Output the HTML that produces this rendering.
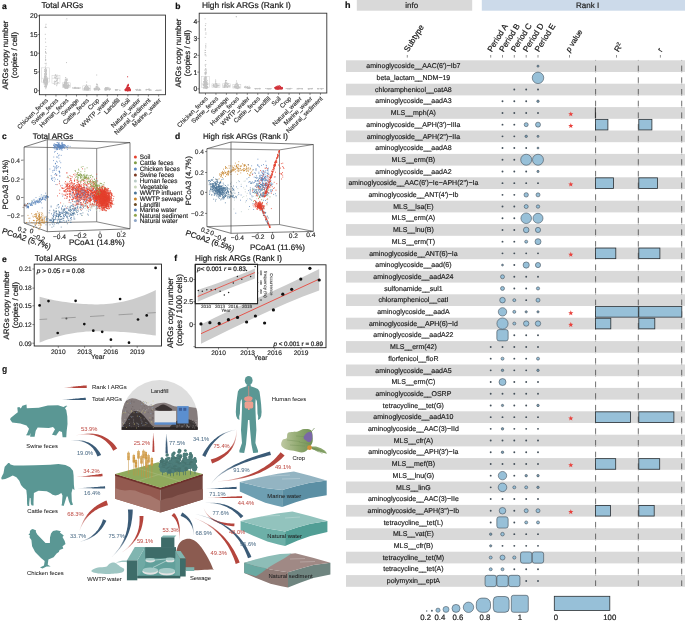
<!DOCTYPE html>
<html><head><meta charset="utf-8"><title>Figure</title>
<style>html,body{margin:0;padding:0;background:#fff;} svg{display:block;} text{font-family:"Liberation Sans", Arial, sans-serif;text-rendering:geometricPrecision;} .pg text{text-rendering:auto;}</style>
</head><body>
<svg width="685" height="621" viewBox="0 0 685 621">
<rect width="685" height="621" fill="#fff"/>
<rect x="356.80" y="0.00" width="115.40" height="10.70" fill="#d9d9d9"/>
<rect x="481.80" y="0.00" width="203.20" height="10.70" fill="#ccdaea"/>
<text x="345.00" y="8.20" font-size="9" font-weight="bold" fill="#111" stroke="#111" stroke-width="0.233">h</text>
<text x="411.80" y="8.20" font-size="8" text-anchor="middle" fill="#222" stroke="#222" stroke-width="0.195">info</text>
<text x="587.60" y="8.20" font-size="8" text-anchor="middle" fill="#222" stroke="#222" stroke-width="0.195">Rank I</text>
<rect x="346.00" y="60.30" width="339.00" height="11.70" fill="#d9d9d9"/>
<rect x="346.00" y="83.70" width="339.00" height="11.70" fill="#d9d9d9"/>
<rect x="346.00" y="107.10" width="339.00" height="11.70" fill="#d9d9d9"/>
<rect x="346.00" y="130.50" width="339.00" height="11.70" fill="#d9d9d9"/>
<rect x="346.00" y="153.90" width="339.00" height="11.70" fill="#d9d9d9"/>
<rect x="346.00" y="177.30" width="339.00" height="11.70" fill="#d9d9d9"/>
<rect x="346.00" y="200.70" width="339.00" height="11.70" fill="#d9d9d9"/>
<rect x="346.00" y="224.10" width="339.00" height="11.70" fill="#d9d9d9"/>
<rect x="346.00" y="247.50" width="339.00" height="11.70" fill="#d9d9d9"/>
<rect x="346.00" y="270.90" width="339.00" height="11.70" fill="#d9d9d9"/>
<rect x="346.00" y="294.30" width="339.00" height="11.70" fill="#d9d9d9"/>
<rect x="346.00" y="317.70" width="339.00" height="11.70" fill="#d9d9d9"/>
<rect x="346.00" y="341.10" width="339.00" height="11.70" fill="#d9d9d9"/>
<rect x="346.00" y="364.50" width="339.00" height="11.70" fill="#d9d9d9"/>
<rect x="346.00" y="387.90" width="339.00" height="11.70" fill="#d9d9d9"/>
<rect x="346.00" y="411.30" width="339.00" height="11.70" fill="#d9d9d9"/>
<rect x="346.00" y="434.70" width="339.00" height="11.70" fill="#d9d9d9"/>
<rect x="346.00" y="458.10" width="339.00" height="11.70" fill="#d9d9d9"/>
<rect x="346.00" y="481.50" width="339.00" height="11.70" fill="#d9d9d9"/>
<rect x="346.00" y="504.90" width="339.00" height="11.70" fill="#d9d9d9"/>
<rect x="346.00" y="528.30" width="339.00" height="11.70" fill="#d9d9d9"/>
<rect x="346.00" y="551.70" width="339.00" height="11.70" fill="#d9d9d9"/>
<rect x="346.00" y="575.10" width="339.00" height="11.70" fill="#d9d9d9"/>
<line x1="595.60" y1="65.60" x2="595.60" y2="71.20" stroke="#333" stroke-width="0.7"/>
<line x1="595.60" y1="59.90" x2="595.60" y2="60.90" stroke="#777" stroke-width="0.5"/>
<line x1="595.60" y1="77.30" x2="595.60" y2="82.90" stroke="#333" stroke-width="0.7"/>
<line x1="595.60" y1="71.60" x2="595.60" y2="72.60" stroke="#777" stroke-width="0.5"/>
<line x1="595.60" y1="89.00" x2="595.60" y2="94.60" stroke="#333" stroke-width="0.7"/>
<line x1="595.60" y1="83.30" x2="595.60" y2="84.30" stroke="#777" stroke-width="0.5"/>
<line x1="595.60" y1="100.70" x2="595.60" y2="106.30" stroke="#333" stroke-width="0.7"/>
<line x1="595.60" y1="95.00" x2="595.60" y2="96.00" stroke="#777" stroke-width="0.5"/>
<line x1="595.60" y1="112.40" x2="595.60" y2="118.00" stroke="#333" stroke-width="0.7"/>
<line x1="595.60" y1="106.70" x2="595.60" y2="107.70" stroke="#777" stroke-width="0.5"/>
<line x1="595.60" y1="124.10" x2="595.60" y2="129.70" stroke="#333" stroke-width="0.7"/>
<line x1="595.60" y1="118.40" x2="595.60" y2="119.40" stroke="#777" stroke-width="0.5"/>
<line x1="595.60" y1="135.80" x2="595.60" y2="141.40" stroke="#333" stroke-width="0.7"/>
<line x1="595.60" y1="130.10" x2="595.60" y2="131.10" stroke="#777" stroke-width="0.5"/>
<line x1="595.60" y1="147.50" x2="595.60" y2="153.10" stroke="#333" stroke-width="0.7"/>
<line x1="595.60" y1="141.80" x2="595.60" y2="142.80" stroke="#777" stroke-width="0.5"/>
<line x1="595.60" y1="159.20" x2="595.60" y2="164.80" stroke="#333" stroke-width="0.7"/>
<line x1="595.60" y1="153.50" x2="595.60" y2="154.50" stroke="#777" stroke-width="0.5"/>
<line x1="595.60" y1="170.90" x2="595.60" y2="176.50" stroke="#333" stroke-width="0.7"/>
<line x1="595.60" y1="165.20" x2="595.60" y2="166.20" stroke="#777" stroke-width="0.5"/>
<line x1="595.60" y1="182.60" x2="595.60" y2="188.20" stroke="#333" stroke-width="0.7"/>
<line x1="595.60" y1="176.90" x2="595.60" y2="177.90" stroke="#777" stroke-width="0.5"/>
<line x1="595.60" y1="194.30" x2="595.60" y2="199.90" stroke="#333" stroke-width="0.7"/>
<line x1="595.60" y1="188.60" x2="595.60" y2="189.60" stroke="#777" stroke-width="0.5"/>
<line x1="595.60" y1="206.00" x2="595.60" y2="211.60" stroke="#333" stroke-width="0.7"/>
<line x1="595.60" y1="200.30" x2="595.60" y2="201.30" stroke="#777" stroke-width="0.5"/>
<line x1="595.60" y1="217.70" x2="595.60" y2="223.30" stroke="#333" stroke-width="0.7"/>
<line x1="595.60" y1="212.00" x2="595.60" y2="213.00" stroke="#777" stroke-width="0.5"/>
<line x1="595.60" y1="229.40" x2="595.60" y2="235.00" stroke="#333" stroke-width="0.7"/>
<line x1="595.60" y1="223.70" x2="595.60" y2="224.70" stroke="#777" stroke-width="0.5"/>
<line x1="595.60" y1="241.10" x2="595.60" y2="246.70" stroke="#333" stroke-width="0.7"/>
<line x1="595.60" y1="235.40" x2="595.60" y2="236.40" stroke="#777" stroke-width="0.5"/>
<line x1="595.60" y1="252.80" x2="595.60" y2="258.40" stroke="#333" stroke-width="0.7"/>
<line x1="595.60" y1="247.10" x2="595.60" y2="248.10" stroke="#777" stroke-width="0.5"/>
<line x1="595.60" y1="264.50" x2="595.60" y2="270.10" stroke="#333" stroke-width="0.7"/>
<line x1="595.60" y1="258.80" x2="595.60" y2="259.80" stroke="#777" stroke-width="0.5"/>
<line x1="595.60" y1="276.20" x2="595.60" y2="281.80" stroke="#333" stroke-width="0.7"/>
<line x1="595.60" y1="270.50" x2="595.60" y2="271.50" stroke="#777" stroke-width="0.5"/>
<line x1="595.60" y1="287.90" x2="595.60" y2="293.50" stroke="#333" stroke-width="0.7"/>
<line x1="595.60" y1="282.20" x2="595.60" y2="283.20" stroke="#777" stroke-width="0.5"/>
<line x1="595.60" y1="299.60" x2="595.60" y2="305.20" stroke="#333" stroke-width="0.7"/>
<line x1="595.60" y1="293.90" x2="595.60" y2="294.90" stroke="#777" stroke-width="0.5"/>
<line x1="595.60" y1="311.30" x2="595.60" y2="316.90" stroke="#333" stroke-width="0.7"/>
<line x1="595.60" y1="305.60" x2="595.60" y2="306.60" stroke="#777" stroke-width="0.5"/>
<line x1="595.60" y1="323.00" x2="595.60" y2="328.60" stroke="#333" stroke-width="0.7"/>
<line x1="595.60" y1="317.30" x2="595.60" y2="318.30" stroke="#777" stroke-width="0.5"/>
<line x1="595.60" y1="334.70" x2="595.60" y2="340.30" stroke="#333" stroke-width="0.7"/>
<line x1="595.60" y1="329.00" x2="595.60" y2="330.00" stroke="#777" stroke-width="0.5"/>
<line x1="595.60" y1="346.40" x2="595.60" y2="352.00" stroke="#333" stroke-width="0.7"/>
<line x1="595.60" y1="340.70" x2="595.60" y2="341.70" stroke="#777" stroke-width="0.5"/>
<line x1="595.60" y1="358.10" x2="595.60" y2="363.70" stroke="#333" stroke-width="0.7"/>
<line x1="595.60" y1="352.40" x2="595.60" y2="353.40" stroke="#777" stroke-width="0.5"/>
<line x1="595.60" y1="369.80" x2="595.60" y2="375.40" stroke="#333" stroke-width="0.7"/>
<line x1="595.60" y1="364.10" x2="595.60" y2="365.10" stroke="#777" stroke-width="0.5"/>
<line x1="595.60" y1="381.50" x2="595.60" y2="387.10" stroke="#333" stroke-width="0.7"/>
<line x1="595.60" y1="375.80" x2="595.60" y2="376.80" stroke="#777" stroke-width="0.5"/>
<line x1="595.60" y1="393.20" x2="595.60" y2="398.80" stroke="#333" stroke-width="0.7"/>
<line x1="595.60" y1="387.50" x2="595.60" y2="388.50" stroke="#777" stroke-width="0.5"/>
<line x1="595.60" y1="404.90" x2="595.60" y2="410.50" stroke="#333" stroke-width="0.7"/>
<line x1="595.60" y1="399.20" x2="595.60" y2="400.20" stroke="#777" stroke-width="0.5"/>
<line x1="595.60" y1="416.60" x2="595.60" y2="422.20" stroke="#333" stroke-width="0.7"/>
<line x1="595.60" y1="410.90" x2="595.60" y2="411.90" stroke="#777" stroke-width="0.5"/>
<line x1="595.60" y1="428.30" x2="595.60" y2="433.90" stroke="#333" stroke-width="0.7"/>
<line x1="595.60" y1="422.60" x2="595.60" y2="423.60" stroke="#777" stroke-width="0.5"/>
<line x1="595.60" y1="440.00" x2="595.60" y2="445.60" stroke="#333" stroke-width="0.7"/>
<line x1="595.60" y1="434.30" x2="595.60" y2="435.30" stroke="#777" stroke-width="0.5"/>
<line x1="595.60" y1="451.70" x2="595.60" y2="457.30" stroke="#333" stroke-width="0.7"/>
<line x1="595.60" y1="446.00" x2="595.60" y2="447.00" stroke="#777" stroke-width="0.5"/>
<line x1="595.60" y1="463.40" x2="595.60" y2="469.00" stroke="#333" stroke-width="0.7"/>
<line x1="595.60" y1="457.70" x2="595.60" y2="458.70" stroke="#777" stroke-width="0.5"/>
<line x1="595.60" y1="475.10" x2="595.60" y2="480.70" stroke="#333" stroke-width="0.7"/>
<line x1="595.60" y1="469.40" x2="595.60" y2="470.40" stroke="#777" stroke-width="0.5"/>
<line x1="595.60" y1="486.80" x2="595.60" y2="492.40" stroke="#333" stroke-width="0.7"/>
<line x1="595.60" y1="481.10" x2="595.60" y2="482.10" stroke="#777" stroke-width="0.5"/>
<line x1="595.60" y1="498.50" x2="595.60" y2="504.10" stroke="#333" stroke-width="0.7"/>
<line x1="595.60" y1="492.80" x2="595.60" y2="493.80" stroke="#777" stroke-width="0.5"/>
<line x1="595.60" y1="510.20" x2="595.60" y2="515.80" stroke="#333" stroke-width="0.7"/>
<line x1="595.60" y1="504.50" x2="595.60" y2="505.50" stroke="#777" stroke-width="0.5"/>
<line x1="595.60" y1="521.90" x2="595.60" y2="527.50" stroke="#333" stroke-width="0.7"/>
<line x1="595.60" y1="516.20" x2="595.60" y2="517.20" stroke="#777" stroke-width="0.5"/>
<line x1="595.60" y1="533.60" x2="595.60" y2="539.20" stroke="#333" stroke-width="0.7"/>
<line x1="595.60" y1="527.90" x2="595.60" y2="528.90" stroke="#777" stroke-width="0.5"/>
<line x1="595.60" y1="545.30" x2="595.60" y2="550.90" stroke="#333" stroke-width="0.7"/>
<line x1="595.60" y1="539.60" x2="595.60" y2="540.60" stroke="#777" stroke-width="0.5"/>
<line x1="595.60" y1="557.00" x2="595.60" y2="562.60" stroke="#333" stroke-width="0.7"/>
<line x1="595.60" y1="551.30" x2="595.60" y2="552.30" stroke="#777" stroke-width="0.5"/>
<line x1="595.60" y1="568.70" x2="595.60" y2="574.30" stroke="#333" stroke-width="0.7"/>
<line x1="595.60" y1="563.00" x2="595.60" y2="564.00" stroke="#777" stroke-width="0.5"/>
<line x1="595.60" y1="580.40" x2="595.60" y2="586.00" stroke="#333" stroke-width="0.7"/>
<line x1="595.60" y1="574.70" x2="595.60" y2="575.70" stroke="#777" stroke-width="0.5"/>
<line x1="638.30" y1="65.60" x2="638.30" y2="71.20" stroke="#333" stroke-width="0.7"/>
<line x1="638.30" y1="59.90" x2="638.30" y2="60.90" stroke="#777" stroke-width="0.5"/>
<line x1="638.30" y1="77.30" x2="638.30" y2="82.90" stroke="#333" stroke-width="0.7"/>
<line x1="638.30" y1="71.60" x2="638.30" y2="72.60" stroke="#777" stroke-width="0.5"/>
<line x1="638.30" y1="89.00" x2="638.30" y2="94.60" stroke="#333" stroke-width="0.7"/>
<line x1="638.30" y1="83.30" x2="638.30" y2="84.30" stroke="#777" stroke-width="0.5"/>
<line x1="638.30" y1="100.70" x2="638.30" y2="106.30" stroke="#333" stroke-width="0.7"/>
<line x1="638.30" y1="95.00" x2="638.30" y2="96.00" stroke="#777" stroke-width="0.5"/>
<line x1="638.30" y1="112.40" x2="638.30" y2="118.00" stroke="#333" stroke-width="0.7"/>
<line x1="638.30" y1="106.70" x2="638.30" y2="107.70" stroke="#777" stroke-width="0.5"/>
<line x1="638.30" y1="124.10" x2="638.30" y2="129.70" stroke="#333" stroke-width="0.7"/>
<line x1="638.30" y1="118.40" x2="638.30" y2="119.40" stroke="#777" stroke-width="0.5"/>
<line x1="638.30" y1="135.80" x2="638.30" y2="141.40" stroke="#333" stroke-width="0.7"/>
<line x1="638.30" y1="130.10" x2="638.30" y2="131.10" stroke="#777" stroke-width="0.5"/>
<line x1="638.30" y1="147.50" x2="638.30" y2="153.10" stroke="#333" stroke-width="0.7"/>
<line x1="638.30" y1="141.80" x2="638.30" y2="142.80" stroke="#777" stroke-width="0.5"/>
<line x1="638.30" y1="159.20" x2="638.30" y2="164.80" stroke="#333" stroke-width="0.7"/>
<line x1="638.30" y1="153.50" x2="638.30" y2="154.50" stroke="#777" stroke-width="0.5"/>
<line x1="638.30" y1="170.90" x2="638.30" y2="176.50" stroke="#333" stroke-width="0.7"/>
<line x1="638.30" y1="165.20" x2="638.30" y2="166.20" stroke="#777" stroke-width="0.5"/>
<line x1="638.30" y1="182.60" x2="638.30" y2="188.20" stroke="#333" stroke-width="0.7"/>
<line x1="638.30" y1="176.90" x2="638.30" y2="177.90" stroke="#777" stroke-width="0.5"/>
<line x1="638.30" y1="194.30" x2="638.30" y2="199.90" stroke="#333" stroke-width="0.7"/>
<line x1="638.30" y1="188.60" x2="638.30" y2="189.60" stroke="#777" stroke-width="0.5"/>
<line x1="638.30" y1="206.00" x2="638.30" y2="211.60" stroke="#333" stroke-width="0.7"/>
<line x1="638.30" y1="200.30" x2="638.30" y2="201.30" stroke="#777" stroke-width="0.5"/>
<line x1="638.30" y1="217.70" x2="638.30" y2="223.30" stroke="#333" stroke-width="0.7"/>
<line x1="638.30" y1="212.00" x2="638.30" y2="213.00" stroke="#777" stroke-width="0.5"/>
<line x1="638.30" y1="229.40" x2="638.30" y2="235.00" stroke="#333" stroke-width="0.7"/>
<line x1="638.30" y1="223.70" x2="638.30" y2="224.70" stroke="#777" stroke-width="0.5"/>
<line x1="638.30" y1="241.10" x2="638.30" y2="246.70" stroke="#333" stroke-width="0.7"/>
<line x1="638.30" y1="235.40" x2="638.30" y2="236.40" stroke="#777" stroke-width="0.5"/>
<line x1="638.30" y1="252.80" x2="638.30" y2="258.40" stroke="#333" stroke-width="0.7"/>
<line x1="638.30" y1="247.10" x2="638.30" y2="248.10" stroke="#777" stroke-width="0.5"/>
<line x1="638.30" y1="264.50" x2="638.30" y2="270.10" stroke="#333" stroke-width="0.7"/>
<line x1="638.30" y1="258.80" x2="638.30" y2="259.80" stroke="#777" stroke-width="0.5"/>
<line x1="638.30" y1="276.20" x2="638.30" y2="281.80" stroke="#333" stroke-width="0.7"/>
<line x1="638.30" y1="270.50" x2="638.30" y2="271.50" stroke="#777" stroke-width="0.5"/>
<line x1="638.30" y1="287.90" x2="638.30" y2="293.50" stroke="#333" stroke-width="0.7"/>
<line x1="638.30" y1="282.20" x2="638.30" y2="283.20" stroke="#777" stroke-width="0.5"/>
<line x1="638.30" y1="299.60" x2="638.30" y2="305.20" stroke="#333" stroke-width="0.7"/>
<line x1="638.30" y1="293.90" x2="638.30" y2="294.90" stroke="#777" stroke-width="0.5"/>
<line x1="638.30" y1="311.30" x2="638.30" y2="316.90" stroke="#333" stroke-width="0.7"/>
<line x1="638.30" y1="305.60" x2="638.30" y2="306.60" stroke="#777" stroke-width="0.5"/>
<line x1="638.30" y1="323.00" x2="638.30" y2="328.60" stroke="#333" stroke-width="0.7"/>
<line x1="638.30" y1="317.30" x2="638.30" y2="318.30" stroke="#777" stroke-width="0.5"/>
<line x1="638.30" y1="334.70" x2="638.30" y2="340.30" stroke="#333" stroke-width="0.7"/>
<line x1="638.30" y1="329.00" x2="638.30" y2="330.00" stroke="#777" stroke-width="0.5"/>
<line x1="638.30" y1="346.40" x2="638.30" y2="352.00" stroke="#333" stroke-width="0.7"/>
<line x1="638.30" y1="340.70" x2="638.30" y2="341.70" stroke="#777" stroke-width="0.5"/>
<line x1="638.30" y1="358.10" x2="638.30" y2="363.70" stroke="#333" stroke-width="0.7"/>
<line x1="638.30" y1="352.40" x2="638.30" y2="353.40" stroke="#777" stroke-width="0.5"/>
<line x1="638.30" y1="369.80" x2="638.30" y2="375.40" stroke="#333" stroke-width="0.7"/>
<line x1="638.30" y1="364.10" x2="638.30" y2="365.10" stroke="#777" stroke-width="0.5"/>
<line x1="638.30" y1="381.50" x2="638.30" y2="387.10" stroke="#333" stroke-width="0.7"/>
<line x1="638.30" y1="375.80" x2="638.30" y2="376.80" stroke="#777" stroke-width="0.5"/>
<line x1="638.30" y1="393.20" x2="638.30" y2="398.80" stroke="#333" stroke-width="0.7"/>
<line x1="638.30" y1="387.50" x2="638.30" y2="388.50" stroke="#777" stroke-width="0.5"/>
<line x1="638.30" y1="404.90" x2="638.30" y2="410.50" stroke="#333" stroke-width="0.7"/>
<line x1="638.30" y1="399.20" x2="638.30" y2="400.20" stroke="#777" stroke-width="0.5"/>
<line x1="638.30" y1="416.60" x2="638.30" y2="422.20" stroke="#333" stroke-width="0.7"/>
<line x1="638.30" y1="410.90" x2="638.30" y2="411.90" stroke="#777" stroke-width="0.5"/>
<line x1="638.30" y1="428.30" x2="638.30" y2="433.90" stroke="#333" stroke-width="0.7"/>
<line x1="638.30" y1="422.60" x2="638.30" y2="423.60" stroke="#777" stroke-width="0.5"/>
<line x1="638.30" y1="440.00" x2="638.30" y2="445.60" stroke="#333" stroke-width="0.7"/>
<line x1="638.30" y1="434.30" x2="638.30" y2="435.30" stroke="#777" stroke-width="0.5"/>
<line x1="638.30" y1="451.70" x2="638.30" y2="457.30" stroke="#333" stroke-width="0.7"/>
<line x1="638.30" y1="446.00" x2="638.30" y2="447.00" stroke="#777" stroke-width="0.5"/>
<line x1="638.30" y1="463.40" x2="638.30" y2="469.00" stroke="#333" stroke-width="0.7"/>
<line x1="638.30" y1="457.70" x2="638.30" y2="458.70" stroke="#777" stroke-width="0.5"/>
<line x1="638.30" y1="475.10" x2="638.30" y2="480.70" stroke="#333" stroke-width="0.7"/>
<line x1="638.30" y1="469.40" x2="638.30" y2="470.40" stroke="#777" stroke-width="0.5"/>
<line x1="638.30" y1="486.80" x2="638.30" y2="492.40" stroke="#333" stroke-width="0.7"/>
<line x1="638.30" y1="481.10" x2="638.30" y2="482.10" stroke="#777" stroke-width="0.5"/>
<line x1="638.30" y1="498.50" x2="638.30" y2="504.10" stroke="#333" stroke-width="0.7"/>
<line x1="638.30" y1="492.80" x2="638.30" y2="493.80" stroke="#777" stroke-width="0.5"/>
<line x1="638.30" y1="510.20" x2="638.30" y2="515.80" stroke="#333" stroke-width="0.7"/>
<line x1="638.30" y1="504.50" x2="638.30" y2="505.50" stroke="#777" stroke-width="0.5"/>
<line x1="638.30" y1="521.90" x2="638.30" y2="527.50" stroke="#333" stroke-width="0.7"/>
<line x1="638.30" y1="516.20" x2="638.30" y2="517.20" stroke="#777" stroke-width="0.5"/>
<line x1="638.30" y1="533.60" x2="638.30" y2="539.20" stroke="#333" stroke-width="0.7"/>
<line x1="638.30" y1="527.90" x2="638.30" y2="528.90" stroke="#777" stroke-width="0.5"/>
<line x1="638.30" y1="545.30" x2="638.30" y2="550.90" stroke="#333" stroke-width="0.7"/>
<line x1="638.30" y1="539.60" x2="638.30" y2="540.60" stroke="#777" stroke-width="0.5"/>
<line x1="638.30" y1="557.00" x2="638.30" y2="562.60" stroke="#333" stroke-width="0.7"/>
<line x1="638.30" y1="551.30" x2="638.30" y2="552.30" stroke="#777" stroke-width="0.5"/>
<line x1="638.30" y1="568.70" x2="638.30" y2="574.30" stroke="#333" stroke-width="0.7"/>
<line x1="638.30" y1="563.00" x2="638.30" y2="564.00" stroke="#777" stroke-width="0.5"/>
<line x1="638.30" y1="580.40" x2="638.30" y2="586.00" stroke="#333" stroke-width="0.7"/>
<line x1="638.30" y1="574.70" x2="638.30" y2="575.70" stroke="#777" stroke-width="0.5"/>
<line x1="681.70" y1="65.60" x2="681.70" y2="71.20" stroke="#333" stroke-width="0.7"/>
<line x1="681.70" y1="59.90" x2="681.70" y2="60.90" stroke="#777" stroke-width="0.5"/>
<line x1="681.70" y1="77.30" x2="681.70" y2="82.90" stroke="#333" stroke-width="0.7"/>
<line x1="681.70" y1="71.60" x2="681.70" y2="72.60" stroke="#777" stroke-width="0.5"/>
<line x1="681.70" y1="89.00" x2="681.70" y2="94.60" stroke="#333" stroke-width="0.7"/>
<line x1="681.70" y1="83.30" x2="681.70" y2="84.30" stroke="#777" stroke-width="0.5"/>
<line x1="681.70" y1="100.70" x2="681.70" y2="106.30" stroke="#333" stroke-width="0.7"/>
<line x1="681.70" y1="95.00" x2="681.70" y2="96.00" stroke="#777" stroke-width="0.5"/>
<line x1="681.70" y1="112.40" x2="681.70" y2="118.00" stroke="#333" stroke-width="0.7"/>
<line x1="681.70" y1="106.70" x2="681.70" y2="107.70" stroke="#777" stroke-width="0.5"/>
<line x1="681.70" y1="124.10" x2="681.70" y2="129.70" stroke="#333" stroke-width="0.7"/>
<line x1="681.70" y1="118.40" x2="681.70" y2="119.40" stroke="#777" stroke-width="0.5"/>
<line x1="681.70" y1="135.80" x2="681.70" y2="141.40" stroke="#333" stroke-width="0.7"/>
<line x1="681.70" y1="130.10" x2="681.70" y2="131.10" stroke="#777" stroke-width="0.5"/>
<line x1="681.70" y1="147.50" x2="681.70" y2="153.10" stroke="#333" stroke-width="0.7"/>
<line x1="681.70" y1="141.80" x2="681.70" y2="142.80" stroke="#777" stroke-width="0.5"/>
<line x1="681.70" y1="159.20" x2="681.70" y2="164.80" stroke="#333" stroke-width="0.7"/>
<line x1="681.70" y1="153.50" x2="681.70" y2="154.50" stroke="#777" stroke-width="0.5"/>
<line x1="681.70" y1="170.90" x2="681.70" y2="176.50" stroke="#333" stroke-width="0.7"/>
<line x1="681.70" y1="165.20" x2="681.70" y2="166.20" stroke="#777" stroke-width="0.5"/>
<line x1="681.70" y1="182.60" x2="681.70" y2="188.20" stroke="#333" stroke-width="0.7"/>
<line x1="681.70" y1="176.90" x2="681.70" y2="177.90" stroke="#777" stroke-width="0.5"/>
<line x1="681.70" y1="194.30" x2="681.70" y2="199.90" stroke="#333" stroke-width="0.7"/>
<line x1="681.70" y1="188.60" x2="681.70" y2="189.60" stroke="#777" stroke-width="0.5"/>
<line x1="681.70" y1="206.00" x2="681.70" y2="211.60" stroke="#333" stroke-width="0.7"/>
<line x1="681.70" y1="200.30" x2="681.70" y2="201.30" stroke="#777" stroke-width="0.5"/>
<line x1="681.70" y1="217.70" x2="681.70" y2="223.30" stroke="#333" stroke-width="0.7"/>
<line x1="681.70" y1="212.00" x2="681.70" y2="213.00" stroke="#777" stroke-width="0.5"/>
<line x1="681.70" y1="229.40" x2="681.70" y2="235.00" stroke="#333" stroke-width="0.7"/>
<line x1="681.70" y1="223.70" x2="681.70" y2="224.70" stroke="#777" stroke-width="0.5"/>
<line x1="681.70" y1="241.10" x2="681.70" y2="246.70" stroke="#333" stroke-width="0.7"/>
<line x1="681.70" y1="235.40" x2="681.70" y2="236.40" stroke="#777" stroke-width="0.5"/>
<line x1="681.70" y1="252.80" x2="681.70" y2="258.40" stroke="#333" stroke-width="0.7"/>
<line x1="681.70" y1="247.10" x2="681.70" y2="248.10" stroke="#777" stroke-width="0.5"/>
<line x1="681.70" y1="264.50" x2="681.70" y2="270.10" stroke="#333" stroke-width="0.7"/>
<line x1="681.70" y1="258.80" x2="681.70" y2="259.80" stroke="#777" stroke-width="0.5"/>
<line x1="681.70" y1="276.20" x2="681.70" y2="281.80" stroke="#333" stroke-width="0.7"/>
<line x1="681.70" y1="270.50" x2="681.70" y2="271.50" stroke="#777" stroke-width="0.5"/>
<line x1="681.70" y1="287.90" x2="681.70" y2="293.50" stroke="#333" stroke-width="0.7"/>
<line x1="681.70" y1="282.20" x2="681.70" y2="283.20" stroke="#777" stroke-width="0.5"/>
<line x1="681.70" y1="299.60" x2="681.70" y2="305.20" stroke="#333" stroke-width="0.7"/>
<line x1="681.70" y1="293.90" x2="681.70" y2="294.90" stroke="#777" stroke-width="0.5"/>
<line x1="681.70" y1="311.30" x2="681.70" y2="316.90" stroke="#333" stroke-width="0.7"/>
<line x1="681.70" y1="305.60" x2="681.70" y2="306.60" stroke="#777" stroke-width="0.5"/>
<line x1="681.70" y1="323.00" x2="681.70" y2="328.60" stroke="#333" stroke-width="0.7"/>
<line x1="681.70" y1="317.30" x2="681.70" y2="318.30" stroke="#777" stroke-width="0.5"/>
<line x1="681.70" y1="334.70" x2="681.70" y2="340.30" stroke="#333" stroke-width="0.7"/>
<line x1="681.70" y1="329.00" x2="681.70" y2="330.00" stroke="#777" stroke-width="0.5"/>
<line x1="681.70" y1="346.40" x2="681.70" y2="352.00" stroke="#333" stroke-width="0.7"/>
<line x1="681.70" y1="340.70" x2="681.70" y2="341.70" stroke="#777" stroke-width="0.5"/>
<line x1="681.70" y1="358.10" x2="681.70" y2="363.70" stroke="#333" stroke-width="0.7"/>
<line x1="681.70" y1="352.40" x2="681.70" y2="353.40" stroke="#777" stroke-width="0.5"/>
<line x1="681.70" y1="369.80" x2="681.70" y2="375.40" stroke="#333" stroke-width="0.7"/>
<line x1="681.70" y1="364.10" x2="681.70" y2="365.10" stroke="#777" stroke-width="0.5"/>
<line x1="681.70" y1="381.50" x2="681.70" y2="387.10" stroke="#333" stroke-width="0.7"/>
<line x1="681.70" y1="375.80" x2="681.70" y2="376.80" stroke="#777" stroke-width="0.5"/>
<line x1="681.70" y1="393.20" x2="681.70" y2="398.80" stroke="#333" stroke-width="0.7"/>
<line x1="681.70" y1="387.50" x2="681.70" y2="388.50" stroke="#777" stroke-width="0.5"/>
<line x1="681.70" y1="404.90" x2="681.70" y2="410.50" stroke="#333" stroke-width="0.7"/>
<line x1="681.70" y1="399.20" x2="681.70" y2="400.20" stroke="#777" stroke-width="0.5"/>
<line x1="681.70" y1="416.60" x2="681.70" y2="422.20" stroke="#333" stroke-width="0.7"/>
<line x1="681.70" y1="410.90" x2="681.70" y2="411.90" stroke="#777" stroke-width="0.5"/>
<line x1="681.70" y1="428.30" x2="681.70" y2="433.90" stroke="#333" stroke-width="0.7"/>
<line x1="681.70" y1="422.60" x2="681.70" y2="423.60" stroke="#777" stroke-width="0.5"/>
<line x1="681.70" y1="440.00" x2="681.70" y2="445.60" stroke="#333" stroke-width="0.7"/>
<line x1="681.70" y1="434.30" x2="681.70" y2="435.30" stroke="#777" stroke-width="0.5"/>
<line x1="681.70" y1="451.70" x2="681.70" y2="457.30" stroke="#333" stroke-width="0.7"/>
<line x1="681.70" y1="446.00" x2="681.70" y2="447.00" stroke="#777" stroke-width="0.5"/>
<line x1="681.70" y1="463.40" x2="681.70" y2="469.00" stroke="#333" stroke-width="0.7"/>
<line x1="681.70" y1="457.70" x2="681.70" y2="458.70" stroke="#777" stroke-width="0.5"/>
<line x1="681.70" y1="475.10" x2="681.70" y2="480.70" stroke="#333" stroke-width="0.7"/>
<line x1="681.70" y1="469.40" x2="681.70" y2="470.40" stroke="#777" stroke-width="0.5"/>
<line x1="681.70" y1="486.80" x2="681.70" y2="492.40" stroke="#333" stroke-width="0.7"/>
<line x1="681.70" y1="481.10" x2="681.70" y2="482.10" stroke="#777" stroke-width="0.5"/>
<line x1="681.70" y1="498.50" x2="681.70" y2="504.10" stroke="#333" stroke-width="0.7"/>
<line x1="681.70" y1="492.80" x2="681.70" y2="493.80" stroke="#777" stroke-width="0.5"/>
<line x1="681.70" y1="510.20" x2="681.70" y2="515.80" stroke="#333" stroke-width="0.7"/>
<line x1="681.70" y1="504.50" x2="681.70" y2="505.50" stroke="#777" stroke-width="0.5"/>
<line x1="681.70" y1="521.90" x2="681.70" y2="527.50" stroke="#333" stroke-width="0.7"/>
<line x1="681.70" y1="516.20" x2="681.70" y2="517.20" stroke="#777" stroke-width="0.5"/>
<line x1="681.70" y1="533.60" x2="681.70" y2="539.20" stroke="#333" stroke-width="0.7"/>
<line x1="681.70" y1="527.90" x2="681.70" y2="528.90" stroke="#777" stroke-width="0.5"/>
<line x1="681.70" y1="545.30" x2="681.70" y2="550.90" stroke="#333" stroke-width="0.7"/>
<line x1="681.70" y1="539.60" x2="681.70" y2="540.60" stroke="#777" stroke-width="0.5"/>
<line x1="681.70" y1="557.00" x2="681.70" y2="562.60" stroke="#333" stroke-width="0.7"/>
<line x1="681.70" y1="551.30" x2="681.70" y2="552.30" stroke="#777" stroke-width="0.5"/>
<line x1="681.70" y1="568.70" x2="681.70" y2="574.30" stroke="#333" stroke-width="0.7"/>
<line x1="681.70" y1="563.00" x2="681.70" y2="564.00" stroke="#777" stroke-width="0.5"/>
<line x1="681.70" y1="580.40" x2="681.70" y2="586.00" stroke="#333" stroke-width="0.7"/>
<line x1="681.70" y1="574.70" x2="681.70" y2="575.70" stroke="#777" stroke-width="0.5"/>
<line x1="407.30" y1="55.00" x2="407.30" y2="57.60" stroke="#444" stroke-width="0.6"/>
<line x1="490.70" y1="55.00" x2="490.70" y2="57.60" stroke="#444" stroke-width="0.6"/>
<line x1="502.50" y1="55.00" x2="502.50" y2="57.60" stroke="#444" stroke-width="0.6"/>
<line x1="514.30" y1="55.00" x2="514.30" y2="57.60" stroke="#444" stroke-width="0.6"/>
<line x1="526.20" y1="55.00" x2="526.20" y2="57.60" stroke="#444" stroke-width="0.6"/>
<line x1="538.00" y1="55.00" x2="538.00" y2="57.60" stroke="#444" stroke-width="0.6"/>
<line x1="569.50" y1="55.00" x2="569.50" y2="57.60" stroke="#444" stroke-width="0.6"/>
<line x1="616.50" y1="55.00" x2="616.50" y2="57.60" stroke="#444" stroke-width="0.6"/>
<line x1="660.40" y1="55.00" x2="660.40" y2="57.60" stroke="#444" stroke-width="0.6"/>
<text transform="translate(408.30,52.40) rotate(-58)" font-size="8.2" fill="#1a1a1a" stroke="#1a1a1a" stroke-width="0.202">Subtype</text>
<text transform="translate(491.70,52.40) rotate(-58)" font-size="8.2" fill="#1a1a1a" stroke="#1a1a1a" stroke-width="0.202">Period A</text>
<text transform="translate(503.50,52.40) rotate(-58)" font-size="8.2" fill="#1a1a1a" stroke="#1a1a1a" stroke-width="0.202">Period B</text>
<text transform="translate(515.30,52.40) rotate(-58)" font-size="8.2" fill="#1a1a1a" stroke="#1a1a1a" stroke-width="0.202">Period C</text>
<text transform="translate(527.20,52.40) rotate(-58)" font-size="8.2" fill="#1a1a1a" stroke="#1a1a1a" stroke-width="0.202">Period D</text>
<text transform="translate(539.00,52.40) rotate(-58)" font-size="8.2" fill="#1a1a1a" stroke="#1a1a1a" stroke-width="0.202">Period E</text>
<text transform="translate(569.70,52.4) rotate(-58)" font-size="7.6" fill="#1a1a1a" stroke="#1a1a1a" stroke-width="0.2"><tspan font-style="italic">p</tspan> value</text>
<text transform="translate(618.50,52.4) rotate(-58)" font-size="8.2" fill="#1a1a1a" stroke="#1a1a1a" stroke-width="0.2">R<tspan font-size="5.2" dy="-2.8">2</tspan></text>
<text transform="translate(661.40,52.40) rotate(-58)" font-size="8.2" fill="#1a1a1a" stroke="#1a1a1a" stroke-width="0.202">r</text>
<text x="413.40" y="68.35" font-size="7.0" text-anchor="middle" fill="#1a1a1a" stroke="#1a1a1a" stroke-width="0.160">aminoglycoside__AAC(6')−Ib7</text>




<circle cx="538.00" cy="66.15" r="1.04" fill="#7a9db2" stroke="#3a4650" stroke-width="0.55"/>
<text x="413.40" y="80.05" font-size="7.0" text-anchor="middle" fill="#1a1a1a" stroke="#1a1a1a" stroke-width="0.160">beta_lactam__NDM−19</text>




<circle cx="538.00" cy="77.85" r="5.75" fill="#97c0d8" stroke="#3a4650" stroke-width="0.55"/>
<text x="413.40" y="91.75" font-size="7.0" text-anchor="middle" fill="#1a1a1a" stroke="#1a1a1a" stroke-width="0.160">chloramphenicol__catA8</text>


<circle cx="514.30" cy="89.55" r="0.95" fill="#434f59"/>
<circle cx="526.20" cy="89.55" r="0.95" fill="#434f59"/>
<circle cx="538.00" cy="89.55" r="0.95" fill="#434f59"/>
<text x="413.40" y="103.45" font-size="7.0" text-anchor="middle" fill="#1a1a1a" stroke="#1a1a1a" stroke-width="0.160">aminoglycoside__aadA3</text>

<circle cx="502.50" cy="101.25" r="0.95" fill="#434f59"/>
<circle cx="514.30" cy="101.25" r="0.95" fill="#434f59"/>
<circle cx="526.20" cy="101.25" r="0.95" fill="#434f59"/>
<circle cx="538.00" cy="101.25" r="1.23" fill="#7a9db2" stroke="#3a4650" stroke-width="0.55"/>
<text x="413.40" y="115.15" font-size="7.0" text-anchor="middle" fill="#1a1a1a" stroke="#1a1a1a" stroke-width="0.160">MLS__mph(A)</text>
<line x1="595.40" y1="107.50" x2="595.40" y2="118.40" stroke="#222" stroke-width="0.9"/>

<circle cx="502.50" cy="112.95" r="0.95" fill="#434f59"/>
<circle cx="514.30" cy="112.95" r="0.95" fill="#434f59"/>
<circle cx="526.20" cy="112.95" r="0.95" fill="#434f59"/>
<circle cx="538.00" cy="112.95" r="0.95" fill="#434f59"/>
<polygon points="570.80,111.45 571.47,113.23 573.37,113.32 571.88,114.50 572.39,116.33 570.80,115.28 569.21,116.33 569.72,114.50 568.23,113.32 570.13,113.23" fill="#e8413c"/>
<text x="413.40" y="126.85" font-size="7.0" text-anchor="middle" fill="#1a1a1a" stroke="#1a1a1a" stroke-width="0.160">aminoglycoside__APH(3')−IIIa</text>
<rect x="595.40" y="119.35" width="12.50" height="10.60" fill="#97c0d8" stroke="#2a2f33" stroke-width="0.8"/>
<rect x="638.80" y="119.35" width="13.10" height="10.60" fill="#97c0d8" stroke="#2a2f33" stroke-width="0.8"/>

<circle cx="502.50" cy="124.65" r="0.95" fill="#434f59"/>
<circle cx="514.30" cy="124.65" r="0.95" fill="#434f59"/>
<circle cx="526.20" cy="124.65" r="2.00" fill="#97c0d8" stroke="#3a4650" stroke-width="0.55"/>
<circle cx="538.00" cy="124.65" r="2.50" fill="#97c0d8" stroke="#3a4650" stroke-width="0.55"/>
<polygon points="570.80,123.15 571.47,124.93 573.37,125.02 571.88,126.20 572.39,128.03 570.80,126.98 569.21,128.03 569.72,126.20 568.23,125.02 570.13,124.93" fill="#e8413c"/>
<text x="413.40" y="138.55" font-size="7.0" text-anchor="middle" fill="#1a1a1a" stroke="#1a1a1a" stroke-width="0.160">aminoglycoside__APH(2'')−IIa</text>

<circle cx="502.50" cy="136.35" r="0.95" fill="#434f59"/>
<circle cx="514.30" cy="136.35" r="0.95" fill="#434f59"/>
<circle cx="526.20" cy="136.35" r="1.23" fill="#7a9db2" stroke="#3a4650" stroke-width="0.55"/>
<circle cx="538.00" cy="136.35" r="1.04" fill="#7a9db2" stroke="#3a4650" stroke-width="0.55"/>
<text x="413.40" y="150.25" font-size="7.0" text-anchor="middle" fill="#1a1a1a" stroke="#1a1a1a" stroke-width="0.160">aminoglycoside__aadA8</text>

<circle cx="502.50" cy="148.05" r="0.95" fill="#434f59"/>
<circle cx="514.30" cy="148.05" r="0.95" fill="#434f59"/>
<circle cx="526.20" cy="148.05" r="0.95" fill="#434f59"/>
<circle cx="538.00" cy="148.05" r="0.95" fill="#7a9db2" stroke="#3a4650" stroke-width="0.55"/>
<text x="413.40" y="161.95" font-size="7.0" text-anchor="middle" fill="#1a1a1a" stroke="#1a1a1a" stroke-width="0.160">MLS__erm(B)</text>

<circle cx="502.50" cy="159.75" r="0.95" fill="#434f59"/>
<circle cx="514.30" cy="159.75" r="0.95" fill="#434f59"/>
<circle cx="526.20" cy="159.75" r="5.50" fill="#97c0d8" stroke="#3a4650" stroke-width="0.55"/>
<circle cx="538.00" cy="159.75" r="5.50" fill="#97c0d8" stroke="#3a4650" stroke-width="0.55"/>
<text x="413.40" y="173.65" font-size="7.0" text-anchor="middle" fill="#1a1a1a" stroke="#1a1a1a" stroke-width="0.160">aminoglycoside__aadA2</text>

<circle cx="502.50" cy="171.45" r="0.95" fill="#434f59"/>
<circle cx="514.30" cy="171.45" r="0.95" fill="#434f59"/>
<circle cx="526.20" cy="171.45" r="0.95" fill="#434f59"/>
<circle cx="538.00" cy="171.45" r="1.14" fill="#7a9db2" stroke="#3a4650" stroke-width="0.55"/>
<text x="413.40" y="185.35" font-size="7.0" text-anchor="middle" fill="#1a1a1a" stroke="#1a1a1a" stroke-width="0.160">aminoglycoside__AAC(6')−Ie−APH(2'')−Ia</text>
<rect x="595.40" y="177.85" width="18.10" height="10.60" fill="#97c0d8" stroke="#2a2f33" stroke-width="0.8"/>
<rect x="638.80" y="177.85" width="18.80" height="10.60" fill="#97c0d8" stroke="#2a2f33" stroke-width="0.8"/>

<circle cx="502.50" cy="183.15" r="0.95" fill="#434f59"/>
<circle cx="514.30" cy="183.15" r="0.95" fill="#434f59"/>
<circle cx="526.20" cy="183.15" r="0.95" fill="#434f59"/>
<circle cx="538.00" cy="183.15" r="0.95" fill="#434f59"/>
<polygon points="570.80,181.65 571.47,183.43 573.37,183.52 571.88,184.70 572.39,186.53 570.80,185.48 569.21,186.53 569.72,184.70 568.23,183.52 570.13,183.43" fill="#e8413c"/>
<text x="413.40" y="197.05" font-size="7.0" text-anchor="middle" fill="#1a1a1a" stroke="#1a1a1a" stroke-width="0.160">aminoglycoside__ANT(4')−Ib</text>

<circle cx="502.50" cy="194.85" r="0.95" fill="#434f59"/>
<circle cx="514.30" cy="194.85" r="0.95" fill="#434f59"/>
<circle cx="526.20" cy="194.85" r="2.20" fill="#97c0d8" stroke="#3a4650" stroke-width="0.55"/>
<circle cx="538.00" cy="194.85" r="2.00" fill="#97c0d8" stroke="#3a4650" stroke-width="0.55"/>
<text x="413.40" y="208.75" font-size="7.0" text-anchor="middle" fill="#1a1a1a" stroke="#1a1a1a" stroke-width="0.160">MLS__lsa(E)</text>

<circle cx="502.50" cy="206.55" r="0.95" fill="#434f59"/>
<circle cx="514.30" cy="206.55" r="0.95" fill="#434f59"/>
<circle cx="526.20" cy="206.55" r="2.00" fill="#97c0d8" stroke="#3a4650" stroke-width="0.55"/>
<circle cx="538.00" cy="206.55" r="1.70" fill="#97c0d8" stroke="#3a4650" stroke-width="0.55"/>
<text x="413.40" y="220.45" font-size="7.0" text-anchor="middle" fill="#1a1a1a" stroke="#1a1a1a" stroke-width="0.160">MLS__erm(A)</text>

<circle cx="502.50" cy="218.25" r="0.95" fill="#434f59"/>
<circle cx="514.30" cy="218.25" r="0.95" fill="#434f59"/>
<circle cx="526.20" cy="218.25" r="5.30" fill="#97c0d8" stroke="#3a4650" stroke-width="0.55"/>
<circle cx="538.00" cy="218.25" r="5.00" fill="#97c0d8" stroke="#3a4650" stroke-width="0.55"/>
<text x="413.40" y="232.15" font-size="7.0" text-anchor="middle" fill="#1a1a1a" stroke="#1a1a1a" stroke-width="0.160">MLS__lnu(B)</text>

<circle cx="502.50" cy="229.95" r="0.95" fill="#434f59"/>
<circle cx="514.30" cy="229.95" r="0.95" fill="#434f59"/>
<circle cx="526.20" cy="229.95" r="2.80" fill="#97c0d8" stroke="#3a4650" stroke-width="0.55"/>
<circle cx="538.00" cy="229.95" r="2.60" fill="#97c0d8" stroke="#3a4650" stroke-width="0.55"/>
<text x="413.40" y="243.85" font-size="7.0" text-anchor="middle" fill="#1a1a1a" stroke="#1a1a1a" stroke-width="0.160">MLS__erm(T)</text>

<circle cx="502.50" cy="241.65" r="0.95" fill="#434f59"/>
<circle cx="514.30" cy="241.65" r="0.95" fill="#434f59"/>
<circle cx="526.20" cy="241.65" r="1.50" fill="#97c0d8" stroke="#3a4650" stroke-width="0.55"/>
<circle cx="538.00" cy="241.65" r="3.00" fill="#97c0d8" stroke="#3a4650" stroke-width="0.55"/>
<text x="413.40" y="255.55" font-size="7.0" text-anchor="middle" fill="#1a1a1a" stroke="#1a1a1a" stroke-width="0.160">aminoglycoside__ANT(6)−Ia</text>
<rect x="595.40" y="248.05" width="20.40" height="10.60" fill="#97c0d8" stroke="#2a2f33" stroke-width="0.8"/>
<rect x="638.80" y="248.05" width="21.10" height="10.60" fill="#97c0d8" stroke="#2a2f33" stroke-width="0.8"/>

<circle cx="502.50" cy="253.35" r="0.95" fill="#434f59"/>
<circle cx="514.30" cy="253.35" r="0.95" fill="#434f59"/>
<circle cx="526.20" cy="253.35" r="0.95" fill="#434f59"/>
<circle cx="538.00" cy="253.35" r="0.95" fill="#434f59"/>
<polygon points="570.80,251.85 571.47,253.63 573.37,253.72 571.88,254.90 572.39,256.73 570.80,255.68 569.21,256.73 569.72,254.90 568.23,253.72 570.13,253.63" fill="#e8413c"/>
<text x="413.40" y="267.25" font-size="7.0" text-anchor="middle" fill="#1a1a1a" stroke="#1a1a1a" stroke-width="0.160">aminoglycoside__aad(6)</text>

<circle cx="502.50" cy="265.05" r="0.95" fill="#7a9db2" stroke="#3a4650" stroke-width="0.55"/>
<circle cx="514.30" cy="265.05" r="0.95" fill="#434f59"/>
<circle cx="526.20" cy="265.05" r="3.10" fill="#97c0d8" stroke="#3a4650" stroke-width="0.55"/>
<circle cx="538.00" cy="265.05" r="2.60" fill="#97c0d8" stroke="#3a4650" stroke-width="0.55"/>
<text x="413.40" y="278.95" font-size="7.0" text-anchor="middle" fill="#1a1a1a" stroke="#1a1a1a" stroke-width="0.160">aminoglycoside__aadA24</text>

<circle cx="502.50" cy="276.75" r="2.00" fill="#97c0d8" stroke="#3a4650" stroke-width="0.55"/>
<circle cx="514.30" cy="276.75" r="0.95" fill="#434f59"/>
<circle cx="526.20" cy="276.75" r="0.95" fill="#434f59"/>
<circle cx="538.00" cy="276.75" r="0.95" fill="#434f59"/>
<text x="413.40" y="290.65" font-size="7.0" text-anchor="middle" fill="#1a1a1a" stroke="#1a1a1a" stroke-width="0.160">sulfonamide__sul1</text>

<circle cx="502.50" cy="288.45" r="2.00" fill="#97c0d8" stroke="#3a4650" stroke-width="0.55"/>
<circle cx="514.30" cy="288.45" r="0.95" fill="#434f59"/>
<circle cx="526.20" cy="288.45" r="0.95" fill="#434f59"/>
<circle cx="538.00" cy="288.45" r="1.60" fill="#97c0d8" stroke="#3a4650" stroke-width="0.55"/>
<text x="413.40" y="302.35" font-size="7.0" text-anchor="middle" fill="#1a1a1a" stroke="#1a1a1a" stroke-width="0.160">chloramphenicol__catI</text>

<circle cx="502.50" cy="300.15" r="2.80" fill="#97c0d8" stroke="#3a4650" stroke-width="0.55"/>
<circle cx="514.30" cy="300.15" r="1.50" fill="#97c0d8" stroke="#3a4650" stroke-width="0.55"/>
<circle cx="526.20" cy="300.15" r="0.95" fill="#434f59"/>
<circle cx="538.00" cy="300.15" r="2.00" fill="#97c0d8" stroke="#3a4650" stroke-width="0.55"/>
<text x="413.40" y="314.05" font-size="7.0" text-anchor="middle" fill="#1a1a1a" stroke="#1a1a1a" stroke-width="0.160">aminoglycoside__aadA</text>
<rect x="595.40" y="306.55" width="42.90" height="10.60" fill="#97c0d8" stroke="#2a2f33" stroke-width="0.8"/>
<rect x="638.80" y="306.55" width="43.00" height="10.60" fill="#97c0d8" stroke="#2a2f33" stroke-width="0.8"/>

<circle cx="502.50" cy="311.85" r="4.20" fill="#97c0d8" stroke="#3a4650" stroke-width="0.55"/>
<circle cx="514.30" cy="311.85" r="1.50" fill="#97c0d8" stroke="#3a4650" stroke-width="0.55"/>
<circle cx="526.20" cy="311.85" r="1.14" fill="#7a9db2" stroke="#3a4650" stroke-width="0.55"/>
<circle cx="538.00" cy="311.85" r="1.14" fill="#7a9db2" stroke="#3a4650" stroke-width="0.55"/>
<polygon points="570.80,310.35 571.47,312.13 573.37,312.22 571.88,313.40 572.39,315.23 570.80,314.18 569.21,315.23 569.72,313.40 568.23,312.22 570.13,312.13" fill="#e8413c"/>
<text x="413.40" y="325.75" font-size="7.0" text-anchor="middle" fill="#1a1a1a" stroke="#1a1a1a" stroke-width="0.160">aminoglycoside__APH(6)−Id</text>
<rect x="595.40" y="318.25" width="15.40" height="10.60" fill="#97c0d8" stroke="#2a2f33" stroke-width="0.8"/>
<rect x="638.80" y="318.25" width="16.00" height="10.60" fill="#97c0d8" stroke="#2a2f33" stroke-width="0.8"/>

<circle cx="502.50" cy="323.55" r="5.60" fill="#97c0d8" stroke="#3a4650" stroke-width="0.55"/>
<circle cx="514.30" cy="323.55" r="1.50" fill="#97c0d8" stroke="#3a4650" stroke-width="0.55"/>
<circle cx="526.20" cy="323.55" r="2.70" fill="#97c0d8" stroke="#3a4650" stroke-width="0.55"/>
<circle cx="538.00" cy="323.55" r="2.70" fill="#97c0d8" stroke="#3a4650" stroke-width="0.55"/>
<polygon points="570.80,322.05 571.47,323.83 573.37,323.92 571.88,325.10 572.39,326.93 570.80,325.88 569.21,326.93 569.72,325.10 568.23,323.92 570.13,323.83" fill="#e8413c"/>
<text x="413.40" y="337.45" font-size="7.0" text-anchor="middle" fill="#1a1a1a" stroke="#1a1a1a" stroke-width="0.160">aminoglycoside__aadA22</text>

<rect x="496.85" y="329.60" width="11.30" height="11.30" rx="2.2" fill="#97c0d8" stroke="#3a4650" stroke-width="0.6"/>
<circle cx="514.30" cy="335.25" r="0.95" fill="#434f59"/>
<circle cx="526.20" cy="335.25" r="0.95" fill="#434f59"/>
<circle cx="538.00" cy="335.25" r="0.95" fill="#434f59"/>
<text x="413.40" y="349.15" font-size="7.0" text-anchor="middle" fill="#1a1a1a" stroke="#1a1a1a" stroke-width="0.160">MLS__erm(42)</text>
<circle cx="490.70" cy="346.95" r="0.95" fill="#434f59"/>
<circle cx="502.50" cy="346.95" r="0.95" fill="#434f59"/>
<circle cx="514.30" cy="346.95" r="0.95" fill="#434f59"/>
<circle cx="526.20" cy="346.95" r="0.95" fill="#434f59"/>
<circle cx="538.00" cy="346.95" r="0.95" fill="#434f59"/>
<text x="413.40" y="360.85" font-size="7.0" text-anchor="middle" fill="#1a1a1a" stroke="#1a1a1a" stroke-width="0.160">florfenicol__floR</text>
<circle cx="490.70" cy="358.65" r="0.95" fill="#434f59"/>
<circle cx="502.50" cy="358.65" r="1.50" fill="#97c0d8" stroke="#3a4650" stroke-width="0.55"/>
<circle cx="514.30" cy="358.65" r="0.95" fill="#434f59"/>
<circle cx="526.20" cy="358.65" r="0.95" fill="#434f59"/>
<circle cx="538.00" cy="358.65" r="1.50" fill="#97c0d8" stroke="#3a4650" stroke-width="0.55"/>
<text x="413.40" y="372.55" font-size="7.0" text-anchor="middle" fill="#1a1a1a" stroke="#1a1a1a" stroke-width="0.160">aminoglycoside__aadA5</text>
<circle cx="490.70" cy="370.35" r="0.95" fill="#434f59"/>
<circle cx="502.50" cy="370.35" r="1.23" fill="#7a9db2" stroke="#3a4650" stroke-width="0.55"/>
<circle cx="514.30" cy="370.35" r="0.95" fill="#434f59"/>
<circle cx="526.20" cy="370.35" r="0.95" fill="#434f59"/>
<circle cx="538.00" cy="370.35" r="1.23" fill="#7a9db2" stroke="#3a4650" stroke-width="0.55"/>
<text x="413.40" y="384.25" font-size="7.0" text-anchor="middle" fill="#1a1a1a" stroke="#1a1a1a" stroke-width="0.160">MLS__erm(C)</text>
<circle cx="490.70" cy="382.05" r="0.95" fill="#434f59"/>
<circle cx="502.50" cy="382.05" r="3.50" fill="#97c0d8" stroke="#3a4650" stroke-width="0.55"/>
<circle cx="514.30" cy="382.05" r="0.95" fill="#434f59"/>
<circle cx="526.20" cy="382.05" r="0.95" fill="#434f59"/>
<circle cx="538.00" cy="382.05" r="0.95" fill="#434f59"/>
<text x="413.40" y="395.95" font-size="7.0" text-anchor="middle" fill="#1a1a1a" stroke="#1a1a1a" stroke-width="0.160">aminoglycoside__OSRP</text>
<circle cx="490.70" cy="393.75" r="0.95" fill="#434f59"/>
<circle cx="502.50" cy="393.75" r="0.95" fill="#434f59"/>
<circle cx="514.30" cy="393.75" r="0.95" fill="#434f59"/>
<circle cx="526.20" cy="393.75" r="0.95" fill="#434f59"/>
<circle cx="538.00" cy="393.75" r="0.95" fill="#434f59"/>
<text x="413.40" y="407.65" font-size="7.0" text-anchor="middle" fill="#1a1a1a" stroke="#1a1a1a" stroke-width="0.160">tetracycline__tet(G)</text>
<circle cx="490.70" cy="405.45" r="0.95" fill="#434f59"/>
<circle cx="502.50" cy="405.45" r="1.14" fill="#7a9db2" stroke="#3a4650" stroke-width="0.55"/>
<circle cx="514.30" cy="405.45" r="0.95" fill="#434f59"/>
<circle cx="526.20" cy="405.45" r="0.95" fill="#434f59"/>
<circle cx="538.00" cy="405.45" r="1.23" fill="#7a9db2" stroke="#3a4650" stroke-width="0.55"/>
<text x="413.40" y="419.35" font-size="7.0" text-anchor="middle" fill="#1a1a1a" stroke="#1a1a1a" stroke-width="0.160">aminoglycoside__aadA10</text>
<rect x="595.40" y="411.85" width="35.10" height="10.60" fill="#97c0d8" stroke="#2a2f33" stroke-width="0.8"/>
<rect x="638.80" y="411.85" width="35.10" height="10.60" fill="#97c0d8" stroke="#2a2f33" stroke-width="0.8"/>
<circle cx="490.70" cy="417.15" r="0.95" fill="#434f59"/>
<circle cx="502.50" cy="417.15" r="0.95" fill="#434f59"/>
<circle cx="514.30" cy="417.15" r="0.95" fill="#434f59"/>
<circle cx="526.20" cy="417.15" r="0.95" fill="#434f59"/>
<circle cx="538.00" cy="417.15" r="0.95" fill="#434f59"/>
<polygon points="570.80,415.65 571.47,417.43 573.37,417.52 571.88,418.70 572.39,420.53 570.80,419.48 569.21,420.53 569.72,418.70 568.23,417.52 570.13,417.43" fill="#e8413c"/>
<text x="413.40" y="431.05" font-size="7.0" text-anchor="middle" fill="#1a1a1a" stroke="#1a1a1a" stroke-width="0.160">aminoglycoside__AAC(3)−IId</text>
<circle cx="490.70" cy="428.85" r="0.95" fill="#434f59"/>
<circle cx="502.50" cy="428.85" r="1.23" fill="#7a9db2" stroke="#3a4650" stroke-width="0.55"/>
<circle cx="514.30" cy="428.85" r="0.95" fill="#434f59"/>
<circle cx="526.20" cy="428.85" r="0.95" fill="#434f59"/>
<circle cx="538.00" cy="428.85" r="0.95" fill="#434f59"/>
<text x="413.40" y="442.75" font-size="7.0" text-anchor="middle" fill="#1a1a1a" stroke="#1a1a1a" stroke-width="0.160">MLS__cfr(A)</text>
<circle cx="490.70" cy="440.55" r="0.95" fill="#434f59"/>
<circle cx="502.50" cy="440.55" r="0.95" fill="#434f59"/>
<circle cx="514.30" cy="440.55" r="0.95" fill="#434f59"/>
<circle cx="526.20" cy="440.55" r="0.95" fill="#434f59"/>
<circle cx="538.00" cy="440.55" r="0.95" fill="#434f59"/>
<text x="413.40" y="454.45" font-size="7.0" text-anchor="middle" fill="#1a1a1a" stroke="#1a1a1a" stroke-width="0.160">aminoglycoside__APH(3')−Ia</text>
<circle cx="490.70" cy="452.25" r="0.95" fill="#434f59"/>
<circle cx="502.50" cy="452.25" r="1.23" fill="#7a9db2" stroke="#3a4650" stroke-width="0.55"/>
<circle cx="514.30" cy="452.25" r="0.95" fill="#434f59"/>
<circle cx="526.20" cy="452.25" r="0.95" fill="#434f59"/>
<circle cx="538.00" cy="452.25" r="0.95" fill="#434f59"/>
<text x="413.40" y="466.15" font-size="7.0" text-anchor="middle" fill="#1a1a1a" stroke="#1a1a1a" stroke-width="0.160">MLS__mef(B)</text>
<rect x="595.40" y="458.65" width="20.30" height="10.60" fill="#97c0d8" stroke="#2a2f33" stroke-width="0.8"/>
<rect x="638.80" y="458.65" width="20.90" height="10.60" fill="#97c0d8" stroke="#2a2f33" stroke-width="0.8"/>
<circle cx="490.70" cy="463.95" r="0.95" fill="#434f59"/>
<circle cx="502.50" cy="463.95" r="0.95" fill="#434f59"/>
<circle cx="514.30" cy="463.95" r="0.95" fill="#434f59"/>
<circle cx="526.20" cy="463.95" r="0.95" fill="#434f59"/>
<circle cx="538.00" cy="463.95" r="0.95" fill="#434f59"/>
<polygon points="570.80,462.45 571.47,464.23 573.37,464.32 571.88,465.50 572.39,467.33 570.80,466.28 569.21,467.33 569.72,465.50 568.23,464.32 570.13,464.23" fill="#e8413c"/>
<text x="413.40" y="477.85" font-size="7.0" text-anchor="middle" fill="#1a1a1a" stroke="#1a1a1a" stroke-width="0.160">MLS__lnu(G)</text>
<circle cx="490.70" cy="475.65" r="0.95" fill="#434f59"/>
<circle cx="502.50" cy="475.65" r="4.20" fill="#97c0d8" stroke="#3a4650" stroke-width="0.55"/>
<circle cx="514.30" cy="475.65" r="0.95" fill="#434f59"/>
<circle cx="526.20" cy="475.65" r="1.23" fill="#7a9db2" stroke="#3a4650" stroke-width="0.55"/>
<circle cx="538.00" cy="475.65" r="1.23" fill="#7a9db2" stroke="#3a4650" stroke-width="0.55"/>
<text x="413.40" y="489.55" font-size="7.0" text-anchor="middle" fill="#1a1a1a" stroke="#1a1a1a" stroke-width="0.160">MLS__linG</text>
<circle cx="490.70" cy="487.35" r="0.95" fill="#434f59"/>
<circle cx="502.50" cy="487.35" r="4.30" fill="#97c0d8" stroke="#3a4650" stroke-width="0.55"/>
<circle cx="514.30" cy="487.35" r="1.50" fill="#97c0d8" stroke="#3a4650" stroke-width="0.55"/>
<circle cx="526.20" cy="487.35" r="1.50" fill="#97c0d8" stroke="#3a4650" stroke-width="0.55"/>
<circle cx="538.00" cy="487.35" r="1.23" fill="#7a9db2" stroke="#3a4650" stroke-width="0.55"/>
<text x="413.40" y="501.25" font-size="7.0" text-anchor="middle" fill="#1a1a1a" stroke="#1a1a1a" stroke-width="0.160">aminoglycoside__AAC(3)−IIe</text>
<circle cx="490.70" cy="499.05" r="0.95" fill="#434f59"/>
<circle cx="502.50" cy="499.05" r="0.95" fill="#434f59"/>
<circle cx="514.30" cy="499.05" r="0.95" fill="#434f59"/>
<circle cx="526.20" cy="499.05" r="0.95" fill="#434f59"/>
<circle cx="538.00" cy="499.05" r="0.95" fill="#434f59"/>
<text x="413.40" y="512.95" font-size="7.0" text-anchor="middle" fill="#1a1a1a" stroke="#1a1a1a" stroke-width="0.160">aminoglycoside__APH(3'')−Ib</text>
<rect x="595.40" y="505.45" width="15.10" height="10.60" fill="#97c0d8" stroke="#2a2f33" stroke-width="0.8"/>
<rect x="638.80" y="505.45" width="15.40" height="10.60" fill="#97c0d8" stroke="#2a2f33" stroke-width="0.8"/>
<circle cx="490.70" cy="510.75" r="0.95" fill="#434f59"/>
<circle cx="502.50" cy="510.75" r="3.30" fill="#97c0d8" stroke="#3a4650" stroke-width="0.55"/>
<circle cx="514.30" cy="510.75" r="0.95" fill="#434f59"/>
<circle cx="526.20" cy="510.75" r="2.00" fill="#97c0d8" stroke="#3a4650" stroke-width="0.55"/>
<circle cx="538.00" cy="510.75" r="2.00" fill="#97c0d8" stroke="#3a4650" stroke-width="0.55"/>
<polygon points="570.80,509.25 571.47,511.03 573.37,511.12 571.88,512.30 572.39,514.13 570.80,513.08 569.21,514.13 569.72,512.30 568.23,511.12 570.13,511.03" fill="#e8413c"/>
<text x="413.40" y="524.65" font-size="7.0" text-anchor="middle" fill="#1a1a1a" stroke="#1a1a1a" stroke-width="0.160">tetracycline__tet(L)</text>
<circle cx="490.70" cy="522.45" r="0.95" fill="#434f59"/>
<rect x="496.85" y="516.80" width="11.30" height="11.30" rx="2.2" fill="#97c0d8" stroke="#3a4650" stroke-width="0.6"/>
<circle cx="514.30" cy="522.45" r="0.95" fill="#434f59"/>
<circle cx="526.20" cy="522.45" r="1.50" fill="#97c0d8" stroke="#3a4650" stroke-width="0.55"/>
<circle cx="538.00" cy="522.45" r="1.50" fill="#97c0d8" stroke="#3a4650" stroke-width="0.55"/>
<text x="413.40" y="536.35" font-size="7.0" text-anchor="middle" fill="#1a1a1a" stroke="#1a1a1a" stroke-width="0.160">MLS__vat(E)</text>
<circle cx="490.70" cy="534.15" r="1.23" fill="#7a9db2" stroke="#3a4650" stroke-width="0.55"/>
<circle cx="502.50" cy="534.15" r="1.80" fill="#97c0d8" stroke="#3a4650" stroke-width="0.55"/>
<circle cx="514.30" cy="534.15" r="0.95" fill="#434f59"/>
<circle cx="526.20" cy="534.15" r="0.95" fill="#434f59"/>
<circle cx="538.00" cy="534.15" r="0.95" fill="#434f59"/>
<text x="413.40" y="548.05" font-size="7.0" text-anchor="middle" fill="#1a1a1a" stroke="#1a1a1a" stroke-width="0.160">MLS__cfr(B)</text>
<circle cx="490.70" cy="545.85" r="1.14" fill="#7a9db2" stroke="#3a4650" stroke-width="0.55"/>
<circle cx="502.50" cy="545.85" r="0.95" fill="#434f59"/>
<circle cx="514.30" cy="545.85" r="0.95" fill="#434f59"/>
<circle cx="526.20" cy="545.85" r="0.95" fill="#434f59"/>
<circle cx="538.00" cy="545.85" r="0.95" fill="#434f59"/>
<text x="413.40" y="559.75" font-size="7.0" text-anchor="middle" fill="#1a1a1a" stroke="#1a1a1a" stroke-width="0.160">tetracycline__tet(M)</text>
<circle cx="490.70" cy="557.55" r="1.50" fill="#97c0d8" stroke="#3a4650" stroke-width="0.55"/>
<circle cx="502.50" cy="557.55" r="2.50" fill="#97c0d8" stroke="#3a4650" stroke-width="0.55"/>
<circle cx="514.30" cy="557.55" r="1.60" fill="#97c0d8" stroke="#3a4650" stroke-width="0.55"/>
<rect x="520.55" y="551.90" width="11.30" height="11.30" rx="2.2" fill="#97c0d8" stroke="#3a4650" stroke-width="0.6"/>
<rect x="532.35" y="551.90" width="11.30" height="11.30" rx="2.2" fill="#97c0d8" stroke="#3a4650" stroke-width="0.6"/>
<text x="413.40" y="571.45" font-size="7.0" text-anchor="middle" fill="#1a1a1a" stroke="#1a1a1a" stroke-width="0.160">tetracycline__tet(A)</text>
<circle cx="490.70" cy="569.25" r="1.50" fill="#97c0d8" stroke="#3a4650" stroke-width="0.55"/>
<circle cx="502.50" cy="569.25" r="1.50" fill="#97c0d8" stroke="#3a4650" stroke-width="0.55"/>
<circle cx="514.30" cy="569.25" r="0.95" fill="#434f59"/>
<circle cx="526.20" cy="569.25" r="0.95" fill="#434f59"/>
<circle cx="538.00" cy="569.25" r="0.95" fill="#434f59"/>
<text x="413.40" y="583.15" font-size="7.0" text-anchor="middle" fill="#1a1a1a" stroke="#1a1a1a" stroke-width="0.160">polymyxin__eptA</text>
<rect x="485.05" y="575.30" width="11.30" height="11.30" rx="2.2" fill="#97c0d8" stroke="#3a4650" stroke-width="0.6"/>
<rect x="496.85" y="575.30" width="11.30" height="11.30" rx="2.2" fill="#97c0d8" stroke="#3a4650" stroke-width="0.6"/>
<rect x="508.65" y="575.30" width="11.30" height="11.30" rx="2.2" fill="#97c0d8" stroke="#3a4650" stroke-width="0.6"/>
<circle cx="526.20" cy="580.95" r="0.95" fill="#434f59"/>
<circle cx="538.00" cy="580.95" r="0.95" fill="#434f59"/>
<circle cx="426.70" cy="611.00" r="0.70" fill="#55636e"/>
<circle cx="431.90" cy="610.80" r="0.95" fill="#55636e"/>
<circle cx="438.00" cy="610.20" r="2.10" fill="#97c0d8" stroke="#3a4650" stroke-width="0.5"/>
<circle cx="446.00" cy="609.40" r="3.00" fill="#97c0d8" stroke="#3a4650" stroke-width="0.5"/>
<circle cx="456.00" cy="608.40" r="4.00" fill="#97c0d8" stroke="#3a4650" stroke-width="0.55"/>
<circle cx="468.50" cy="607.30" r="5.20" fill="#97c0d8" stroke="#3a4650" stroke-width="0.55"/>
<rect x="476.30" y="598.10" width="14.20" height="14.20" rx="5.5" fill="#97c0d8" stroke="#3a4650" stroke-width="0.6"/>
<rect x="493.30" y="596.50" width="15.80" height="15.80" rx="4.0" fill="#97c0d8" stroke="#3a4650" stroke-width="0.6"/>
<rect x="511.30" y="595.30" width="17.00" height="17.00" rx="2.2" fill="#97c0d8" stroke="#3a4650" stroke-width="0.6"/>
<text x="425.60" y="620.40" font-size="7.8" text-anchor="middle" fill="#1a1a1a" stroke="#1a1a1a" stroke-width="0.188">0.2</text>
<text x="439.80" y="620.40" font-size="7.8" text-anchor="middle" fill="#1a1a1a" stroke="#1a1a1a" stroke-width="0.188">0.4</text>
<text x="457.80" y="620.40" font-size="7.8" text-anchor="middle" fill="#1a1a1a" stroke="#1a1a1a" stroke-width="0.188">0.6</text>
<text x="485.00" y="620.40" font-size="7.8" text-anchor="middle" fill="#1a1a1a" stroke="#1a1a1a" stroke-width="0.188">0.8</text>
<text x="519.80" y="620.40" font-size="7.8" text-anchor="middle" fill="#1a1a1a" stroke="#1a1a1a" stroke-width="0.188">1</text>
<rect x="554.30" y="596.30" width="55.50" height="14.10" fill="#97c0d8" stroke="#2a2f33" stroke-width="0.8"/>
<text x="556.00" y="620.40" font-size="7.8" text-anchor="middle" fill="#1a1a1a" stroke="#1a1a1a" stroke-width="0.188">0</text>
<text x="609.80" y="620.40" font-size="7.8" text-anchor="middle" fill="#1a1a1a" stroke="#1a1a1a" stroke-width="0.188">100</text>
<text x="2.00" y="9.20" font-size="8.5" font-weight="bold" fill="#111" stroke="#111" stroke-width="0.214">a</text>
<text x="175.30" y="8.60" font-size="8.5" font-weight="bold" fill="#111" stroke="#111" stroke-width="0.214">b</text>
<text transform="translate(7.80,55.00) rotate(-90)" font-size="7.9" text-anchor="middle" fill="#1a1a1a" stroke="#1a1a1a" stroke-width="0.191">ARGs copy number</text>
<text transform="translate(16.90,55.00) rotate(-90)" font-size="7.9" text-anchor="middle" fill="#1a1a1a" stroke="#1a1a1a" stroke-width="0.191">(copies / cell)</text>
<text transform="translate(181.30,53.00) rotate(-90)" font-size="7.9" text-anchor="middle" fill="#1a1a1a" stroke="#1a1a1a" stroke-width="0.191">ARGs copy number</text>
<text transform="translate(190.30,53.00) rotate(-90)" font-size="7.9" text-anchor="middle" fill="#1a1a1a" stroke="#1a1a1a" stroke-width="0.191">(copies / cell)</text>
<rect x="41.70" y="67.86" width="8.00" height="14.23" fill="none" stroke="#cfcfcf" stroke-width="0.5"/>
<line x1="41.70" y1="78.34" x2="49.70" y2="78.34" stroke="#cfcfcf" stroke-width="0.5"/>
<rect x="51.97" y="75.35" width="8.00" height="7.86" fill="none" stroke="#cfcfcf" stroke-width="0.5"/>
<line x1="51.97" y1="78.34" x2="59.97" y2="78.34" stroke="#cfcfcf" stroke-width="0.5"/>
<rect x="62.24" y="82.84" width="8.00" height="4.49" fill="none" stroke="#cfcfcf" stroke-width="0.5"/>
<line x1="62.24" y1="85.08" x2="70.24" y2="85.08" stroke="#cfcfcf" stroke-width="0.5"/>
<rect x="72.51" y="87.52" width="8.00" height="0.94" fill="none" stroke="#cfcfcf" stroke-width="0.5"/>
<line x1="72.51" y1="88.08" x2="80.51" y2="88.08" stroke="#cfcfcf" stroke-width="0.5"/>
<rect x="82.78" y="85.83" width="8.00" height="4.68" fill="none" stroke="#cfcfcf" stroke-width="0.5"/>
<line x1="82.78" y1="88.83" x2="90.78" y2="88.83" stroke="#cfcfcf" stroke-width="0.5"/>
<path d="M44.7 78.1h0M45.5 68.3h0M46.7 83.2h0M45.2 71.0h0M45.0 80.2h0M45.3 80.2h0M45.6 59.7h0M45.5 77.7h0M47.3 79.0h0M45.0 73.4h0M44.8 69.6h0M47.5 78.9h0M46.5 74.6h0M47.4 83.3h0M45.4 80.7h0M47.6 81.1h0M46.9 84.5h0M45.0 85.1h0M46.3 85.4h0M47.3 80.1h0M46.4 79.7h0M45.8 80.5h0M45.1 78.3h0M45.3 84.6h0M44.6 79.2h0M44.5 77.2h0M45.9 73.3h0M44.9 82.9h0M47.1 80.9h0M44.7 86.3h0M47.4 81.4h0M46.1 86.7h0M46.8 84.8h0M46.5 69.9h0M46.4 86.7h0M45.9 72.8h0M44.5 76.6h0M46.8 80.4h0M44.9 75.6h0M45.3 75.1h0M46.1 70.5h0M45.8 80.0h0M45.4 81.8h0M47.4 81.8h0M46.1 83.4h0M45.1 79.0h0M44.8 82.6h0M46.5 70.3h0M45.6 86.0h0M46.7 83.8h0M45.2 83.3h0M45.1 86.5h0M45.7 59.7h0M46.3 87.1h0M44.2 80.3h0M46.9 81.5h0M46.2 63.3h0M46.4 86.3h0M46.4 70.2h0M43.8 82.4h0M46.3 79.6h0M47.2 82.1h0M44.8 74.2h0M45.0 83.9h0M44.8 79.2h0M45.8 76.4h0M45.6 60.6h0M45.6 87.1h0M46.0 65.0h0M44.7 71.4h0M43.8 81.3h0M44.8 76.7h0M44.1 81.2h0M45.2 63.4h0M47.0 77.4h0M47.3 79.9h0M43.8 80.0h0M45.7 79.9h0M44.9 79.7h0M45.0 83.0h0M45.5 57.2h0M46.1 86.1h0M45.8 88.7h0M45.1 79.4h0M44.4 79.6h0M45.3 76.3h0M44.0 79.9h0M45.9 79.6h0M46.2 76.5h0M45.5 71.3h0M43.8 81.1h0M44.2 80.8h0M45.5 59.1h0M45.9 75.1h0M46.7 83.4h0M45.6 52.4h0M46.3 73.0h0M46.2 81.8h0M45.5 84.0h0M45.4 76.8h0M45.7 82.8h0M46.4 83.6h0M45.5 84.4h0M46.5 81.4h0M45.6 69.9h0M44.6 81.1h0M45.8 84.9h0M46.1 74.0h0M44.4 78.3h0M45.6 72.4h0M45.6 68.8h0M47.3 79.7h0M47.5 79.6h0M45.2 79.0h0M47.0 83.9h0M46.4 74.0h0M45.4 66.9h0M45.6 77.6h0M43.9 80.1h0M47.2 80.2h0M46.3 82.6h0M47.2 82.7h0M47.0 80.9h0M46.3 82.8h0M46.7 81.1h0M45.9 85.3h0M44.8 76.4h0M46.0 78.4h0M44.1 84.0h0M45.0 86.9h0M46.7 78.8h0M44.8 69.9h0M44.1 82.4h0M44.0 81.3h0M47.3 81.7h0M45.0 74.1h0M44.1 83.1h0M46.4 71.1h0M44.0 80.4h0M46.3 71.7h0M46.2 78.5h0M47.3 80.0h0M46.9 85.0h0M46.0 82.2h0M47.1 80.2h0M44.7 74.0h0M46.4 77.2h0M45.7 82.2h0M46.2 76.0h0M44.9 71.1h0M46.8 79.6h0M47.6 81.1h0M43.7 80.9h0M45.4 72.7h0M45.8 75.0h0M46.8 83.2h0M45.1 76.2h0M44.3 81.3h0M44.7 82.5h0M45.8 68.4h0M46.0 24.3h0M45.6 42.2h0M45.5 51.5h0M45.6 55.8h0M45.5 38.9h0M45.6 52.9h0M45.2 27.5h0M45.7 26.2h0M46.3 53.2h0M45.6 49.3h0M46.0 27.5h0M45.3 34.3h0M45.9 27.5h0M46.0 46.5h0M55.8 81.5h0M57.5 83.0h0M57.2 83.9h0M56.2 78.9h0M55.9 77.5h0M56.9 80.7h0M57.0 75.1h0M55.5 81.6h0M56.8 84.0h0M57.9 77.0h0M55.8 78.2h0M55.0 76.2h0M54.7 77.7h0M56.9 80.5h0M56.7 76.5h0M58.1 82.5h0M56.7 85.7h0M54.8 81.1h0M54.9 84.5h0M55.4 74.7h0M54.3 81.8h0M56.9 80.9h0M57.3 79.3h0M57.8 78.6h0M54.8 82.7h0M57.4 79.0h0M55.1 77.6h0M55.7 75.7h0M57.1 82.1h0M54.2 83.7h0M68.3 84.6h0M66.2 79.2h0M66.5 81.7h0M67.6 85.7h0M64.6 82.3h0M67.5 87.6h0M67.3 86.6h0M66.2 82.3h0M66.4 85.0h0M66.0 87.2h0M64.9 83.8h0M66.4 84.2h0M65.2 80.7h0M66.2 82.1h0M67.2 85.7h0M65.9 86.2h0M66.6 85.4h0M69.0 85.6h0M67.2 79.9h0M65.4 79.2h0M66.9 80.4h0M66.8 84.0h0M63.5 85.7h0M65.8 82.3h0M64.6 85.9h0M64.1 84.5h0M66.4 88.0h0M68.9 86.1h0M65.8 80.0h0M68.2 87.2h0M67.1 87.8h0M64.0 85.5h0M67.0 78.8h0M66.5 79.9h0M68.9 85.9h0M67.6 86.2h0M67.7 85.4h0M65.3 87.0h0M68.1 85.0h0M68.9 85.8h0M67.8 87.8h0M65.8 86.4h0M67.8 85.7h0M66.1 86.9h0M64.2 87.3h0M64.8 82.3h0M65.7 77.5h0M64.4 85.8h0M64.1 86.1h0M66.2 83.7h0M67.5 85.6h0M66.5 86.8h0M66.1 80.2h0M67.0 87.2h0M65.0 86.7h0M66.0 86.5h0M67.8 86.9h0M65.6 85.7h0M64.9 83.4h0M67.2 80.0h0M67.1 83.1h0M65.4 85.0h0M65.6 87.5h0M66.4 85.2h0M66.8 87.0h0M64.6 85.3h0M64.8 82.0h0M64.6 84.5h0M68.0 85.6h0M64.0 86.7h0M66.0 85.1h0M64.5 84.8h0M64.6 87.0h0M64.1 86.2h0M65.9 82.3h0M64.9 88.0h0M63.3 86.1h0M64.3 87.4h0M65.4 79.4h0M66.2 83.3h0M64.5 83.6h0M64.2 84.0h0M66.0 84.3h0M65.8 84.3h0M67.1 87.9h0M63.9 84.4h0M65.8 83.4h0M65.8 87.7h0M64.6 82.6h0M68.2 83.1h0M65.0 87.9h0M63.7 86.2h0M66.1 85.8h0M64.1 86.3h0M66.8 84.0h0M65.5 87.5h0M64.0 85.6h0M63.9 84.5h0M67.1 82.9h0M64.9 85.0h0M68.0 85.7h0M66.1 83.0h0M67.7 88.4h0M65.6 82.1h0M64.7 85.8h0M65.1 87.5h0M68.2 86.1h0M66.7 88.2h0M65.7 88.5h0M63.8 85.9h0M66.5 62.6h0M66.8 18.8h0M78.0 87.8h0M78.5 88.4h0M78.6 88.4h0M74.3 88.4h0M75.6 88.3h0M77.0 88.4h0M78.7 88.4h0M74.5 87.7h0M75.5 87.4h0M78.2 88.2h0M74.7 87.4h0M76.0 87.9h0M87.2 89.4h0M84.1 89.4h0M86.4 85.1h0M88.8 87.4h0M85.1 88.8h0M87.1 88.6h0M86.4 90.0h0M87.9 87.2h0M87.3 89.7h0M87.7 86.6h0M87.0 89.0h0M85.1 89.2h0M85.1 87.8h0M84.5 88.1h0M88.5 89.7h0M84.5 88.6h0M84.8 87.3h0M89.6 88.8h0M85.3 89.8h0M89.1 88.8h0M84.6 89.6h0M86.6 89.2h0M85.2 88.4h0M88.7 88.5h0M87.5 88.8h0M87.4 90.0h0M88.2 87.8h0M89.0 88.7h0M85.9 89.0h0M87.3 88.2h0M86.7 82.1h0M84.8 89.8h0M88.3 90.0h0M87.1 86.9h0M88.5 89.4h0M86.4 85.1h0M87.0 89.6h0M86.6 89.1h0M87.5 86.7h0M85.5 86.5h0M86.0 87.6h0M86.7 87.6h0M84.3 88.6h0M87.1 89.0h0M88.2 88.8h0M86.7 85.3h0M87.3 87.0h0M87.4 88.4h0M85.2 87.9h0M86.3 86.7h0M97.1 86.9h0M97.2 87.5h0M96.2 88.9h0M99.1 89.2h0M95.8 88.6h0M96.8 88.7h0M99.0 88.0h0M97.8 86.2h0M95.9 89.5h0M96.7 84.2h0M98.5 90.2h0M94.7 90.0h0M95.2 89.9h0M97.2 89.7h0M97.3 89.1h0M96.6 84.3h0M94.5 89.5h0M96.0 87.1h0M98.7 89.2h0M96.9 88.7h0M99.6 89.7h0M98.7 88.9h0M99.8 89.4h0M94.3 88.6h0M95.3 88.3h0M94.2 89.0h0M96.7 89.6h0M96.2 89.9h0M94.4 89.0h0M97.1 85.8h0M94.8 88.3h0M95.9 89.0h0M96.2 87.2h0M98.7 89.6h0M96.8 86.5h0M95.7 88.8h0M94.4 89.6h0M96.7 87.9h0M97.7 88.2h0M98.1 89.2h0M99.4 88.6h0M98.2 87.4h0M96.4 86.4h0M95.0 89.6h0M98.2 90.3h0M97.4 84.4h0M97.1 89.1h0M99.0 89.2h0M97.3 88.3h0M95.7 89.2h0M96.7 75.0h0M107.4 88.3h0M108.9 87.9h0M110.0 89.1h0M107.8 87.4h0M105.8 89.9h0M109.4 89.9h0M105.4 89.0h0M106.9 87.5h0M109.0 89.7h0M106.4 89.7h0M106.1 89.6h0M109.7 89.6h0M109.8 89.2h0M106.2 88.7h0M106.9 87.9h0M106.3 88.1h0M105.2 89.2h0M106.0 89.6h0M110.2 88.8h0M105.3 90.0h0M105.7 88.8h0M106.0 90.2h0M104.9 88.6h0M107.5 88.8h0M108.7 88.6h0M109.1 89.8h0M108.1 89.3h0M108.8 88.2h0M104.9 89.9h0M106.3 88.1h0M109.7 89.5h0M105.4 88.0h0M106.0 89.0h0M107.2 89.8h0M106.1 89.4h0M107.6 89.4h0M105.6 87.7h0M105.8 88.9h0M109.8 89.4h0M105.4 89.5h0M115.4 89.6h0M119.8 90.2h0M117.8 89.6h0M117.0 89.8h0M115.7 89.8h0M117.1 90.2h0M119.9 90.3h0M116.5 89.8h0M115.8 90.2h0M115.9 90.2h0M115.8 89.7h0M116.9 89.7h0M140.4 90.2h0M135.9 89.5h0M139.3 90.4h0M139.5 89.4h0M136.6 90.0h0M137.9 90.0h0M140.8 90.2h0M137.2 89.4h0M139.6 90.3h0M136.3 89.9h0M139.1 89.9h0M136.8 90.3h0M138.2 90.3h0M137.4 89.4h0M140.2 89.6h0M139.5 89.7h0M149.7 89.8h0M147.7 89.5h0M145.8 89.9h0M148.7 89.3h0M149.8 90.1h0M150.8 89.7h0M146.7 89.6h0M146.5 89.9h0M151.0 90.4h0M149.7 90.3h0M148.3 89.6h0M149.7 90.2h0M146.4 89.4h0M148.6 89.8h0M149.3 89.1h0M149.0 89.2h0M155.9 90.5h0M157.4 90.5h0M159.8 90.2h0M156.8 90.0h0M156.1 90.5h0M158.8 90.6h0M157.7 90.6h0M161.3 90.1h0M156.4 90.4h0M160.4 90.3h0M158.0 90.0h0M160.4 90.2h0M158.4 90.4h0M159.6 90.2h0" stroke="#c3c3c3" stroke-width="1.0" stroke-linecap="square" fill="none"/>
<path d="M128.9 87.5h0M129.6 90.6h0M127.0 90.4h0M127.7 87.0h0M128.0 85.6h0M129.9 90.3h0M126.2 90.1h0M127.6 86.8h0M125.5 89.8h0M128.6 89.1h0M125.3 90.2h0M130.1 90.7h0M128.0 90.1h0M128.2 88.9h0M126.0 88.7h0M126.3 89.6h0M127.7 89.9h0M129.9 89.7h0M128.1 89.9h0M126.6 89.7h0M129.5 88.4h0M128.7 90.4h0M128.0 89.5h0M127.1 87.2h0M127.2 88.2h0M130.0 90.4h0M127.2 86.4h0M128.0 88.3h0M128.5 90.5h0M127.1 90.3h0M129.3 90.4h0M130.0 90.6h0M128.4 85.7h0M129.2 90.0h0M127.0 88.0h0M125.5 90.5h0M127.5 90.7h0M127.3 88.0h0M126.6 88.6h0M128.3 84.4h0M126.3 89.2h0M129.7 89.7h0M129.9 88.8h0M125.9 90.6h0M130.2 89.7h0M127.3 89.9h0M126.3 90.5h0M126.0 89.5h0M125.3 90.2h0M127.9 89.8h0M127.2 90.1h0M129.8 90.2h0M129.7 90.1h0M125.2 89.5h0M127.7 85.5h0M127.6 87.1h0M126.8 88.1h0M127.0 88.3h0M126.6 90.3h0M128.1 85.8h0M127.0 90.3h0M125.8 90.5h0M126.3 89.8h0M127.6 89.0h0M128.2 90.2h0M126.4 89.3h0M129.0 90.3h0M127.4 86.2h0M128.8 89.9h0M128.5 89.8h0M126.0 89.7h0M128.6 88.0h0M127.7 85.1h0M128.1 89.7h0M128.4 89.9h0M128.6 89.4h0M127.6 90.6h0M125.4 90.0h0M128.8 88.2h0M129.5 88.7h0M127.8 90.6h0M128.1 88.2h0M126.6 90.1h0M128.4 85.5h0M128.9 90.1h0M126.4 90.4h0M129.7 89.7h0M129.3 87.9h0M127.0 90.0h0M129.4 88.1h0M127.8 89.1h0M126.1 90.1h0M129.1 90.2h0M126.9 89.8h0M129.2 90.0h0M128.3 90.1h0M125.6 89.3h0M127.9 88.0h0M129.9 89.5h0M127.7 90.5h0M128.1 90.4h0M129.9 90.1h0M127.5 89.4h0M127.8 90.5h0M128.3 90.6h0M129.6 90.2h0M126.2 90.3h0M125.8 90.7h0M129.4 89.7h0M128.0 87.4h0M126.7 89.7h0M129.8 88.9h0M129.2 88.4h0M128.0 88.3h0M129.2 87.5h0M129.8 89.9h0M129.2 89.2h0M126.8 90.5h0M126.4 87.9h0M128.9 90.1h0M129.2 89.9h0M127.4 87.8h0M127.7 90.3h0M128.2 90.4h0M126.9 88.4h0M129.0 89.5h0M128.2 90.6h0M127.3 90.7h0M125.7 90.1h0M128.1 90.7h0M127.2 88.4h0M129.1 90.4h0M126.1 90.3h0M127.3 90.1h0M126.1 89.8h0M127.3 90.0h0M128.3 89.4h0M125.6 89.3h0M125.3 89.9h0M127.8 90.6h0M127.4 85.6h0M127.9 89.2h0M126.1 90.6h0M125.6 89.9h0M128.0 88.9h0M128.4 84.4h0M129.8 90.6h0M127.9 90.7h0M127.3 89.8h0M125.4 90.0h0M127.6 76.8h0" stroke="#d2343c" stroke-width="1.0" stroke-linecap="square" fill="none"/>
<rect x="39.40" y="15.10" width="126.10" height="79.60" fill="none" stroke="#333" stroke-width="0.9"/>
<line x1="37.60" y1="90.70" x2="39.40" y2="90.70" stroke="#333" stroke-width="0.6"/>
<text x="37.60" y="93.10" font-size="6.8" text-anchor="end" fill="#222" stroke="#222" stroke-width="0.153">0</text>
<line x1="37.60" y1="71.97" x2="39.40" y2="71.97" stroke="#333" stroke-width="0.6"/>
<text x="37.60" y="74.38" font-size="6.8" text-anchor="end" fill="#222" stroke="#222" stroke-width="0.153">5</text>
<line x1="37.60" y1="53.25" x2="39.40" y2="53.25" stroke="#333" stroke-width="0.6"/>
<text x="37.60" y="55.65" font-size="6.8" text-anchor="end" fill="#222" stroke="#222" stroke-width="0.153">10</text>
<line x1="37.60" y1="34.52" x2="39.40" y2="34.52" stroke="#333" stroke-width="0.6"/>
<text x="37.60" y="36.92" font-size="6.8" text-anchor="end" fill="#222" stroke="#222" stroke-width="0.153">15</text>
<line x1="37.60" y1="15.80" x2="39.40" y2="15.80" stroke="#333" stroke-width="0.6"/>
<text x="37.60" y="18.20" font-size="6.8" text-anchor="end" fill="#222" stroke="#222" stroke-width="0.153">20</text>
<line x1="45.70" y1="94.70" x2="45.70" y2="96.50" stroke="#333" stroke-width="0.6"/>
<text transform="translate(48.40,100.70) rotate(-45)" font-size="6.2" text-anchor="end" fill="#333" stroke="#333" stroke-width="0.133">Chicken_feces</text>
<line x1="55.97" y1="94.70" x2="55.97" y2="96.50" stroke="#333" stroke-width="0.6"/>
<text transform="translate(58.67,100.70) rotate(-45)" font-size="6.2" text-anchor="end" fill="#333" stroke="#333" stroke-width="0.133">Swine_feces</text>
<line x1="66.24" y1="94.70" x2="66.24" y2="96.50" stroke="#333" stroke-width="0.6"/>
<text transform="translate(68.94,100.70) rotate(-45)" font-size="6.2" text-anchor="end" fill="#333" stroke="#333" stroke-width="0.133">Human_feces</text>
<line x1="76.51" y1="94.70" x2="76.51" y2="96.50" stroke="#333" stroke-width="0.6"/>
<text transform="translate(79.21,100.70) rotate(-45)" font-size="6.2" text-anchor="end" fill="#333" stroke="#333" stroke-width="0.133">Sewage</text>
<line x1="86.78" y1="94.70" x2="86.78" y2="96.50" stroke="#333" stroke-width="0.6"/>
<text transform="translate(89.48,100.70) rotate(-45)" font-size="6.2" text-anchor="end" fill="#333" stroke="#333" stroke-width="0.133">Cattle_feces</text>
<line x1="97.05" y1="94.70" x2="97.05" y2="96.50" stroke="#333" stroke-width="0.6"/>
<text transform="translate(99.75,100.70) rotate(-45)" font-size="6.2" text-anchor="end" fill="#333" stroke="#333" stroke-width="0.133">Crop</text>
<line x1="107.32" y1="94.70" x2="107.32" y2="96.50" stroke="#333" stroke-width="0.6"/>
<text transform="translate(110.02,100.70) rotate(-45)" font-size="6.2" text-anchor="end" fill="#333" stroke="#333" stroke-width="0.133">WWTP_water</text>
<line x1="117.59" y1="94.70" x2="117.59" y2="96.50" stroke="#333" stroke-width="0.6"/>
<text transform="translate(120.29,100.70) rotate(-45)" font-size="6.2" text-anchor="end" fill="#333" stroke="#333" stroke-width="0.133">Landfill</text>
<line x1="127.86" y1="94.70" x2="127.86" y2="96.50" stroke="#333" stroke-width="0.6"/>
<text transform="translate(130.56,100.70) rotate(-45)" font-size="6.2" text-anchor="end" fill="#333" stroke="#333" stroke-width="0.133">Soil</text>
<line x1="138.13" y1="94.70" x2="138.13" y2="96.50" stroke="#333" stroke-width="0.6"/>
<text transform="translate(140.83,100.70) rotate(-45)" font-size="6.2" text-anchor="end" fill="#333" stroke="#333" stroke-width="0.133">Natural_water</text>
<line x1="148.40" y1="94.70" x2="148.40" y2="96.50" stroke="#333" stroke-width="0.6"/>
<text transform="translate(151.10,100.70) rotate(-45)" font-size="6.2" text-anchor="end" fill="#333" stroke="#333" stroke-width="0.133">Natural_sediment</text>
<line x1="158.67" y1="94.70" x2="158.67" y2="96.50" stroke="#333" stroke-width="0.6"/>
<text transform="translate(161.37,100.70) rotate(-45)" font-size="6.2" text-anchor="end" fill="#333" stroke="#333" stroke-width="0.133">Marine_water</text>
<text x="41.40" y="8.00" font-size="8.4" fill="#1a1a1a" stroke="#1a1a1a" stroke-width="0.210">Total ARGs</text>
<rect x="201.50" y="76.30" width="8.00" height="10.92" fill="none" stroke="#cfcfcf" stroke-width="0.5"/>
<line x1="201.50" y1="83.86" x2="209.50" y2="83.86" stroke="#cfcfcf" stroke-width="0.5"/>
<rect x="211.95" y="83.86" width="8.00" height="3.36" fill="none" stroke="#cfcfcf" stroke-width="0.5"/>
<line x1="211.95" y1="85.54" x2="219.95" y2="85.54" stroke="#cfcfcf" stroke-width="0.5"/>
<rect x="222.40" y="83.86" width="8.00" height="3.36" fill="none" stroke="#cfcfcf" stroke-width="0.5"/>
<line x1="222.40" y1="85.54" x2="230.40" y2="85.54" stroke="#cfcfcf" stroke-width="0.5"/>
<rect x="232.85" y="84.70" width="8.00" height="3.36" fill="none" stroke="#cfcfcf" stroke-width="0.5"/>
<line x1="232.85" y1="86.88" x2="240.85" y2="86.88" stroke="#cfcfcf" stroke-width="0.5"/>
<path d="M206.2 86.9h0M206.8 86.8h0M205.1 78.2h0M206.0 88.2h0M206.6 83.7h0M206.6 88.1h0M205.2 73.1h0M206.8 81.8h0M206.0 69.0h0M206.3 85.2h0M207.1 80.5h0M207.5 84.4h0M205.6 85.9h0M205.6 82.2h0M204.0 87.0h0M207.0 84.6h0M206.6 77.9h0M205.4 82.7h0M206.3 84.8h0M205.8 46.7h0M206.4 82.7h0M203.9 85.4h0M206.6 82.1h0M205.9 85.2h0M206.2 84.7h0M205.2 84.6h0M205.6 52.5h0M206.6 82.9h0M206.0 82.0h0M206.1 78.1h0M204.9 52.8h0M203.9 84.1h0M205.2 85.5h0M206.2 87.3h0M204.3 84.7h0M206.0 78.2h0M206.1 86.4h0M204.0 88.2h0M205.4 78.2h0M204.2 85.2h0M203.6 84.8h0M204.5 80.0h0M204.8 81.7h0M204.4 81.3h0M204.1 84.9h0M204.8 70.1h0M205.5 66.1h0M205.0 82.8h0M206.0 85.0h0M205.7 77.5h0M204.8 79.9h0M207.3 86.6h0M203.2 85.0h0M205.3 73.8h0M204.6 83.5h0M205.1 84.5h0M204.0 81.8h0M206.8 83.2h0M205.0 83.0h0M203.7 87.9h0M205.6 60.5h0M203.9 81.9h0M205.7 86.2h0M205.3 74.7h0M205.8 81.1h0M207.3 82.9h0M206.1 73.8h0M205.3 79.2h0M205.9 64.4h0M205.7 47.9h0M204.9 86.6h0M203.9 85.2h0M205.7 77.1h0M205.8 87.6h0M207.6 84.3h0M206.2 70.1h0M205.7 73.9h0M205.1 79.0h0M207.1 87.8h0M204.0 79.2h0M204.6 77.2h0M205.7 79.7h0M206.0 87.6h0M203.9 87.3h0M206.1 86.9h0M206.0 55.9h0M204.9 86.1h0M205.2 84.2h0M204.2 84.2h0M204.9 79.1h0M206.6 79.7h0M205.1 81.4h0M207.6 87.0h0M206.7 88.6h0M205.9 82.1h0M204.6 81.4h0M206.1 71.1h0M205.5 83.5h0M205.1 85.5h0M204.9 80.4h0M207.6 87.4h0M205.5 86.6h0M204.6 86.5h0M205.4 81.3h0M205.0 50.3h0M205.8 77.2h0M205.4 72.5h0M204.7 81.6h0M206.5 81.3h0M207.0 85.0h0M203.3 84.3h0M205.6 88.2h0M204.5 86.9h0M207.5 87.1h0M205.9 76.4h0M204.8 78.2h0M205.1 72.5h0M205.1 65.0h0M207.6 84.4h0M205.1 73.7h0M205.6 54.7h0M205.4 83.1h0M205.8 73.3h0M206.0 83.8h0M206.6 87.5h0M203.9 82.3h0M206.7 86.1h0M204.7 82.4h0M205.7 85.0h0M204.9 81.1h0M204.8 88.0h0M205.5 50.5h0M205.5 68.9h0M204.9 84.6h0M206.6 86.3h0M205.9 83.0h0M204.2 78.1h0M204.7 80.3h0M205.4 80.5h0M207.0 87.9h0M207.2 86.8h0M205.6 69.2h0M203.7 81.6h0M206.8 87.4h0M205.2 86.2h0M205.8 87.3h0M206.4 86.6h0M205.7 71.9h0M205.4 84.1h0M206.4 72.6h0M205.4 25.6h0M205.4 28.6h0M205.9 43.9h0M205.1 18.8h0M205.3 30.2h0M205.9 32.9h0M205.0 54.9h0M205.9 34.2h0M205.7 45.6h0M205.4 29.3h0M205.2 37.4h0M205.8 23.7h0M213.7 84.7h0M213.3 86.0h0M216.3 87.0h0M217.4 85.3h0M217.8 86.7h0M213.9 85.5h0M215.7 84.2h0M215.5 83.4h0M216.6 85.3h0M215.9 86.0h0M218.6 85.2h0M215.7 81.2h0M213.5 84.9h0M216.8 87.1h0M215.5 82.1h0M216.7 85.1h0M216.0 86.2h0M218.3 85.7h0M216.3 86.0h0M216.6 84.9h0M214.6 86.3h0M216.2 87.2h0M215.2 87.5h0M217.4 85.7h0M216.0 86.2h0M213.9 86.3h0M215.6 80.0h0M215.4 84.1h0M216.6 83.4h0M214.1 86.2h0M217.2 85.0h0M216.9 85.8h0M213.5 85.8h0M216.7 84.2h0M214.0 84.5h0M228.0 83.7h0M226.9 83.8h0M226.0 85.3h0M226.3 80.5h0M224.2 86.6h0M224.5 85.4h0M224.5 85.4h0M225.7 85.9h0M225.8 85.6h0M228.6 86.0h0M225.3 82.5h0M225.9 80.6h0M225.1 86.0h0M224.4 86.4h0M225.9 80.6h0M225.7 81.4h0M226.3 86.7h0M224.2 87.3h0M228.1 83.9h0M225.9 83.4h0M229.0 86.2h0M227.3 84.5h0M227.4 86.4h0M226.3 83.1h0M229.1 86.3h0M224.6 84.1h0M227.0 83.0h0M225.7 82.5h0M227.3 86.8h0M227.5 87.1h0M225.0 87.4h0M225.0 84.1h0M224.0 87.1h0M224.9 85.8h0M224.4 87.2h0M225.8 86.5h0M229.2 86.0h0M225.7 85.1h0M225.5 84.4h0M226.2 85.3h0M225.9 80.5h0M227.6 84.7h0M227.3 87.3h0M224.6 85.2h0M225.4 83.3h0M236.1 86.7h0M237.4 88.0h0M237.6 88.5h0M239.1 87.6h0M235.9 87.8h0M236.6 86.5h0M238.8 86.7h0M236.5 81.0h0M235.1 85.2h0M235.8 87.1h0M234.6 86.4h0M237.8 88.7h0M238.4 87.8h0M236.0 87.9h0M234.6 86.9h0M234.6 86.1h0M235.4 86.3h0M235.5 84.3h0M236.5 87.6h0M237.3 86.1h0M235.4 86.9h0M234.3 86.7h0M237.9 86.1h0M234.3 87.2h0M235.2 86.3h0M235.6 86.8h0M236.5 84.0h0M234.4 86.9h0M236.4 86.1h0M236.0 85.3h0M238.1 85.6h0M237.0 83.7h0M238.7 87.9h0M237.5 85.0h0M237.9 84.9h0M237.2 85.8h0M236.7 84.1h0M238.0 84.8h0M237.2 83.2h0M239.3 87.6h0M238.0 85.8h0M237.9 87.5h0M236.3 83.0h0M238.6 86.5h0M236.4 88.1h0M236.4 16.7h0M236.3 16.7h0M245.4 87.8h0M248.5 87.6h0M247.0 87.4h0M249.7 88.1h0M248.9 88.3h0M245.8 86.3h0M246.2 87.4h0M249.5 88.0h0M247.1 87.9h0M246.9 87.5h0M247.0 87.8h0M248.7 88.4h0M249.1 86.3h0M247.5 86.7h0M249.8 88.1h0M247.8 87.8h0M245.0 87.0h0M249.0 88.2h0M246.8 87.4h0M245.1 86.7h0M250.0 87.8h0M244.5 87.3h0M247.7 88.5h0M247.2 87.0h0M249.6 87.4h0M257.2 88.7h0M255.6 88.8h0M259.7 88.8h0M257.7 88.8h0M255.0 88.6h0M255.8 88.7h0M255.3 88.5h0M259.1 88.8h0M260.2 88.7h0M255.9 88.8h0M259.5 88.4h0M256.7 88.5h0M258.8 88.5h0M259.9 88.6h0M267.6 88.6h0M271.1 88.5h0M270.1 88.7h0M270.7 88.9h0M269.4 88.6h0M269.2 88.6h0M268.4 88.8h0M270.0 88.7h0M267.4 88.7h0M268.8 88.9h0M269.3 88.7h0M268.3 88.7h0M266.9 88.7h0M265.7 88.5h0M289.6 88.8h0M291.9 88.5h0M287.5 88.7h0M289.5 88.5h0M287.7 88.8h0M289.4 88.6h0M290.5 88.4h0M286.9 88.5h0M289.0 88.9h0M290.3 88.8h0M286.1 88.6h0M290.7 88.7h0M288.6 88.7h0M289.1 88.7h0M300.8 88.6h0M302.2 88.5h0M302.2 88.9h0M302.5 88.6h0M298.4 88.9h0M297.5 88.7h0M302.1 88.7h0M297.0 88.9h0M299.2 88.7h0M301.0 88.7h0M299.7 88.6h0M298.9 88.4h0M302.1 88.7h0M298.3 88.6h0M308.7 88.6h0M311.7 88.5h0M311.4 88.8h0M308.6 88.7h0M312.0 88.7h0M310.8 88.6h0M309.3 88.8h0M310.8 88.7h0M308.5 88.9h0M308.6 88.9h0M312.3 88.7h0M309.6 88.8h0M312.4 88.4h0M308.1 88.8h0M321.1 88.8h0M318.8 88.9h0M323.1 88.5h0M318.1 88.6h0M317.8 88.9h0M321.6 88.9h0M318.0 88.5h0M317.9 88.7h0M320.2 88.5h0M321.3 88.9h0M322.8 88.6h0M321.8 88.8h0M317.9 88.5h0M321.3 88.6h0" stroke="#c3c3c3" stroke-width="1.0" stroke-linecap="square" fill="none"/>
<path d="M278.9 88.8h0M277.8 88.5h0M275.8 88.2h0M279.4 87.7h0M277.7 87.8h0M280.0 88.6h0M278.6 86.7h0M281.9 88.6h0M282.0 87.8h0M275.7 88.8h0M280.6 87.7h0M280.3 88.0h0M278.0 86.3h0M276.5 87.0h0M278.5 87.9h0M277.7 87.4h0M280.5 87.8h0M281.8 88.1h0M277.8 88.7h0M277.1 88.3h0M278.6 87.0h0M280.0 88.7h0M279.4 85.8h0M279.2 88.2h0M277.2 88.5h0M277.5 88.9h0M281.1 88.5h0M278.8 88.7h0M275.3 88.0h0M278.2 87.0h0M277.3 86.9h0M279.9 88.1h0M275.6 88.5h0M277.1 88.8h0M275.6 87.9h0M278.5 88.2h0M282.3 87.8h0M278.9 88.5h0M278.0 87.1h0M281.7 88.7h0M275.7 88.6h0M277.6 88.6h0M281.0 88.1h0M275.9 87.0h0M280.5 88.7h0M277.6 88.1h0M275.0 87.7h0M276.9 88.7h0M278.4 88.8h0M277.8 88.2h0M278.8 87.4h0M276.1 87.1h0M276.5 87.8h0M282.0 88.4h0M278.2 88.4h0M278.4 88.3h0M276.4 86.9h0M277.1 88.6h0M281.9 88.6h0M280.0 88.1h0M278.7 86.0h0M275.6 88.7h0M277.9 88.9h0M280.6 88.8h0M278.2 88.2h0M279.3 88.1h0M281.4 88.7h0M279.6 88.7h0M279.7 88.1h0M275.2 88.0h0M275.0 87.9h0M280.7 87.8h0M278.1 88.8h0M281.3 88.3h0M280.8 87.4h0M280.0 86.3h0M277.8 88.6h0M281.8 87.3h0M280.6 88.0h0M280.4 86.7h0M276.2 88.7h0M280.8 87.9h0M278.1 87.4h0M282.0 88.4h0M282.0 88.8h0M276.7 88.7h0M278.1 88.8h0M277.1 88.8h0M278.4 88.8h0M277.1 88.1h0M279.8 88.8h0M275.8 87.7h0M276.1 87.8h0M278.4 87.5h0M275.5 87.5h0M277.7 87.9h0M280.5 86.7h0M279.9 86.3h0M276.4 88.1h0M277.3 86.1h0M280.9 88.8h0M281.8 88.8h0M279.3 88.8h0M276.1 88.7h0M276.8 88.5h0M281.7 88.4h0M282.0 87.9h0M275.1 87.8h0M276.5 88.8h0M278.1 88.5h0" stroke="#d2343c" stroke-width="1.0" stroke-linecap="square" fill="none"/>
<rect x="199.20" y="13.20" width="127.60" height="79.80" fill="none" stroke="#333" stroke-width="0.9"/>
<line x1="197.40" y1="88.90" x2="199.20" y2="88.90" stroke="#333" stroke-width="0.6"/>
<text x="197.40" y="91.30" font-size="6.8" text-anchor="end" fill="#222" stroke="#222" stroke-width="0.153">0</text>
<line x1="197.40" y1="72.10" x2="199.20" y2="72.10" stroke="#333" stroke-width="0.6"/>
<text x="197.40" y="74.50" font-size="6.8" text-anchor="end" fill="#222" stroke="#222" stroke-width="0.153">1</text>
<line x1="197.40" y1="55.30" x2="199.20" y2="55.30" stroke="#333" stroke-width="0.6"/>
<text x="197.40" y="57.70" font-size="6.8" text-anchor="end" fill="#222" stroke="#222" stroke-width="0.153">2</text>
<line x1="197.40" y1="38.50" x2="199.20" y2="38.50" stroke="#333" stroke-width="0.6"/>
<text x="197.40" y="40.90" font-size="6.8" text-anchor="end" fill="#222" stroke="#222" stroke-width="0.153">3</text>
<line x1="197.40" y1="21.70" x2="199.20" y2="21.70" stroke="#333" stroke-width="0.6"/>
<text x="197.40" y="24.10" font-size="6.8" text-anchor="end" fill="#222" stroke="#222" stroke-width="0.153">4</text>
<line x1="205.50" y1="93.00" x2="205.50" y2="94.80" stroke="#333" stroke-width="0.6"/>
<text transform="translate(208.20,99.00) rotate(-45)" font-size="6.2" text-anchor="end" fill="#333" stroke="#333" stroke-width="0.133">Chicken_feces</text>
<line x1="215.95" y1="93.00" x2="215.95" y2="94.80" stroke="#333" stroke-width="0.6"/>
<text transform="translate(218.65,99.00) rotate(-45)" font-size="6.2" text-anchor="end" fill="#333" stroke="#333" stroke-width="0.133">Swine_feces</text>
<line x1="226.40" y1="93.00" x2="226.40" y2="94.80" stroke="#333" stroke-width="0.6"/>
<text transform="translate(229.10,99.00) rotate(-45)" font-size="6.2" text-anchor="end" fill="#333" stroke="#333" stroke-width="0.133">Sewage</text>
<line x1="236.85" y1="93.00" x2="236.85" y2="94.80" stroke="#333" stroke-width="0.6"/>
<text transform="translate(239.55,99.00) rotate(-45)" font-size="6.2" text-anchor="end" fill="#333" stroke="#333" stroke-width="0.133">Human_feces</text>
<line x1="247.30" y1="93.00" x2="247.30" y2="94.80" stroke="#333" stroke-width="0.6"/>
<text transform="translate(250.00,99.00) rotate(-45)" font-size="6.2" text-anchor="end" fill="#333" stroke="#333" stroke-width="0.133">WWTP_water</text>
<line x1="257.75" y1="93.00" x2="257.75" y2="94.80" stroke="#333" stroke-width="0.6"/>
<text transform="translate(260.45,99.00) rotate(-45)" font-size="6.2" text-anchor="end" fill="#333" stroke="#333" stroke-width="0.133">Cattle_feces</text>
<line x1="268.20" y1="93.00" x2="268.20" y2="94.80" stroke="#333" stroke-width="0.6"/>
<text transform="translate(270.90,99.00) rotate(-45)" font-size="6.2" text-anchor="end" fill="#333" stroke="#333" stroke-width="0.133">Landfill</text>
<line x1="278.65" y1="93.00" x2="278.65" y2="94.80" stroke="#333" stroke-width="0.6"/>
<text transform="translate(281.35,99.00) rotate(-45)" font-size="6.2" text-anchor="end" fill="#333" stroke="#333" stroke-width="0.133">Soil</text>
<line x1="289.10" y1="93.00" x2="289.10" y2="94.80" stroke="#333" stroke-width="0.6"/>
<text transform="translate(291.80,99.00) rotate(-45)" font-size="6.2" text-anchor="end" fill="#333" stroke="#333" stroke-width="0.133">Crop</text>
<line x1="299.55" y1="93.00" x2="299.55" y2="94.80" stroke="#333" stroke-width="0.6"/>
<text transform="translate(302.25,99.00) rotate(-45)" font-size="6.2" text-anchor="end" fill="#333" stroke="#333" stroke-width="0.133">Natural_water</text>
<line x1="310.00" y1="93.00" x2="310.00" y2="94.80" stroke="#333" stroke-width="0.6"/>
<text transform="translate(312.70,99.00) rotate(-45)" font-size="6.2" text-anchor="end" fill="#333" stroke="#333" stroke-width="0.133">Marine_water</text>
<line x1="320.45" y1="93.00" x2="320.45" y2="94.80" stroke="#333" stroke-width="0.6"/>
<text transform="translate(323.15,99.00) rotate(-45)" font-size="6.2" text-anchor="end" fill="#333" stroke="#333" stroke-width="0.133">Natural_sediment</text>
<text x="201.90" y="8.00" font-size="8.4" fill="#1a1a1a" stroke="#1a1a1a" stroke-width="0.210">High risk ARGs (Rank I)</text>
<text x="2.00" y="138.60" font-size="8.5" font-weight="bold" fill="#111" stroke="#111" stroke-width="0.214">c</text>
<text x="32.80" y="138.60" font-size="8.1" fill="#1a1a1a" stroke="#1a1a1a" stroke-width="0.199">Total ARGs</text>
<line x1="24.10" y1="147.00" x2="96.70" y2="148.40" stroke="#555" stroke-width="0.7"/>
<line x1="96.70" y1="148.40" x2="130.00" y2="142.60" stroke="#555" stroke-width="0.7"/>
<line x1="24.10" y1="223.00" x2="96.70" y2="221.80" stroke="#555" stroke-width="0.7"/>
<line x1="96.70" y1="221.80" x2="130.00" y2="228.80" stroke="#555" stroke-width="0.7"/>
<line x1="96.70" y1="148.40" x2="96.70" y2="221.80" stroke="#555" stroke-width="0.7"/>
<path d="M69.1 207.0h0M80.7 207.6h0M87.5 206.1h0M83.5 203.0h0M93.0 206.7h0M84.2 193.0h0M89.5 206.9h0M100.9 203.0h0M98.9 189.6h0M83.9 201.5h0M109.0 203.0h0M114.2 204.2h0M83.7 201.7h0M79.6 204.5h0M89.6 200.0h0M106.0 208.3h0M85.0 206.2h0M86.4 202.0h0M79.4 201.3h0M106.0 210.9h0M86.8 202.7h0M99.6 200.6h0M95.6 197.8h0M92.2 207.0h0M96.6 210.5h0M100.3 202.3h0M74.2 194.5h0M77.3 203.4h0M82.4 215.5h0M92.7 205.8h0M89.4 203.2h0M91.9 208.6h0M88.8 207.9h0M102.7 204.9h0M95.4 205.5h0M100.4 207.7h0M90.6 209.0h0M100.6 205.1h0M76.0 211.3h0M90.9 207.1h0M90.4 203.0h0M76.5 204.3h0M86.5 206.3h0M85.6 204.0h0M96.2 204.2h0M82.4 206.1h0M85.5 200.0h0M77.7 200.6h0M82.4 195.0h0M73.7 201.7h0M84.3 203.4h0M94.2 199.8h0M104.0 205.6h0M63.7 203.9h0M78.2 206.2h0M106.2 198.4h0M89.4 199.7h0M73.2 206.7h0M96.8 201.3h0M84.2 199.1h0M81.4 203.1h0M86.5 207.0h0M90.3 203.9h0M89.3 206.6h0M94.0 198.5h0M86.3 205.8h0M80.3 198.1h0M78.0 199.1h0M86.0 203.4h0M93.7 196.2h0" stroke="#c8d6b9" stroke-width="0.9" stroke-linecap="round" fill="none"/>
<path d="M33.2 202.8h0M40.8 199.1h0M30.0 203.6h0M34.3 202.6h0M29.4 203.6h0M39.3 196.7h0M44.2 196.2h0M43.2 195.4h0M34.0 204.2h0M32.4 200.4h0M45.1 199.9h0M32.0 202.9h0M35.1 203.8h0M34.8 201.7h0M38.5 201.5h0M41.0 196.2h0M37.8 200.2h0M31.3 204.6h0M31.6 200.5h0M27.5 204.0h0M38.1 200.7h0M44.6 195.8h0M28.1 203.3h0M37.9 201.2h0M29.2 204.7h0M41.5 199.9h0M39.2 199.9h0M30.6 204.7h0M31.4 201.7h0M32.1 204.2h0M95.9 208.6h0M109.3 205.2h0M97.7 200.7h0M99.7 211.1h0M94.8 204.2h0M102.4 203.1h0M104.1 202.8h0M96.1 207.0h0M94.3 204.3h0M86.9 210.3h0M95.9 203.3h0M85.1 208.4h0M101.4 205.9h0M90.5 207.8h0M96.2 209.8h0M92.2 203.9h0M92.7 201.9h0M86.4 204.4h0M92.1 206.3h0M84.4 205.0h0M105.3 200.8h0M90.9 204.6h0M96.9 203.6h0M107.0 204.4h0M94.7 206.5h0M101.6 207.4h0M84.6 206.2h0M89.4 209.6h0M96.4 207.1h0M92.6 203.8h0M99.6 208.8h0M107.0 205.3h0M100.0 202.8h0M96.5 206.1h0M86.6 204.2h0M93.8 205.4h0M91.4 205.2h0M93.1 204.7h0M82.7 206.4h0M103.7 205.5h0M94.0 203.5h0M88.2 203.1h0M84.9 206.1h0M87.5 207.0h0M93.7 201.7h0M106.6 204.9h0M93.9 204.6h0M86.0 205.9h0M96.3 199.6h0M93.3 206.4h0M104.2 200.0h0M88.7 209.5h0M88.6 207.9h0M87.0 202.5h0M97.6 204.3h0M86.4 206.1h0M100.2 205.7h0M106.7 202.1h0M103.1 206.9h0M98.4 208.3h0" stroke="#b9cbc6" stroke-width="0.9" stroke-linecap="round" fill="none"/>
<path d="M28.9 218.3h0M44.0 222.4h0M37.3 217.8h0M33.4 227.5h0M36.5 220.5h0M44.0 223.5h0M40.7 218.9h0M39.4 217.4h0M40.9 216.8h0M38.7 222.2h0M41.8 217.7h0M39.0 218.5h0M36.2 223.0h0M40.5 218.0h0M39.6 214.7h0M35.7 214.3h0M36.7 223.8h0M39.1 219.1h0M39.6 218.9h0M39.3 214.8h0M38.7 216.6h0M39.3 220.0h0M39.4 215.3h0M45.2 217.2h0M37.4 218.8h0M36.5 214.7h0M39.6 223.6h0M37.6 211.7h0M34.4 220.7h0M33.3 217.1h0M35.9 217.3h0M40.1 223.8h0M31.7 213.7h0M44.2 222.0h0M39.1 216.7h0M38.5 213.2h0M46.6 221.5h0M40.6 220.8h0M44.3 220.0h0M38.8 216.2h0M37.6 220.3h0M43.0 217.1h0M34.7 216.4h0M35.2 225.0h0M29.9 218.2h0M41.6 222.6h0M36.4 218.7h0M32.9 216.1h0M29.6 221.0h0M36.6 216.7h0M35.5 216.6h0M37.2 218.6h0M44.8 217.2h0M38.0 220.0h0M42.0 222.1h0M42.7 221.0h0M39.6 221.6h0M39.3 219.5h0M36.8 213.6h0M40.6 217.7h0M38.9 225.3h0M32.9 222.8h0M39.6 213.0h0M38.3 215.2h0M42.4 219.9h0M44.6 218.4h0M41.6 220.4h0M31.3 222.4h0M34.3 214.6h0M41.4 214.7h0M33.6 220.6h0M36.7 215.8h0M42.5 220.3h0M41.0 225.2h0M39.0 229.6h0M34.9 224.0h0M42.9 215.2h0M41.2 212.8h0M43.9 221.2h0M38.5 219.6h0M36.7 223.1h0M39.4 218.5h0M26.6 222.5h0M40.9 224.8h0M39.4 216.3h0M39.0 217.5h0M45.0 221.7h0M36.0 215.8h0M41.9 221.1h0M28.0 215.4h0M42.3 213.3h0M36.7 221.5h0M40.5 227.1h0M44.1 220.0h0M43.0 222.5h0M40.9 225.0h0M39.2 223.4h0M42.8 219.6h0M41.3 216.3h0M39.0 219.9h0M39.8 227.6h0M41.8 219.4h0M40.0 221.8h0M42.6 222.6h0M38.6 223.0h0M35.4 213.9h0M42.1 218.9h0M39.4 214.6h0M36.9 217.8h0M36.5 227.2h0M35.8 224.2h0M38.5 223.1h0M33.3 220.4h0M39.4 221.0h0M40.3 223.3h0" stroke="#c7852c" stroke-width="0.9" stroke-linecap="round" fill="none"/>
<path d="M26.4 205.0h0M25.1 204.8h0M26.0 205.8h0M28.5 206.5h0M26.1 205.8h0M24.4 204.9h0M25.0 205.7h0M24.2 205.4h0M23.1 207.4h0M27.5 203.5h0" stroke="#7b3a22" stroke-width="0.9" stroke-linecap="round" fill="none"/>
<path d="M89.1 195.9h0M100.7 205.9h0M82.7 195.2h0M89.8 190.5h0M90.6 198.2h0M73.0 188.7h0M74.6 190.3h0M100.2 197.4h0M84.6 190.1h0M93.8 199.2h0M95.4 189.2h0M77.1 194.3h0M84.8 198.1h0M87.5 194.8h0M81.5 188.4h0M80.9 190.9h0M91.1 200.0h0M79.2 197.2h0M75.6 192.8h0M76.7 198.9h0M80.3 197.7h0M79.5 186.3h0M88.7 197.8h0M87.5 189.5h0M61.4 187.9h0M86.1 184.6h0M102.2 203.7h0M91.2 190.6h0M90.0 197.9h0M93.1 205.3h0M69.5 186.7h0M73.3 189.7h0M79.2 198.1h0M69.3 183.3h0M84.9 190.1h0M85.3 196.0h0M93.1 190.8h0M76.2 200.6h0M83.5 187.5h0M85.0 184.1h0M69.3 194.9h0M89.3 205.1h0M80.3 190.3h0M94.6 202.9h0M80.4 195.8h0M77.5 199.7h0M80.3 194.9h0M98.2 190.2h0M63.9 194.8h0M66.9 172.9h0M78.9 203.9h0M88.2 194.7h0M74.4 194.6h0M71.7 180.9h0M76.9 194.6h0M87.9 194.2h0M78.2 184.1h0M75.6 188.6h0M81.4 197.5h0M64.2 191.0h0M69.7 199.7h0M72.0 195.0h0M88.0 196.9h0M82.5 188.0h0M95.8 198.9h0M77.1 195.4h0M89.1 200.4h0M70.9 193.4h0M79.0 197.3h0M80.5 186.0h0M67.6 190.4h0M75.1 189.7h0M72.7 197.2h0M81.8 191.0h0M92.6 195.4h0M93.0 195.6h0M75.7 198.7h0M91.0 193.4h0M82.0 204.2h0M95.3 193.3h0M75.6 198.8h0M108.6 197.1h0M67.3 187.7h0M87.0 192.7h0M83.8 190.6h0M74.1 194.8h0M72.7 185.6h0M83.9 199.5h0M78.0 192.1h0M74.7 188.5h0M77.5 196.4h0M75.7 197.9h0M70.3 178.9h0M86.9 188.3h0M90.6 191.3h0M75.2 198.0h0M84.7 193.7h0M90.5 200.7h0M78.9 190.7h0M68.4 191.2h0M90.3 204.2h0M95.1 197.2h0M90.4 190.5h0M95.0 201.7h0M71.3 189.3h0M79.8 195.7h0M78.7 189.9h0M87.6 194.1h0M67.8 184.2h0M97.0 198.9h0M80.4 189.6h0M73.5 188.2h0M88.7 192.4h0M93.3 185.1h0M66.3 208.0h0M76.8 184.7h0M91.3 191.3h0M69.7 193.4h0M81.0 188.5h0M83.1 192.3h0M75.8 196.6h0M80.6 191.8h0M84.6 187.6h0M90.1 199.1h0M83.7 190.0h0M70.9 191.4h0M74.1 195.8h0M67.5 191.3h0M76.5 192.0h0M81.3 202.7h0M64.3 191.1h0M79.8 189.6h0M90.0 193.4h0M80.1 194.9h0M73.6 189.4h0M80.8 191.3h0M79.0 199.3h0M86.7 192.7h0M96.0 197.6h0M90.3 199.9h0M83.1 187.6h0M84.4 184.2h0M85.4 203.7h0M91.7 204.9h0M100.7 192.9h0M79.6 185.1h0M69.4 196.9h0M78.9 196.8h0M81.3 197.9h0M67.7 190.1h0M75.9 191.5h0M80.6 197.6h0M85.9 203.0h0M78.3 194.4h0M78.7 191.5h0M82.8 194.2h0M85.4 199.4h0M77.1 184.9h0M81.9 204.5h0M66.8 184.6h0M76.6 197.6h0M75.9 190.0h0M95.1 197.0h0M89.6 190.2h0M85.4 191.3h0M88.4 194.0h0M81.9 195.2h0M78.2 186.4h0M79.0 190.3h0M84.8 199.3h0M86.1 192.6h0M90.5 197.4h0M95.9 196.7h0M81.1 181.8h0M94.0 204.6h0M81.5 199.3h0M78.9 189.1h0M76.0 190.4h0M92.7 192.6h0M76.8 186.3h0M81.2 194.1h0M78.0 196.9h0M84.8 193.6h0M96.9 187.8h0M89.1 192.1h0M85.3 194.0h0M77.6 203.8h0M79.3 191.3h0M87.9 199.8h0M66.6 189.4h0M78.6 193.6h0M78.2 188.3h0M72.9 199.3h0M75.3 205.7h0M83.9 194.8h0M69.1 200.4h0M81.5 186.7h0M87.7 208.0h0M78.9 202.3h0M88.1 186.9h0M86.5 190.9h0M87.8 193.0h0M82.7 190.5h0M94.3 199.6h0M82.9 198.6h0M69.5 188.7h0M79.7 197.3h0M86.3 202.1h0M77.7 196.6h0M78.1 187.3h0M86.7 196.9h0M77.1 197.5h0M73.7 198.2h0M82.9 188.4h0M90.4 202.1h0M76.4 190.9h0M72.7 192.5h0M76.8 192.9h0M75.6 189.5h0M77.9 191.4h0M85.4 190.6h0M90.8 190.7h0M79.9 184.1h0M73.2 187.5h0M90.3 180.5h0M84.1 190.6h0M93.3 197.3h0M88.0 194.7h0M69.3 191.2h0M84.3 197.2h0M73.2 190.9h0M71.6 186.5h0M73.2 204.4h0M78.0 187.1h0M83.9 195.8h0M96.0 201.3h0M85.6 195.9h0M79.0 191.2h0M69.9 186.6h0M78.4 201.4h0M99.0 199.1h0M64.8 198.3h0M90.1 196.9h0M86.9 187.8h0M78.3 200.3h0M91.5 186.0h0M71.4 199.4h0M74.7 183.5h0M97.7 197.0h0M73.7 198.0h0M69.7 191.0h0M87.8 202.5h0M82.4 194.2h0M88.5 195.7h0M85.8 190.7h0M81.7 193.2h0M88.1 184.2h0M79.9 199.7h0M96.1 202.2h0M71.2 182.9h0M77.0 185.0h0M78.2 201.8h0M73.4 192.1h0M84.0 199.6h0M77.7 194.2h0M74.6 187.3h0M83.5 192.8h0M59.6 181.7h0M80.6 191.5h0M86.3 197.8h0M79.7 201.3h0M76.2 203.8h0M89.5 201.8h0M87.9 207.9h0M99.4 194.2h0M98.0 205.7h0M86.0 196.4h0M81.9 179.8h0M69.9 187.0h0M64.8 191.7h0M70.3 197.6h0M86.1 197.9h0M91.1 192.3h0M89.4 198.8h0M94.3 191.5h0M86.2 200.9h0M85.9 181.1h0M72.5 189.2h0M79.2 192.0h0M88.7 191.9h0M60.7 202.9h0M77.7 203.1h0M73.0 193.2h0M80.3 186.3h0M81.8 191.1h0M69.6 181.4h0M67.3 196.6h0M86.6 196.7h0M80.4 202.5h0M92.7 197.9h0M80.5 204.2h0M84.4 192.2h0M70.9 183.4h0M73.7 192.4h0M80.7 203.0h0M87.6 206.1h0M78.4 189.1h0M85.5 194.5h0M82.3 194.9h0M74.0 186.5h0M75.4 188.4h0M92.6 192.8h0M82.8 197.0h0M77.2 195.6h0M86.6 185.5h0M83.1 192.4h0M86.8 192.9h0M75.2 188.4h0M80.0 196.3h0M77.0 193.6h0M88.6 191.4h0M93.7 192.4h0M66.9 188.5h0M80.1 194.1h0M74.3 193.6h0M90.1 201.5h0M80.4 186.2h0M96.5 203.2h0M80.5 200.4h0M93.0 197.8h0M73.0 193.5h0M72.5 190.3h0M92.7 196.4h0M70.8 192.0h0M79.6 188.2h0M81.1 205.5h0M88.9 198.2h0M85.8 205.4h0M65.1 195.0h0M77.6 196.0h0M78.9 190.5h0M59.8 190.1h0M85.5 190.0h0M64.2 188.1h0M59.3 183.7h0M83.5 197.8h0M85.9 197.2h0M79.7 195.8h0M88.6 200.4h0M83.3 195.7h0M85.2 188.1h0M79.1 184.9h0M74.7 179.1h0M77.4 196.6h0M84.1 199.0h0M84.6 195.7h0M60.6 185.9h0M80.9 190.4h0M91.2 193.6h0M96.4 203.7h0M79.3 184.9h0M70.5 188.0h0M82.3 208.9h0M72.4 201.4h0M83.3 193.1h0M82.7 196.2h0M85.7 194.8h0M74.8 196.5h0M81.8 196.2h0M70.9 188.0h0M72.8 192.5h0M82.4 193.8h0M83.5 194.1h0M93.5 192.6h0M88.5 192.2h0M75.5 185.5h0M95.6 192.3h0M76.4 186.9h0M78.5 187.3h0M98.3 199.4h0M102.0 205.9h0M66.2 194.0h0M90.2 200.8h0M80.3 198.1h0M93.7 197.7h0M92.9 204.3h0M99.3 197.7h0M85.0 192.9h0M73.3 186.1h0M77.2 199.1h0M75.9 192.6h0M81.4 189.6h0M81.2 186.9h0M75.3 190.3h0M81.9 187.8h0M81.2 184.6h0M62.5 188.5h0M90.6 204.9h0M89.2 196.9h0M97.8 199.2h0M74.4 197.9h0M74.9 186.2h0M86.1 201.3h0M77.5 188.6h0M81.8 197.8h0M72.1 189.9h0M86.0 197.5h0M97.7 203.0h0M57.4 195.9h0M74.2 195.0h0M67.4 194.5h0M65.9 195.1h0M95.8 196.1h0M87.4 196.5h0M80.1 188.6h0M80.4 195.9h0M69.1 202.3h0M69.9 190.1h0M78.4 192.1h0M77.2 204.4h0M79.0 192.2h0M86.4 192.0h0M66.8 198.5h0M79.8 200.1h0M91.3 206.9h0M87.5 196.7h0M65.3 195.5h0M72.7 199.6h0M76.5 187.4h0M81.4 193.4h0M82.5 199.7h0M94.6 198.3h0M94.0 198.4h0M67.3 185.9h0M80.2 193.3h0M86.7 190.2h0M70.0 196.1h0M78.1 204.4h0M72.2 188.5h0M102.5 188.5h0M65.3 191.1h0M73.0 190.9h0M91.8 195.0h0M81.2 198.6h0M72.5 182.9h0M83.5 194.6h0M87.0 191.7h0M77.7 192.2h0M84.0 199.7h0M83.7 181.1h0M77.3 189.4h0M73.8 188.9h0M84.6 180.8h0M84.7 199.2h0M87.6 191.8h0M67.0 183.2h0M76.6 204.2h0M73.7 192.2h0M92.2 203.5h0M80.8 197.5h0M95.2 200.3h0M82.8 190.2h0M78.7 191.8h0M66.8 186.6h0M94.9 192.0h0M69.7 185.6h0M83.6 199.6h0M87.3 206.8h0M75.7 194.8h0M82.2 193.2h0M94.8 194.5h0M82.8 187.9h0M86.3 195.0h0M71.9 186.9h0M70.0 190.1h0M79.2 192.8h0M76.4 198.9h0M84.4 197.0h0M81.4 189.2h0M87.4 206.5h0M94.7 201.1h0M72.7 187.9h0M76.9 195.9h0M80.5 192.6h0M87.0 199.9h0M73.0 187.3h0M85.8 198.4h0M76.5 195.2h0M67.3 185.7h0M83.7 188.9h0M84.8 191.7h0M92.5 192.6h0M85.1 195.8h0M71.2 180.3h0M84.1 189.5h0M83.5 206.9h0M66.3 191.8h0M72.1 187.5h0M68.0 188.4h0M94.8 205.0h0M76.9 190.1h0M72.6 189.7h0M75.7 193.7h0M69.9 196.5h0M80.0 193.5h0M79.4 185.3h0M88.7 195.3h0M93.4 197.9h0M89.9 199.8h0M80.8 195.6h0M79.4 184.6h0M72.7 195.0h0M73.3 184.7h0M73.4 192.9h0M66.1 186.8h0M77.7 191.2h0M69.9 175.5h0M73.7 198.7h0M92.9 192.7h0M93.9 201.3h0M78.8 187.2h0M76.5 189.5h0M81.2 185.7h0M67.5 188.4h0M74.6 194.5h0M72.2 196.6h0M90.7 189.6h0M83.7 201.9h0M80.4 198.9h0M78.6 193.6h0M77.4 190.5h0M94.1 193.2h0M65.3 187.1h0M85.9 190.8h0M89.7 201.4h0M82.3 192.6h0M76.7 188.7h0M97.9 201.8h0M78.2 194.6h0M85.1 203.5h0M89.2 195.6h0M74.0 183.7h0M81.9 204.5h0M83.9 197.1h0M76.2 190.4h0M67.6 184.9h0M96.8 198.9h0M91.0 194.0h0M90.0 198.9h0M70.2 178.7h0M64.2 190.7h0M87.3 193.1h0M77.5 198.2h0M79.2 188.0h0M84.5 200.7h0M63.3 188.4h0M76.1 187.4h0M92.1 199.1h0M99.2 201.0h0M76.4 190.3h0M85.9 194.8h0M78.3 192.7h0M77.9 197.1h0M71.5 189.6h0M79.0 198.6h0M83.3 202.1h0M79.8 195.0h0M78.5 194.4h0M82.1 193.1h0M75.7 191.6h0M94.2 195.4h0M73.5 187.7h0M82.5 189.5h0M77.8 190.5h0M86.2 194.1h0M87.8 200.4h0M81.8 190.5h0M77.1 201.3h0M92.3 190.0h0M83.1 190.0h0M98.4 198.3h0M68.4 186.4h0M69.4 185.5h0M81.0 188.9h0M87.8 188.8h0M83.2 184.8h0M77.7 196.4h0M77.0 197.8h0M82.1 204.1h0M84.2 191.4h0M75.9 196.9h0M97.9 202.3h0M69.3 187.9h0M67.1 185.3h0M83.5 183.6h0M75.0 205.1h0M79.9 194.9h0M78.0 193.6h0M104.9 193.1h0M78.1 189.2h0M97.7 180.9h0M78.1 209.1h0M94.0 200.2h0M81.4 187.9h0M89.2 201.5h0M88.4 201.3h0M77.4 193.7h0M69.0 188.2h0M78.3 181.6h0M85.3 193.2h0M75.4 186.0h0M84.7 191.0h0M91.1 195.6h0M79.7 195.2h0M93.9 197.5h0M84.4 195.2h0M72.9 199.1h0M78.0 199.7h0M88.6 195.0h0M97.5 196.3h0M66.0 191.9h0M81.8 195.1h0M76.3 193.3h0M83.1 197.8h0M89.7 200.8h0M78.9 192.9h0M97.9 201.1h0M92.7 186.9h0M67.1 197.7h0M84.1 187.0h0M92.3 196.5h0M95.3 199.9h0M90.7 200.3h0M79.7 191.4h0M100.8 197.7h0M78.0 194.9h0M87.1 192.7h0M97.8 193.1h0M57.1 184.6h0M69.9 184.8h0M90.6 194.3h0M81.1 188.5h0M81.4 192.4h0M80.4 209.7h0M85.5 191.6h0M86.8 199.9h0M90.7 199.3h0M78.1 186.7h0M81.0 194.7h0M69.4 191.6h0M86.8 195.0h0M77.4 194.1h0M79.2 195.9h0M90.4 200.5h0M70.6 191.3h0M65.8 190.1h0M78.1 194.8h0M76.5 193.8h0M83.1 205.8h0M84.3 193.0h0M83.6 205.0h0M86.0 185.1h0M69.1 193.9h0M82.0 193.4h0M86.7 198.2h0M84.9 192.7h0M76.8 196.4h0M90.7 194.0h0M84.6 188.8h0M76.6 188.1h0M87.6 203.1h0M84.1 196.5h0M88.6 207.5h0M82.1 189.5h0M76.3 180.0h0M75.5 196.4h0M87.5 194.1h0M72.6 188.7h0M62.1 194.0h0M82.9 191.9h0M95.5 199.2h0M67.4 194.0h0M78.4 184.8h0M91.9 196.8h0M76.6 202.1h0M79.1 197.1h0M74.6 181.3h0M67.0 196.6h0M73.9 208.4h0M59.7 193.4h0M69.9 194.4h0M79.8 187.8h0M87.6 202.2h0M92.5 204.0h0M85.8 194.2h0M88.8 193.0h0M77.4 182.7h0M86.8 199.7h0M80.4 188.1h0M91.4 200.5h0M112.0 202.6h0M109.3 199.7h0M104.2 198.9h0M104.0 196.5h0M107.1 206.8h0M103.7 206.1h0M106.8 199.8h0M109.0 197.9h0M95.5 201.5h0M102.2 195.9h0M108.0 196.1h0M110.7 192.3h0M105.5 204.2h0M110.3 203.5h0M103.4 196.0h0M102.3 203.4h0M105.0 202.2h0M110.5 193.0h0M101.1 199.6h0M103.7 199.6h0M104.7 189.1h0M106.1 196.3h0M98.9 200.4h0M100.7 203.4h0M108.1 203.3h0M104.5 201.7h0M104.5 204.6h0M106.1 204.0h0M108.3 201.7h0M100.4 203.4h0M108.5 198.1h0M102.1 203.2h0M99.0 201.6h0M103.4 199.5h0M97.8 196.2h0M104.1 194.4h0M104.5 193.6h0M100.9 195.9h0M103.9 203.4h0M108.4 192.9h0M100.5 191.6h0M105.4 200.6h0M99.8 202.8h0M101.6 193.1h0M105.3 205.8h0M107.2 201.0h0M106.0 192.6h0M106.8 199.7h0M99.2 195.9h0M108.0 202.3h0M102.0 209.0h0M104.7 195.9h0M104.3 205.9h0M111.0 200.2h0M102.4 196.4h0M101.3 191.0h0M106.0 210.8h0M107.2 197.8h0M106.1 199.5h0M101.9 205.5h0M105.5 187.7h0M105.8 199.8h0M101.1 204.7h0M105.7 194.5h0M104.7 201.8h0M102.5 196.8h0M102.7 209.6h0M99.0 193.9h0M101.4 196.0h0M94.6 196.6h0M102.8 195.3h0M103.9 186.1h0M100.9 200.4h0M101.5 193.5h0M102.8 202.5h0M110.3 200.3h0M100.0 190.4h0M107.3 198.5h0M99.1 199.1h0M105.3 203.6h0M111.2 192.7h0M104.1 195.2h0M107.2 205.7h0M102.6 196.1h0M98.3 190.2h0M99.1 188.9h0M98.3 202.4h0M103.1 195.2h0M100.6 193.4h0M106.2 196.1h0M100.7 191.6h0M110.8 202.6h0M97.7 199.9h0M100.4 195.1h0M101.4 196.9h0M105.9 202.5h0M94.5 194.5h0M108.1 201.7h0M105.6 191.7h0M96.9 200.3h0M105.7 199.1h0M100.9 201.3h0M101.1 194.3h0M104.5 197.2h0M108.5 198.1h0M111.0 207.6h0M105.2 200.3h0M100.3 198.6h0M106.1 207.3h0M107.6 198.7h0M103.5 191.5h0M105.7 198.3h0M105.1 194.4h0M106.0 203.9h0M103.3 207.7h0M99.9 195.0h0M103.0 199.1h0M102.2 195.8h0M103.3 202.9h0M106.5 208.2h0M99.6 206.0h0M102.0 194.4h0M100.1 198.9h0M97.6 200.5h0M108.5 194.2h0M106.7 197.3h0M100.7 198.8h0M102.3 199.1h0M105.1 205.9h0M113.4 198.7h0M108.4 192.9h0M105.2 197.1h0M111.5 195.3h0M111.4 200.4h0M103.8 196.2h0M103.4 199.9h0M102.9 197.2h0M111.5 193.7h0M100.5 192.2h0M106.8 200.9h0M108.7 199.3h0M110.6 202.4h0M105.5 201.0h0M109.1 199.4h0M103.8 208.5h0M103.3 196.1h0M105.8 205.6h0M110.6 205.3h0M94.6 196.9h0M106.2 201.0h0M106.7 208.6h0M98.3 194.4h0M104.4 196.2h0M106.6 194.1h0M98.4 198.0h0M99.3 191.6h0M105.3 194.8h0M107.5 196.1h0M97.6 193.8h0M109.0 200.7h0M105.1 195.0h0M106.7 201.3h0M104.4 187.3h0M108.7 200.3h0M103.1 196.2h0M107.9 198.4h0M106.2 190.5h0M99.5 195.0h0M105.9 199.7h0M104.5 199.0h0M100.8 196.2h0M96.3 199.6h0M105.4 195.2h0M110.9 199.8h0M100.3 192.9h0M105.2 189.6h0M105.4 198.1h0M101.1 209.9h0M101.4 205.6h0M111.6 203.6h0M106.6 189.7h0M107.0 197.7h0M101.3 206.3h0M98.7 195.5h0M103.9 197.5h0M107.6 188.3h0M109.1 191.7h0M99.4 201.0h0M105.4 198.3h0M100.0 197.8h0M105.6 204.1h0M105.4 193.7h0M102.7 194.2h0M102.6 206.0h0M104.7 195.5h0M108.4 196.6h0M106.4 203.3h0M105.2 198.0h0M106.1 205.0h0M104.9 209.5h0M105.1 195.1h0M107.7 198.2h0M103.8 205.9h0M108.6 193.8h0M102.2 193.2h0M110.1 190.6h0M103.8 204.2h0M96.0 195.3h0M97.5 190.6h0M105.3 193.1h0M101.4 202.3h0M96.1 204.9h0M106.4 193.8h0M100.0 198.9h0M103.2 193.2h0M104.7 201.7h0M103.2 195.6h0M103.1 198.4h0M98.9 196.8h0M100.2 198.0h0M103.7 199.8h0M111.1 206.9h0M98.7 196.9h0M105.8 196.8h0M107.8 198.1h0M103.8 193.7h0M104.5 207.4h0M109.6 202.4h0M103.1 194.3h0M105.2 197.6h0M102.1 195.3h0M107.9 193.9h0M104.8 188.4h0M98.1 207.5h0M100.0 199.3h0M101.2 198.0h0M108.9 195.2h0M99.3 187.7h0M104.8 201.8h0M105.6 197.7h0M95.6 200.2h0M104.8 199.2h0M111.7 203.7h0M101.9 209.0h0M102.8 189.6h0M105.2 199.5h0M98.8 196.4h0M109.3 197.4h0M100.7 195.8h0M102.1 201.6h0M103.4 200.4h0M100.9 203.3h0M96.8 199.7h0M98.9 204.9h0M107.2 204.5h0M96.8 198.5h0M104.4 197.9h0M106.2 194.9h0M98.2 192.0h0M107.9 197.9h0M96.2 193.1h0M104.7 191.1h0M106.0 196.6h0M103.4 203.7h0M104.1 198.6h0M107.2 200.3h0M108.5 195.7h0M94.8 195.8h0M103.2 203.2h0M99.5 196.6h0M98.0 194.1h0M107.2 206.3h0M106.8 206.7h0M106.2 205.7h0M100.5 190.1h0M99.1 206.7h0M102.0 203.9h0M103.7 205.7h0M104.6 191.8h0M97.3 193.0h0M101.3 207.8h0M104.2 187.7h0M99.2 199.6h0M106.2 198.4h0M104.4 196.3h0M107.6 204.7h0M103.8 197.2h0M110.7 203.8h0M106.2 196.9h0M105.4 194.3h0M101.3 199.4h0M100.2 201.0h0M103.6 194.7h0M103.4 202.8h0M104.3 202.1h0M101.8 191.5h0M104.4 197.9h0M109.4 204.3h0M105.6 196.8h0M111.9 201.5h0M99.0 197.2h0M102.5 204.1h0M109.3 208.3h0M101.5 191.1h0M101.5 195.6h0M102.6 204.3h0M103.0 196.5h0M105.1 196.8h0M101.0 198.7h0M107.7 195.8h0M101.6 192.0h0M103.5 201.9h0M102.4 199.1h0M102.3 196.3h0M103.1 208.8h0M110.3 205.9h0M109.0 199.5h0M104.0 199.0h0M102.5 205.5h0M98.7 191.4h0M104.1 206.6h0M105.2 205.1h0M105.3 205.9h0M101.0 204.1h0M108.7 198.2h0M100.2 198.5h0M98.3 191.6h0M106.8 198.5h0M107.6 203.1h0M101.4 198.5h0M99.8 197.6h0M104.2 207.2h0M102.3 205.1h0M103.3 201.3h0M105.0 205.7h0M105.8 189.4h0M96.4 195.5h0M107.1 199.8h0M106.4 205.2h0M104.9 194.3h0M106.0 203.4h0M102.8 201.3h0M99.2 198.4h0M104.6 190.3h0M98.3 204.9h0M106.1 199.9h0M110.7 204.4h0M97.9 197.1h0M106.6 210.6h0M102.0 203.9h0M101.5 202.7h0M105.3 200.5h0M103.1 197.8h0M105.2 202.4h0M101.2 202.1h0M106.0 200.6h0M108.5 193.8h0M99.7 202.8h0M107.1 204.6h0M105.6 200.4h0M100.8 199.5h0M101.0 190.4h0M108.8 206.4h0M104.1 190.4h0M102.4 205.8h0M101.8 198.5h0M106.9 194.9h0M104.4 196.4h0M103.4 196.4h0M99.7 200.0h0M104.7 208.1h0M100.6 201.5h0M101.0 201.0h0M103.7 196.5h0M104.4 200.1h0M105.3 201.2h0M98.3 194.5h0M104.3 196.8h0M102.1 202.8h0M108.4 193.7h0M97.8 198.3h0M101.9 197.0h0M106.3 197.8h0M104.1 203.9h0M99.1 199.5h0M99.2 205.9h0M99.6 202.0h0M97.0 197.8h0M108.0 207.9h0M106.1 197.6h0M108.5 208.9h0M95.4 196.9h0M94.9 200.0h0M102.4 196.7h0M102.9 192.4h0M103.9 196.7h0M103.3 196.2h0M104.4 190.1h0M108.0 198.8h0M105.3 207.6h0M106.6 194.2h0M102.1 201.6h0M107.9 201.9h0M104.9 203.6h0M106.2 205.5h0M110.3 191.8h0M98.4 194.2h0M103.1 196.6h0M112.3 194.0h0M100.8 196.6h0M103.0 200.0h0M108.4 206.7h0M95.2 192.9h0M102.2 204.5h0M105.6 188.6h0M109.5 200.8h0M106.9 200.5h0M104.1 202.3h0M95.7 197.0h0M104.6 195.1h0M102.5 189.4h0M97.6 196.9h0M100.4 194.2h0M101.7 198.2h0M100.6 203.1h0M99.2 201.1h0M101.5 204.6h0M102.3 197.7h0M110.3 199.1h0M106.0 206.0h0M105.5 199.0h0M106.0 199.5h0M101.6 198.0h0M100.5 189.6h0M111.7 205.2h0M96.7 203.8h0M103.3 205.1h0M101.6 193.8h0M102.1 193.0h0M107.9 199.6h0M110.3 205.6h0M98.7 197.4h0M105.0 195.0h0M107.5 203.2h0M99.4 190.2h0M103.3 190.8h0M101.8 191.7h0M102.0 198.3h0M106.3 188.8h0M107.4 203.5h0M102.8 192.5h0M101.6 194.7h0M104.8 199.2h0M102.2 198.6h0M107.5 200.4h0M106.8 204.8h0M106.6 202.7h0M109.6 193.9h0M100.4 190.4h0M104.7 197.0h0M108.7 198.3h0M101.2 197.1h0M98.2 204.3h0M103.0 189.6h0M101.7 196.7h0M108.1 191.7h0M107.0 198.6h0M104.4 194.8h0M101.0 198.6h0M104.4 191.5h0M100.2 190.7h0M98.9 189.2h0M106.8 193.2h0M100.2 190.1h0M102.0 195.9h0M103.3 194.6h0M109.1 196.6h0M104.3 193.6h0M103.7 204.0h0M111.9 204.1h0M110.2 203.1h0M108.7 201.9h0M104.0 198.9h0M103.6 209.9h0M102.6 191.0h0M106.0 195.9h0M104.7 195.1h0M107.7 201.2h0M102.4 192.3h0M102.8 189.3h0M101.5 194.1h0M101.7 204.8h0M102.3 197.2h0M109.5 200.9h0M103.0 194.6h0M99.9 196.8h0M106.5 199.8h0M108.7 193.3h0M106.8 198.3h0M110.1 190.7h0M105.3 200.1h0M101.0 204.3h0M103.2 196.2h0M106.9 197.9h0M99.4 195.7h0M100.9 200.4h0M101.3 201.7h0M100.6 192.0h0M107.4 192.7h0M103.2 186.3h0M100.0 197.4h0M102.1 199.0h0M103.9 207.7h0M106.6 198.9h0M105.1 201.5h0M108.6 200.2h0M103.3 198.7h0M104.6 203.0h0M104.7 192.5h0M98.8 195.4h0M101.1 193.6h0M107.6 208.7h0M110.4 196.5h0M104.3 189.0h0M104.4 197.6h0M109.8 203.2h0M105.8 201.3h0M108.8 198.2h0M101.1 195.1h0M98.6 197.3h0M105.5 199.8h0M105.7 197.4h0M102.4 200.3h0M104.4 195.2h0M103.2 197.6h0M111.5 197.5h0M104.8 191.3h0M100.7 189.7h0M102.4 203.0h0M97.4 197.0h0M111.7 202.6h0M105.4 195.5h0M103.9 194.5h0M102.6 203.5h0M102.4 203.2h0M106.2 193.7h0M104.2 204.1h0M108.5 206.7h0M100.8 195.1h0M108.9 196.4h0M107.4 199.4h0M103.5 192.1h0M104.6 203.8h0M109.7 199.8h0M108.5 199.7h0M109.9 192.7h0M106.8 190.9h0M107.5 197.0h0M103.3 194.3h0M104.2 194.7h0M104.9 202.9h0M109.2 202.5h0M106.1 199.8h0M104.7 210.1h0M97.8 196.4h0M104.5 197.8h0M97.5 205.6h0M106.1 202.5h0M105.3 200.4h0M96.6 197.3h0M109.2 202.0h0M98.3 193.8h0M103.6 201.5h0M105.2 191.7h0M103.1 191.0h0M105.5 191.9h0M101.5 189.3h0M108.5 188.9h0M102.2 207.9h0M103.3 199.4h0M97.3 193.1h0M102.9 204.5h0M107.9 199.5h0M110.1 193.1h0M102.2 194.5h0M105.4 196.1h0M110.4 203.6h0M101.5 195.6h0M108.4 192.8h0M106.7 199.5h0M96.5 199.7h0M97.4 202.6h0M103.2 191.0h0M106.1 195.1h0M111.6 194.5h0M106.8 194.2h0M103.5 202.6h0M105.6 206.3h0M102.7 198.0h0M104.9 200.2h0M102.9 194.5h0M113.9 196.4h0M96.7 198.4h0M101.6 195.6h0M103.9 194.0h0M107.6 201.2h0M100.7 196.2h0M101.9 197.9h0M105.5 192.7h0M101.2 196.5h0M99.5 205.2h0M101.3 188.1h0M100.3 199.5h0M107.3 192.5h0M102.1 205.7h0M102.2 210.2h0M107.0 195.7h0M104.6 199.2h0M97.8 201.1h0M99.6 197.2h0M109.0 194.9h0M104.9 196.1h0M102.8 198.2h0M106.2 205.4h0M104.9 198.3h0M99.5 203.3h0M100.5 195.3h0M101.0 201.7h0M101.6 200.1h0M101.3 205.5h0M102.0 201.7h0M110.4 203.0h0M107.6 195.9h0M106.7 197.2h0M106.0 197.1h0M105.1 200.2h0M100.1 196.2h0M99.5 208.1h0M102.6 195.3h0M98.8 191.1h0M107.1 203.8h0M105.8 195.5h0M109.4 208.7h0M104.3 203.5h0M106.1 188.9h0M104.8 196.7h0M102.2 196.1h0M101.2 193.8h0M100.9 203.3h0M102.7 197.6h0M107.8 204.1h0M102.9 198.5h0M109.4 193.8h0M94.8 200.4h0M105.9 197.9h0M98.9 194.4h0M97.9 198.4h0M104.8 200.7h0M107.4 201.1h0M107.3 200.2h0M104.7 189.9h0M102.9 199.5h0M105.6 198.6h0M102.2 202.0h0M107.9 196.8h0M111.4 193.9h0M103.8 197.6h0M104.7 200.9h0M100.1 198.7h0M102.2 192.0h0M106.3 200.2h0M105.4 210.3h0M99.9 204.1h0M104.0 197.7h0M98.1 193.8h0M104.4 195.0h0M100.3 196.9h0M102.8 197.5h0M106.1 199.5h0M99.0 195.2h0M111.5 196.0h0M103.5 198.1h0M104.2 199.9h0M104.4 209.2h0M101.1 190.0h0M102.4 202.6h0M106.9 195.0h0M101.1 195.0h0M100.7 195.7h0M101.5 192.3h0M104.3 196.8h0M103.8 198.8h0M111.0 203.2h0M108.3 206.8h0M103.8 197.5h0M96.5 201.8h0M103.1 191.3h0M108.5 205.5h0M104.8 197.8h0M109.6 198.7h0M103.7 205.3h0M107.1 205.9h0M101.4 191.5h0M104.3 195.8h0M105.5 201.9h0M111.4 198.8h0M103.9 191.0h0M98.5 195.2h0M101.7 201.1h0M103.2 192.4h0M103.7 200.5h0M107.0 200.5h0M106.5 206.5h0M105.6 196.9h0M101.1 203.1h0M102.6 186.5h0M106.7 195.7h0M100.0 197.4h0M96.8 196.0h0M105.6 197.9h0M96.7 194.6h0M102.7 198.1h0M101.3 200.0h0M98.1 195.7h0M102.7 192.5h0M109.4 201.0h0M104.8 189.8h0M108.5 197.0h0M101.7 206.7h0M108.1 204.0h0M98.3 199.5h0M111.1 203.5h0M104.2 192.9h0M104.6 197.7h0M96.6 196.4h0M105.7 207.5h0M94.7 202.0h0M100.9 205.2h0M107.7 193.5h0M97.3 197.2h0M98.8 203.1h0M103.3 191.2h0M106.1 200.7h0M98.3 201.0h0M102.7 206.8h0M98.5 196.4h0M104.9 192.8h0M100.4 204.2h0M102.6 196.7h0M96.7 200.5h0M109.7 196.5h0M105.2 198.0h0M108.1 198.9h0M98.4 196.4h0M105.3 200.9h0M96.8 201.5h0M97.4 200.8h0M105.4 194.5h0M104.9 200.3h0M101.3 203.6h0M104.4 199.8h0M104.3 192.9h0M100.3 195.6h0M103.6 192.4h0M102.0 196.7h0M106.9 202.6h0M108.2 194.8h0M108.3 197.6h0M100.9 194.5h0M101.9 197.9h0M101.0 190.6h0M100.0 199.5h0M97.2 198.2h0M100.0 196.7h0M110.1 202.3h0M106.0 205.3h0M107.6 190.3h0M110.5 202.4h0M98.9 194.7h0M107.3 201.7h0M104.7 201.8h0M104.6 192.0h0M107.4 204.6h0M106.4 198.4h0M103.2 202.5h0M102.0 197.1h0M102.4 200.1h0M104.9 201.8h0M101.3 205.5h0M108.1 190.3h0M103.7 193.9h0M99.8 198.9h0M106.1 203.9h0M106.3 195.9h0M106.2 200.9h0M105.4 202.1h0M102.6 192.3h0M100.7 193.7h0M106.4 204.3h0M109.2 194.8h0M108.3 200.4h0M102.4 193.7h0M105.9 205.7h0M101.5 199.8h0M108.6 206.0h0M104.5 201.2h0M105.0 192.2h0M103.7 200.0h0M109.7 196.8h0M106.7 196.1h0M104.9 196.8h0M109.5 200.8h0M108.5 204.8h0M106.1 202.3h0M103.3 201.2h0M109.0 197.8h0M102.1 199.4h0M109.9 200.0h0M105.0 195.1h0M95.7 200.1h0M95.9 197.6h0M107.7 193.5h0M100.4 192.9h0M100.0 197.9h0M107.2 200.9h0M104.8 196.7h0M103.1 207.8h0M96.2 204.9h0M113.1 200.3h0M103.7 194.7h0M106.8 198.5h0M105.5 198.9h0M104.8 193.0h0M105.6 200.3h0M100.6 199.2h0M100.1 197.7h0M96.4 191.4h0M109.8 198.0h0M106.2 196.8h0M105.1 198.0h0M100.7 188.1h0M104.1 189.1h0M98.4 195.9h0M97.3 196.4h0M97.3 203.1h0M101.1 194.2h0M101.8 196.9h0M106.7 194.6h0M104.0 196.8h0M97.9 200.6h0M104.0 194.6h0M101.0 195.2h0M99.5 203.6h0M108.3 201.9h0M103.7 193.0h0M100.0 192.7h0M103.4 202.3h0M100.6 200.7h0M98.0 203.3h0M105.3 199.9h0M112.1 203.9h0M102.6 187.1h0M104.8 197.5h0M98.2 206.5h0M97.8 208.5h0M110.2 198.1h0M109.9 200.0h0M100.3 193.6h0M113.0 204.4h0M107.4 198.5h0M100.5 200.3h0M105.6 198.5h0M109.7 198.6h0M106.2 205.9h0M107.5 200.4h0M102.9 194.0h0M108.2 200.0h0M103.1 204.7h0M98.6 196.7h0M104.5 200.7h0M104.7 190.4h0M95.6 198.5h0M106.3 190.0h0M105.9 191.8h0M101.5 201.2h0M104.9 191.4h0M100.4 199.5h0M105.0 196.6h0M108.2 197.9h0M106.3 205.9h0M106.8 206.4h0M102.2 200.5h0M102.9 194.5h0M101.2 201.9h0M99.1 188.4h0M97.6 199.7h0M103.3 196.3h0M104.7 195.2h0M102.8 196.6h0M100.1 208.6h0M104.4 201.5h0M106.5 197.3h0M103.8 199.6h0M97.1 202.3h0M108.1 204.0h0M107.9 203.0h0M106.0 192.7h0M105.7 192.0h0M95.7 194.0h0M107.5 201.6h0M111.0 197.8h0M106.2 201.0h0M108.3 202.5h0M100.0 199.8h0M99.4 193.8h0M102.3 190.9h0M107.8 204.5h0M106.4 199.0h0M107.6 197.5h0M106.5 197.8h0M103.4 198.7h0M107.4 203.6h0M111.6 196.1h0M95.5 198.7h0M106.1 196.6h0M108.8 204.7h0M96.8 197.4h0M103.4 203.1h0M104.7 198.1h0M104.2 196.9h0M105.9 201.5h0M101.8 196.6h0M106.5 200.6h0M102.2 194.6h0M105.2 199.2h0M102.6 198.4h0M105.4 193.0h0M102.6 210.5h0M101.0 205.0h0M103.4 201.9h0M104.7 207.8h0M102.0 197.5h0M105.5 196.2h0M111.2 194.3h0M102.7 186.5h0M102.4 200.8h0M100.2 199.5h0M101.8 195.2h0M107.1 204.4h0M104.2 201.0h0M99.4 201.2h0M105.3 199.4h0M100.4 202.2h0M106.6 196.7h0M102.9 193.4h0M107.9 199.3h0M99.5 201.5h0M103.8 198.5h0M102.2 203.8h0M101.2 202.3h0M111.2 202.3h0M102.4 208.0h0M96.5 190.9h0M110.1 198.7h0M98.4 193.6h0M106.5 202.8h0M97.0 198.6h0M103.4 190.9h0M101.1 198.0h0M104.9 205.9h0M99.2 196.2h0M100.1 188.6h0M107.0 206.3h0M107.9 197.9h0M99.3 204.5h0M102.2 200.6h0M102.1 194.3h0M106.0 190.1h0M104.1 210.1h0M103.5 207.1h0M94.4 195.3h0M96.8 201.3h0M106.4 196.6h0M104.1 202.7h0M101.5 198.0h0M105.8 194.3h0M103.1 205.4h0M102.0 195.2h0M105.1 206.5h0M106.0 194.3h0M100.7 192.2h0M103.8 199.9h0M103.2 199.4h0M111.8 198.5h0M107.6 195.4h0M105.5 199.0h0M102.0 190.1h0M101.6 193.2h0M109.9 195.4h0M108.9 203.4h0M106.3 192.3h0M101.7 196.5h0M104.3 188.3h0M101.8 197.5h0M107.0 196.4h0M101.8 199.6h0M105.0 191.0h0M97.6 197.9h0M98.2 204.3h0M97.9 196.4h0M102.3 193.4h0M99.2 196.1h0M105.6 197.1h0M106.8 194.0h0M99.3 189.4h0M97.0 200.4h0M104.0 202.6h0M106.5 204.2h0M101.4 198.9h0M101.3 192.1h0M110.2 197.7h0M110.9 193.9h0M100.2 202.5h0M104.8 203.8h0M103.6 194.8h0M100.4 190.3h0M104.6 195.4h0M106.3 198.1h0M107.1 198.5h0M102.2 202.7h0M107.5 208.6h0M103.5 194.1h0M97.7 198.7h0M109.1 206.1h0M104.6 201.2h0M104.4 202.1h0M106.8 195.5h0M104.5 201.0h0M100.1 200.0h0M102.8 201.4h0M112.6 203.6h0M104.2 190.5h0M100.2 194.0h0M100.3 206.4h0M102.6 200.0h0M97.3 190.8h0M106.7 205.4h0M101.6 203.6h0M104.8 204.4h0M105.1 198.9h0M100.9 194.5h0M104.4 189.3h0M107.5 204.0h0M104.3 197.3h0M106.9 194.0h0M97.4 190.1h0M96.2 199.9h0M106.4 191.4h0M108.5 198.4h0M100.1 196.9h0M103.2 204.3h0M97.4 197.6h0M104.9 196.1h0M96.2 200.4h0M112.0 200.6h0M101.4 202.2h0M109.3 197.6h0M102.2 201.1h0M102.3 204.5h0M94.8 202.2h0M108.7 188.5h0M101.0 192.6h0M105.6 200.0h0M112.5 195.6h0M106.0 207.4h0M104.8 203.1h0M102.8 193.6h0M101.5 207.2h0M107.4 189.8h0M104.3 201.7h0M104.6 199.9h0M112.0 201.6h0M104.1 194.8h0M107.0 205.2h0M96.8 197.3h0M111.2 194.6h0M109.9 198.9h0M102.6 192.7h0M104.9 192.2h0M105.4 196.9h0M99.8 187.6h0M103.0 196.8h0M101.4 200.6h0M106.7 204.1h0M102.7 208.1h0M96.2 195.0h0M100.0 197.3h0M98.8 203.2h0M102.5 192.9h0M98.9 195.0h0M102.0 192.9h0M102.1 194.1h0M97.1 198.2h0M108.1 199.0h0M104.3 207.6h0M102.3 202.0h0M100.0 201.1h0M107.0 203.9h0M106.2 193.3h0M105.5 205.3h0M103.3 200.0h0M106.4 196.4h0M99.2 192.1h0M106.8 192.5h0M107.6 198.0h0M103.2 194.3h0M104.1 193.4h0M101.6 198.8h0M97.9 194.4h0M103.9 198.0h0M101.1 192.7h0M108.0 198.5h0M100.6 203.5h0M104.7 195.6h0M109.2 195.5h0M99.3 202.6h0M102.2 192.0h0M109.3 195.9h0M102.8 201.5h0M102.5 204.0h0M106.5 207.9h0M99.4 200.3h0M98.5 192.8h0M103.7 201.4h0M108.1 202.9h0M99.2 206.7h0M103.1 191.5h0M102.4 188.1h0M108.7 201.3h0M101.6 204.4h0M100.2 192.0h0M109.6 192.7h0M107.2 191.8h0M103.8 208.2h0M99.6 192.2h0M104.5 196.9h0M97.6 202.2h0M107.0 197.8h0M110.3 202.2h0M107.2 199.2h0M107.6 189.7h0M100.5 192.8h0M99.1 197.7h0M99.6 190.5h0M106.8 201.6h0M99.7 208.2h0M107.9 199.9h0M106.3 195.4h0M101.3 200.9h0M109.4 193.4h0M102.8 190.9h0M103.6 199.8h0M97.1 194.1h0M105.2 200.4h0M105.2 191.1h0M105.9 200.3h0M106.3 201.4h0M106.8 195.8h0M100.9 196.2h0M105.9 203.9h0M101.6 194.4h0M102.4 200.4h0M103.2 197.7h0M102.5 193.5h0M103.2 203.7h0M102.6 198.8h0M103.1 199.6h0M104.9 198.4h0M108.2 194.4h0M103.3 196.3h0M108.7 196.4h0M104.5 191.7h0M103.3 190.6h0M100.8 194.2h0M104.9 201.2h0M103.2 196.5h0M108.3 196.5h0M105.6 201.8h0M101.1 190.9h0M102.2 201.9h0M107.4 203.8h0M108.1 198.2h0M95.4 198.8h0M103.2 190.7h0M105.7 190.0h0M104.3 203.4h0M105.8 195.6h0M104.3 198.9h0M99.5 195.7h0M98.9 205.9h0M110.1 206.2h0M96.3 197.5h0M111.6 206.4h0M105.2 196.8h0M108.9 194.8h0M107.7 191.3h0M107.0 196.9h0M101.0 199.0h0M107.1 196.7h0M108.1 190.5h0M103.8 202.5h0M103.6 196.6h0M109.1 207.3h0M104.3 205.5h0M105.4 194.4h0M101.8 202.5h0M94.7 195.1h0M95.3 193.6h0M103.2 196.0h0M90.3 193.2h0M93.0 193.0h0M101.4 187.6h0M93.2 188.7h0M105.0 192.3h0M89.4 187.9h0M93.4 182.3h0M90.4 195.2h0M95.4 191.9h0M98.6 195.3h0M87.8 194.9h0M100.8 196.6h0M93.7 198.7h0M95.8 197.6h0M90.7 186.6h0M94.8 183.7h0M90.5 185.0h0M90.2 181.8h0M97.2 194.5h0M89.1 189.4h0M99.0 201.1h0M94.1 197.6h0M97.6 188.5h0M98.0 192.1h0M105.6 188.7h0M96.0 192.8h0M105.4 191.7h0M93.2 182.3h0M99.8 189.7h0M92.6 188.7h0M99.2 194.0h0M100.4 195.0h0M97.0 193.1h0M95.9 192.3h0M93.1 195.5h0M92.5 191.2h0M101.3 193.6h0M102.7 192.7h0M105.6 198.8h0M95.4 198.4h0M89.9 190.4h0M102.1 192.4h0M99.6 193.9h0M101.2 190.2h0M87.2 189.7h0M101.5 187.1h0M90.8 182.2h0M96.2 197.7h0M92.7 182.0h0M102.3 191.0h0M92.1 192.9h0M88.3 183.6h0M94.2 192.3h0M99.9 202.3h0M95.4 196.5h0M87.7 197.7h0M93.5 195.6h0M97.7 196.0h0M93.9 198.4h0M88.8 192.4h0M97.7 193.3h0M87.8 195.6h0M96.1 196.9h0M104.2 195.9h0M94.8 192.4h0M95.4 201.1h0M89.2 190.6h0M94.7 196.2h0M93.5 187.9h0M88.1 188.1h0M94.1 192.8h0M103.1 199.4h0M98.4 198.6h0M92.9 196.0h0M100.9 190.6h0M102.2 190.2h0M102.0 197.1h0M92.2 187.1h0M93.4 199.6h0M102.7 192.6h0M100.8 205.7h0M99.5 201.7h0M94.1 197.2h0M100.4 190.1h0M96.1 194.0h0M97.8 197.6h0M89.4 190.6h0M86.8 185.0h0M98.7 192.3h0M101.9 188.5h0M98.7 193.3h0M99.7 196.0h0M95.7 193.5h0M95.9 189.4h0M97.2 194.9h0M94.0 194.6h0M94.8 195.0h0M90.9 191.5h0M101.9 195.2h0M95.7 198.0h0M100.5 192.5h0M79.4 186.6h0M103.6 193.4h0M100.0 194.2h0M100.1 198.0h0M93.0 183.3h0M100.0 187.0h0M97.7 189.9h0M94.0 191.4h0M87.9 178.4h0M107.0 205.3h0M100.3 193.8h0M87.3 182.4h0M96.4 200.1h0M97.0 196.9h0M91.2 191.0h0M87.3 182.1h0M94.9 190.7h0M95.2 185.5h0M93.8 195.1h0M99.8 195.3h0M94.3 195.5h0M91.5 187.0h0M100.9 192.0h0M93.2 194.9h0M99.3 206.2h0M84.6 187.4h0M87.4 186.1h0M84.8 190.3h0M97.4 194.5h0M94.2 188.1h0M94.3 198.3h0M91.6 191.9h0M96.8 188.0h0M96.1 187.5h0M96.3 197.5h0M96.8 195.5h0M91.4 192.6h0M97.9 202.7h0M91.2 188.1h0M97.5 187.6h0M102.6 205.5h0M88.3 194.6h0M89.1 198.8h0M103.0 199.9h0M102.1 195.1h0M96.1 191.5h0M91.8 193.9h0M93.0 189.8h0M90.3 194.7h0M96.2 190.6h0M103.0 197.7h0M83.4 190.0h0M98.0 191.4h0M98.1 196.3h0M103.0 201.9h0M95.2 195.8h0M98.2 193.0h0M100.4 202.1h0M91.9 179.2h0M101.5 195.5h0M98.2 189.1h0M88.5 189.5h0M89.1 190.0h0M90.6 198.4h0M92.4 193.7h0M89.1 195.1h0M92.2 196.6h0M93.4 196.2h0M93.7 186.6h0M94.3 184.3h0M92.0 193.5h0M92.4 190.4h0M89.1 188.8h0M96.4 205.1h0M86.9 188.8h0M88.6 193.9h0M97.2 192.9h0M96.9 190.7h0M98.4 192.9h0M96.0 201.0h0M104.1 193.5h0M93.8 188.4h0M96.5 190.7h0M95.3 192.7h0M83.4 180.3h0M85.9 191.6h0M89.3 183.8h0M93.9 191.3h0M96.5 185.5h0M97.7 193.5h0M93.7 193.1h0M93.6 189.6h0M94.6 191.8h0M98.4 189.0h0M89.8 195.0h0M91.1 192.6h0M95.5 195.3h0M96.3 195.3h0M98.7 199.7h0M102.9 192.8h0M99.4 195.4h0M91.9 190.4h0M95.0 182.5h0M96.1 189.9h0M93.3 188.7h0M90.6 184.7h0M95.1 190.7h0M84.8 200.5h0M93.1 194.8h0M88.0 191.1h0M91.9 194.6h0M104.1 195.8h0M95.4 193.1h0M92.3 190.5h0M106.2 200.6h0M103.7 195.6h0M103.8 192.2h0M99.4 191.8h0M87.7 191.9h0M102.2 197.6h0M98.2 194.8h0M92.2 189.9h0M96.3 191.0h0M93.5 184.2h0M105.6 192.2h0M97.0 197.3h0M95.8 198.3h0M99.3 196.3h0M97.6 198.7h0M101.4 193.4h0M91.6 190.2h0M98.7 188.8h0M93.1 194.0h0M97.1 191.3h0M92.1 190.4h0M92.3 193.4h0M96.1 197.0h0M90.2 195.3h0M95.6 191.0h0M92.4 192.2h0M94.6 186.9h0M93.9 197.7h0M108.7 196.1h0M94.2 192.7h0M93.8 188.9h0M86.4 188.9h0M94.2 200.6h0M98.7 196.5h0M91.7 199.3h0M91.0 198.9h0M101.5 199.6h0M95.4 194.0h0M98.3 192.9h0M95.0 196.1h0M94.3 190.9h0M90.8 196.4h0M66.9 172.9h0M72.3 176.9h0M68.7 188.0h0M84.7 178.4h0M65.5 189.7h0M71.3 182.8h0M67.2 177.6h0M80.7 181.9h0M98.7 191.6h0M71.3 182.1h0M65.8 184.7h0M56.3 175.5h0M74.6 180.4h0M67.0 186.6h0M73.4 174.6h0M70.2 185.9h0M67.0 186.1h0M79.3 185.4h0M77.3 173.9h0M72.8 185.9h0M75.0 175.8h0M73.8 187.0h0M82.5 168.8h0M63.9 191.1h0M68.8 189.2h0M77.1 182.4h0M78.4 191.2h0M77.6 180.3h0M66.7 185.3h0M96.8 174.2h0M68.0 183.4h0M91.1 181.6h0M62.6 187.9h0M77.5 187.1h0M72.9 183.6h0M68.2 184.5h0M79.0 186.5h0M71.0 176.6h0M77.0 190.4h0M74.9 187.8h0M75.0 174.0h0M96.6 178.3h0M74.6 180.6h0M77.9 185.7h0M77.9 181.0h0M65.0 183.2h0M74.2 184.2h0M65.5 181.5h0M87.4 190.4h0M70.1 193.3h0M78.4 183.1h0M70.5 180.3h0M86.8 179.3h0M72.8 187.1h0M71.5 186.9h0M83.2 192.4h0M71.0 184.2h0M72.2 185.0h0M83.5 185.9h0M71.0 178.6h0" stroke="#e4412e" stroke-width="0.9" stroke-linecap="round" fill="none"/>
<path d="M78.9 170.2h0M99.2 186.5h0M94.4 187.9h0M90.0 181.1h0M92.0 182.3h0M78.5 177.3h0M94.7 179.5h0M89.1 188.0h0M94.4 183.8h0M77.8 190.1h0M77.0 174.9h0M81.3 167.2h0M90.0 175.7h0M80.3 177.8h0M84.9 179.0h0M85.1 178.0h0M97.7 194.1h0M99.6 190.0h0M77.7 179.3h0M89.0 178.2h0M95.6 185.5h0M80.6 177.9h0M94.3 179.0h0M75.8 177.5h0M97.9 191.5h0M83.4 174.7h0M100.1 183.2h0M79.2 175.4h0M92.8 185.0h0M85.3 178.2h0M92.9 181.8h0M84.8 174.2h0M99.0 189.5h0M80.7 176.2h0M80.9 175.0h0M90.7 188.3h0M96.7 189.6h0M82.1 175.5h0M102.7 185.1h0M90.6 177.4h0M80.2 181.1h0M99.9 185.9h0M95.6 188.3h0M94.0 186.6h0M98.5 192.2h0M88.2 176.0h0M94.8 183.2h0M86.5 178.1h0M91.0 184.1h0M84.1 178.5h0M95.5 184.4h0M78.0 178.8h0M87.1 175.2h0M78.2 175.0h0M99.4 190.3h0M96.0 186.2h0M89.9 182.0h0M90.3 175.7h0M97.9 184.8h0M77.6 177.9h0M88.1 180.0h0M79.7 175.5h0M82.0 179.1h0M89.7 181.6h0M77.5 176.8h0M76.3 176.4h0M88.2 178.8h0M79.0 175.5h0M95.6 185.5h0M77.5 173.0h0M85.6 183.1h0M95.9 180.7h0M78.7 172.4h0M83.6 177.2h0M84.6 182.6h0M78.3 175.3h0M77.0 174.5h0M90.1 186.7h0M81.4 175.4h0M92.6 180.7h0M96.1 185.9h0M82.7 176.9h0M81.6 177.6h0M101.7 183.7h0M87.9 181.4h0M83.8 175.4h0M82.2 180.3h0M87.3 183.7h0M78.6 175.2h0M91.5 175.2h0M98.5 185.9h0M99.6 185.3h0M96.7 187.3h0M79.4 174.2h0M95.9 186.6h0M93.7 186.4h0M97.4 185.7h0M95.1 181.5h0M96.6 185.1h0M84.3 186.0h0M86.4 177.0h0M92.6 176.7h0M95.9 189.0h0M87.0 177.9h0M91.6 185.3h0M94.1 181.4h0M94.1 181.6h0M78.6 169.2h0M93.9 185.2h0M95.8 186.9h0M96.6 194.2h0M91.1 183.6h0M81.7 174.5h0M84.8 171.3h0M85.5 177.5h0M99.1 188.3h0M77.2 172.8h0M103.8 184.6h0M97.5 186.8h0M80.4 182.9h0M83.1 179.2h0M79.5 175.7h0M81.2 180.5h0M78.9 181.3h0M80.7 174.6h0M84.9 169.0h0M80.9 171.7h0M80.4 176.4h0M85.3 176.2h0M87.1 167.8h0M84.5 175.7h0M86.3 175.5h0M67.9 176.3h0M87.0 174.9h0M83.1 179.7h0M86.2 176.1h0M86.4 177.4h0M75.5 171.3h0M78.6 175.6h0M68.5 177.7h0M81.5 176.0h0M80.7 178.0h0M85.1 177.4h0M84.5 176.7h0M92.9 176.9h0M75.1 170.5h0M78.9 174.8h0M80.7 173.7h0M83.0 166.5h0M85.0 177.0h0" stroke="#7f9c46" stroke-width="0.9" stroke-linecap="round" fill="none"/>
<path d="M94.4 186.9h0M97.7 185.5h0M92.6 186.0h0M99.6 194.3h0M94.2 186.2h0M104.0 187.4h0M83.1 179.3h0M89.2 179.0h0M95.4 182.7h0M105.7 187.8h0M96.1 183.7h0M87.6 182.6h0M84.6 177.1h0M93.4 181.7h0M92.0 183.7h0M83.8 180.4h0M90.4 180.1h0M96.2 182.9h0M101.0 187.2h0M90.9 186.6h0M99.0 185.0h0M88.4 177.6h0M104.2 182.7h0M84.9 177.6h0M97.2 186.4h0M102.6 188.2h0M96.9 181.7h0M101.2 183.6h0M87.9 178.1h0M93.8 183.0h0M95.7 184.3h0M100.2 192.8h0M97.1 188.9h0M99.7 192.4h0M96.4 184.7h0M95.4 181.0h0M90.0 182.8h0M101.5 186.0h0M94.8 183.6h0M96.8 188.9h0M100.5 183.6h0M88.1 181.5h0M85.7 178.2h0M92.6 186.2h0M98.3 188.7h0" stroke="#8fa34a" stroke-width="0.9" stroke-linecap="round" fill="none"/>
<path d="M71.2 205.6h0M58.7 211.0h0M73.9 218.9h0M61.7 208.8h0M70.8 209.4h0M75.6 201.9h0M71.7 214.7h0M77.2 210.6h0M74.4 201.7h0M78.3 204.0h0M69.9 207.4h0M72.9 206.0h0M53.6 221.3h0M74.1 213.5h0M53.4 219.1h0M53.5 216.2h0M80.6 207.8h0M49.7 220.4h0M70.1 213.2h0M73.9 210.1h0M63.7 215.8h0M67.7 213.4h0M51.3 219.8h0M54.3 219.6h0M72.9 213.0h0M67.8 212.8h0M58.3 219.7h0M53.8 219.4h0M64.7 210.3h0M73.7 206.3h0M77.5 208.1h0M77.0 205.0h0M81.3 210.3h0M64.0 214.5h0M79.8 207.9h0M72.9 206.0h0M66.4 216.5h0M59.5 222.6h0M55.7 217.9h0M46.8 218.6h0M74.6 209.8h0M70.8 209.0h0M52.6 218.3h0M58.4 216.4h0M68.4 220.6h0M70.3 214.5h0M65.6 213.3h0M53.0 219.6h0M75.0 208.7h0M76.2 209.1h0M56.3 216.4h0M73.2 213.7h0M64.6 216.7h0M76.7 200.9h0M56.3 213.6h0M70.8 202.8h0M52.8 224.3h0M75.8 209.9h0M67.4 217.7h0M53.9 220.9h0M57.0 214.5h0M49.9 219.5h0M73.3 214.2h0M59.6 215.6h0M60.3 214.2h0M66.3 220.9h0M68.9 210.2h0M46.5 217.9h0M57.7 222.0h0M66.4 212.5h0M80.8 206.3h0M75.0 210.5h0M59.8 221.9h0M59.1 213.2h0M58.8 215.9h0M60.3 214.4h0M53.5 216.5h0M70.2 206.4h0M70.1 220.2h0M70.4 207.3h0M53.8 226.1h0M54.7 224.0h0M72.8 213.5h0M51.4 213.8h0M69.4 216.3h0M51.1 220.9h0M53.1 222.0h0M64.8 222.4h0M63.7 218.6h0M63.2 210.3h0M72.8 204.2h0M59.9 214.1h0M50.0 224.8h0M59.8 212.6h0M69.6 200.2h0M69.5 210.9h0M58.7 216.3h0M58.8 215.6h0M59.8 214.6h0M65.6 215.4h0M65.2 206.0h0M53.6 220.2h0M62.5 205.9h0M58.7 214.5h0M71.5 210.6h0M77.9 200.8h0M75.3 208.1h0M56.7 223.4h0M53.7 217.2h0M50.8 220.8h0M73.2 215.3h0M60.3 219.7h0M62.6 213.2h0M53.0 221.8h0M77.7 207.2h0M64.0 209.2h0M55.9 216.1h0M81.1 213.7h0M67.7 212.1h0M52.7 221.3h0M56.0 219.7h0M58.7 207.8h0M55.0 219.5h0M74.0 213.2h0M64.1 220.9h0M88.3 215.1h0M57.8 213.8h0M76.3 211.2h0M53.7 210.0h0M53.6 220.7h0M63.6 212.2h0M64.1 209.9h0M71.1 215.6h0M73.2 211.8h0M75.3 208.3h0M74.8 219.0h0M66.3 221.8h0M82.0 205.6h0M56.7 210.8h0M70.0 210.1h0M48.1 218.9h0M52.0 227.2h0M62.4 218.2h0M55.3 211.2h0M67.9 218.7h0M56.5 211.5h0M61.4 219.0h0M58.3 223.7h0M68.1 220.1h0M53.9 210.6h0M53.9 215.2h0M75.0 214.2h0M65.1 209.0h0M66.7 212.8h0M64.9 212.5h0M52.1 218.1h0M71.1 210.0h0M67.3 223.7h0M71.7 219.8h0M60.1 219.2h0M55.6 218.1h0M56.7 216.5h0M50.7 220.0h0M60.5 216.3h0M58.3 204.5h0M57.5 220.1h0M63.0 213.7h0M71.0 222.5h0M70.7 215.0h0M54.2 213.2h0M72.9 213.6h0M63.7 218.2h0M58.1 204.8h0M63.2 220.4h0M61.5 216.5h0M70.7 222.3h0M53.5 220.6h0M80.1 207.2h0M71.5 217.5h0M80.2 213.8h0M62.8 212.9h0M58.4 217.3h0M60.9 221.8h0M72.4 208.5h0M81.8 215.4h0M52.0 222.9h0M74.0 217.1h0M59.1 219.1h0M66.2 211.4h0M77.0 212.4h0M68.7 214.2h0M77.0 212.6h0M54.1 212.0h0M46.2 216.4h0M59.3 212.4h0M83.6 207.7h0M56.4 215.4h0M59.8 221.1h0M61.9 209.3h0M60.9 221.9h0M66.6 213.3h0M70.1 213.9h0M59.2 214.2h0M78.6 211.0h0M70.7 210.0h0M61.2 227.1h0M46.0 224.8h0M65.2 214.4h0M53.6 222.7h0M58.2 218.9h0M74.0 209.3h0M55.9 212.2h0M49.1 212.8h0M61.8 219.5h0M51.1 206.1h0M60.0 219.7h0M77.7 214.6h0M74.2 212.6h0M73.2 213.6h0M46.5 220.2h0M56.3 213.3h0M63.5 209.8h0M57.6 222.9h0M65.8 212.9h0M50.9 220.3h0M58.7 216.7h0M64.5 209.4h0M63.2 211.4h0M65.7 214.9h0M59.5 221.2h0M56.2 208.4h0M58.5 216.4h0M68.3 213.1h0M65.6 211.6h0M75.2 208.0h0M61.8 213.5h0M60.8 216.9h0M57.7 216.3h0M68.6 210.2h0M46.3 219.7h0M59.7 211.9h0M67.8 216.5h0M87.7 214.1h0M65.9 215.3h0M35.3 225.6h0M71.3 212.8h0M60.3 216.3h0M82.9 212.9h0M70.4 211.5h0M72.5 213.7h0" stroke="#4b7497" stroke-width="0.9" stroke-linecap="round" fill="none"/>
<path d="M62.2 222.0h0M60.6 212.7h0M53.8 214.6h0M73.7 210.3h0M72.1 215.1h0M57.1 205.9h0M85.1 206.0h0M59.2 206.9h0M69.3 215.7h0M64.3 208.5h0M42.2 207.9h0M49.8 210.4h0M63.3 215.4h0M52.8 215.7h0M54.2 212.6h0M66.2 208.6h0M59.2 214.5h0M67.7 206.8h0M62.7 196.1h0M71.3 205.8h0M43.0 218.8h0M70.4 218.3h0M67.8 208.5h0M67.1 215.0h0M61.7 212.4h0M71.0 218.3h0M53.7 214.1h0M70.4 218.1h0M80.3 202.4h0M74.1 207.9h0M39.5 223.0h0M62.1 211.0h0M63.8 215.9h0M55.0 215.3h0M49.0 221.1h0M64.4 212.3h0M63.9 216.6h0M71.9 215.0h0M62.7 206.5h0M66.8 217.3h0M72.8 209.6h0M77.0 207.6h0M56.1 215.4h0M68.8 209.8h0M51.1 207.0h0M74.1 210.5h0M69.2 208.9h0M66.8 212.8h0M61.6 208.0h0M51.6 220.7h0" stroke="#5a82b8" stroke-width="0.9" stroke-linecap="round" fill="none"/>
<path d="M55.6 147.1h0M62.7 145.7h0M55.2 146.4h0M61.0 148.3h0M55.6 144.4h0M61.8 147.3h0M64.4 148.1h0M59.2 146.1h0M67.7 146.0h0M57.0 144.7h0M59.8 146.7h0M58.4 146.4h0M60.4 147.6h0M63.0 146.8h0M53.8 147.6h0M55.0 146.2h0M54.8 146.5h0M57.0 146.8h0M70.1 146.4h0M62.2 144.4h0M58.6 147.6h0M59.2 147.1h0M59.8 144.9h0M61.3 145.2h0M65.5 145.7h0M61.7 146.5h0M62.5 145.5h0M62.7 146.3h0M63.5 147.5h0M60.0 145.3h0M62.0 147.2h0M64.8 145.9h0M61.3 147.3h0M60.4 146.8h0M60.1 145.5h0M56.3 145.9h0M61.4 148.9h0M62.6 148.2h0M62.0 147.6h0M60.1 147.7h0M65.2 146.0h0M57.3 149.6h0M60.3 148.1h0M62.3 144.7h0M67.3 149.3h0M60.1 147.7h0M59.9 145.1h0M59.1 147.1h0M63.1 147.6h0M59.7 148.7h0M57.1 147.8h0M63.1 146.0h0M53.8 145.0h0M60.3 147.3h0M64.5 144.9h0M59.5 147.5h0M59.0 142.7h0M62.1 150.2h0M62.7 145.0h0M58.2 146.9h0M67.5 147.5h0M59.9 149.0h0M59.2 149.5h0M57.3 145.7h0M61.8 148.8h0M61.6 147.0h0M53.7 145.4h0M57.5 145.6h0M61.4 146.0h0M62.0 146.6h0M58.4 146.7h0M60.9 147.9h0M58.0 146.1h0M55.1 149.1h0M64.1 146.2h0M58.0 144.5h0M60.0 146.8h0M66.5 146.9h0M57.0 142.6h0M64.0 146.8h0M54.4 146.8h0M54.4 152.1h0M63.1 147.4h0M58.9 143.1h0M59.1 144.0h0M61.4 143.1h0M56.6 148.5h0M64.8 144.6h0M54.6 147.9h0M62.2 144.9h0M57.3 145.4h0M55.7 145.4h0M63.5 147.6h0M66.1 146.4h0M59.1 144.9h0M59.1 144.4h0M53.8 147.6h0M64.1 147.8h0M63.8 146.9h0M57.2 146.6h0M58.3 144.7h0M54.1 144.1h0M59.5 146.7h0M58.0 148.8h0M60.1 147.4h0M63.4 145.2h0M53.2 147.7h0M57.3 148.6h0M60.6 148.1h0M61.9 143.2h0M61.8 145.4h0M57.1 145.8h0M62.0 147.9h0M62.7 143.8h0M57.6 142.7h0M59.2 147.5h0M57.1 146.9h0M60.2 148.1h0M56.9 145.2h0M57.1 149.3h0M63.0 146.3h0M60.2 146.7h0M60.1 146.2h0M58.4 144.5h0M57.4 149.1h0M61.2 146.6h0M58.8 146.6h0M60.6 145.5h0M60.1 146.9h0M57.1 145.2h0M56.3 144.8h0M62.3 142.7h0M58.6 145.5h0M57.5 146.7h0M63.1 146.6h0M59.1 145.5h0M59.1 148.0h0M58.2 144.7h0M55.5 144.7h0M55.1 148.3h0M60.6 146.1h0M64.2 145.4h0M61.9 147.8h0M54.6 144.0h0M56.5 148.0h0M63.6 144.5h0M62.9 145.9h0M58.2 145.6h0M58.5 143.6h0M56.3 144.5h0M61.1 149.8h0M68.2 146.0h0M54.0 145.8h0M56.5 149.7h0M61.3 145.3h0M62.5 147.4h0M54.3 145.6h0M58.7 146.5h0M59.9 146.0h0M60.1 145.6h0M56.4 161.3h0M58.6 155.8h0M56.6 167.1h0M59.4 172.9h0M59.5 181.0h0M57.4 153.6h0M58.9 158.1h0M55.4 173.6h0M59.6 171.3h0M56.4 168.4h0M59.8 161.1h0M51.5 178.5h0M53.8 157.0h0M60.5 167.8h0M54.9 168.7h0M53.4 166.3h0M49.9 169.0h0M54.9 166.9h0M55.5 163.3h0M58.7 166.6h0M52.8 172.1h0M55.3 163.7h0M52.6 180.5h0M56.9 165.8h0M61.2 155.4h0M52.8 178.7h0M56.7 165.8h0M54.2 170.0h0M51.7 179.3h0M55.2 151.4h0M56.7 157.0h0M53.4 160.6h0M57.3 162.1h0M55.8 173.7h0M59.2 155.0h0M57.3 157.1h0M57.8 167.7h0M55.5 163.7h0M55.1 167.3h0M54.2 170.4h0M59.6 171.3h0M56.3 170.1h0M54.2 177.5h0M51.2 175.7h0M55.2 179.1h0M59.8 175.7h0M55.9 184.5h0M56.9 175.0h0M58.9 171.3h0M54.3 181.3h0M60.8 162.7h0M59.9 176.3h0M59.5 171.6h0M56.4 174.8h0M62.1 185.4h0M52.1 177.3h0M59.8 172.4h0M52.9 170.5h0M54.9 174.6h0M57.7 179.4h0M37.5 201.7h0M38.7 201.2h0M30.8 205.3h0M45.7 200.2h0M28.0 205.8h0M27.9 207.5h0M42.6 198.2h0M32.6 202.1h0M35.6 202.5h0M40.1 202.1h0M44.6 197.9h0M29.1 203.3h0M35.2 203.0h0M30.6 205.5h0M26.9 207.9h0M45.9 197.7h0M44.1 195.9h0M39.2 198.9h0M37.5 202.3h0M47.8 196.5h0M45.7 196.2h0M42.5 199.2h0M34.0 200.6h0M46.3 198.3h0M42.3 197.4h0M42.1 197.2h0M28.0 207.2h0M33.4 203.1h0M33.8 203.1h0M39.8 199.4h0M46.5 196.1h0M40.2 198.8h0M39.2 202.1h0M36.0 197.6h0M41.6 202.9h0M41.5 199.5h0M25.0 203.8h0M39.5 200.2h0M34.4 201.8h0M27.3 206.8h0M28.7 206.9h0M32.1 205.4h0M36.8 200.7h0M45.7 193.2h0M39.3 198.5h0M44.5 199.4h0M43.0 199.3h0M27.3 207.1h0M36.2 201.5h0M29.0 203.7h0M27.3 206.4h0M46.2 195.4h0M39.5 201.1h0M33.9 202.6h0M39.1 202.4h0M32.1 203.7h0M25.9 206.0h0M31.7 204.9h0M42.7 198.9h0M35.3 204.1h0M26.6 205.4h0M47.9 196.5h0M45.9 196.9h0M34.0 199.4h0M31.6 204.7h0M38.3 202.8h0M36.0 201.2h0M47.8 196.8h0M27.9 204.4h0M39.4 199.4h0M27.2 206.6h0M38.0 202.0h0M41.1 200.5h0M36.0 201.9h0M35.9 203.8h0M41.3 194.8h0M46.6 195.8h0M42.2 199.0h0M45.9 197.7h0M42.9 197.7h0M31.6 203.3h0M40.4 198.1h0M39.6 199.5h0M42.7 199.0h0M47.9 197.0h0M46.3 197.1h0M27.2 206.1h0M31.3 202.7h0M28.6 206.6h0M38.1 201.5h0M41.0 199.8h0M37.8 200.2h0M36.1 201.0h0M30.1 203.7h0M45.2 199.3h0M28.3 207.6h0M40.4 201.5h0M43.0 198.8h0M32.2 205.3h0M43.3 197.0h0M48.3 197.3h0M32.3 201.7h0M46.0 196.3h0M35.2 202.0h0M45.4 197.7h0M28.3 207.3h0M37.0 202.4h0M40.8 198.9h0M28.6 207.9h0M30.6 204.4h0M80.1 194.5h0M72.5 192.4h0M77.0 201.1h0M78.8 197.7h0M81.5 207.9h0M76.3 191.3h0M86.5 187.1h0M82.3 190.9h0M76.0 194.9h0M96.6 200.5h0M87.9 198.3h0M85.6 192.5h0M83.2 195.5h0M86.5 200.4h0M73.8 189.3h0M92.3 190.4h0M90.5 210.2h0M89.5 197.6h0M81.1 196.9h0M88.5 211.2h0M88.3 195.1h0M93.5 196.0h0M91.3 197.4h0M83.6 199.9h0M81.0 192.7h0M81.5 196.4h0M79.4 199.8h0M84.4 197.5h0M79.6 197.1h0M87.0 194.5h0M80.3 197.3h0M83.7 193.0h0M88.0 198.2h0M95.3 190.2h0M73.0 197.4h0M95.6 200.8h0M82.1 192.2h0M84.2 193.5h0M76.3 196.4h0M77.2 194.4h0M76.8 195.0h0M85.4 196.2h0M83.8 190.7h0M71.8 195.4h0M81.8 199.2h0M72.2 200.6h0M81.1 190.5h0M77.8 193.6h0M91.5 193.7h0M84.2 191.5h0M72.3 192.3h0M70.4 194.3h0M80.3 204.7h0M78.5 201.5h0M86.4 200.0h0M83.3 195.2h0M85.3 201.8h0M76.2 189.6h0M77.7 188.6h0M78.8 194.3h0M76.5 194.9h0M90.3 196.2h0M89.7 195.1h0M82.6 189.0h0M90.6 197.5h0M92.2 195.5h0M77.5 206.4h0M74.1 185.8h0M87.4 190.6h0M73.6 197.2h0M76.2 204.9h0M96.7 206.8h0M78.0 200.6h0M77.3 193.3h0M80.2 194.9h0M84.3 194.3h0M91.7 188.9h0M84.7 187.9h0M85.5 202.0h0M92.7 199.1h0" stroke="#5b86be" stroke-width="0.9" stroke-linecap="round" fill="none"/>
<line x1="24.10" y1="147.00" x2="47.30" y2="139.70" stroke="#444" stroke-width="0.7"/>
<line x1="47.30" y1="139.70" x2="130.00" y2="142.60" stroke="#444" stroke-width="0.7"/>
<line x1="24.10" y1="223.00" x2="47.30" y2="231.70" stroke="#444" stroke-width="0.7"/>
<line x1="47.30" y1="231.70" x2="130.00" y2="228.80" stroke="#444" stroke-width="0.7"/>
<line x1="24.10" y1="147.00" x2="24.10" y2="223.00" stroke="#444" stroke-width="0.7"/>
<line x1="47.30" y1="139.70" x2="47.30" y2="231.70" stroke="#444" stroke-width="0.7"/>
<line x1="130.00" y1="142.60" x2="130.00" y2="228.80" stroke="#444" stroke-width="0.7"/>
<line x1="21.00" y1="160.30" x2="23.60" y2="160.10" stroke="#333" stroke-width="0.6"/>
<text x="20.00" y="162.60" font-size="6.6" text-anchor="end" fill="#333" stroke="#333" stroke-width="0.146">0.4</text>
<line x1="21.00" y1="179.30" x2="23.60" y2="179.10" stroke="#333" stroke-width="0.6"/>
<text x="20.00" y="181.60" font-size="6.6" text-anchor="end" fill="#333" stroke="#333" stroke-width="0.146">0.2</text>
<line x1="21.00" y1="197.60" x2="23.60" y2="197.40" stroke="#333" stroke-width="0.6"/>
<text x="20.00" y="199.90" font-size="6.6" text-anchor="end" fill="#333" stroke="#333" stroke-width="0.146">0</text>
<line x1="21.00" y1="216.00" x2="23.60" y2="215.80" stroke="#333" stroke-width="0.6"/>
<text x="20.00" y="218.30" font-size="6.6" text-anchor="end" fill="#333" stroke="#333" stroke-width="0.146">−0.2</text>
<text transform="translate(8.30,184.50) rotate(-90)" font-size="7.8" text-anchor="middle" fill="#1a1a1a" stroke="#1a1a1a" stroke-width="0.188">PCoA3 (5.1%)</text>
<line x1="59.50" y1="232.50" x2="59.50" y2="234.20" stroke="#333" stroke-width="0.6"/>
<text x="59.50" y="239.00" font-size="6.6" text-anchor="middle" fill="#222" stroke="#222" stroke-width="0.146">−0.4</text>
<line x1="80.20" y1="231.80" x2="80.20" y2="233.50" stroke="#333" stroke-width="0.6"/>
<text x="80.20" y="238.30" font-size="6.6" text-anchor="middle" fill="#222" stroke="#222" stroke-width="0.146">−0.2</text>
<line x1="100.00" y1="231.30" x2="100.00" y2="233.00" stroke="#333" stroke-width="0.6"/>
<text x="100.00" y="237.80" font-size="6.6" text-anchor="middle" fill="#222" stroke="#222" stroke-width="0.146">0</text>
<line x1="121.30" y1="230.60" x2="121.30" y2="232.30" stroke="#333" stroke-width="0.6"/>
<text x="121.30" y="237.10" font-size="6.6" text-anchor="middle" fill="#222" stroke="#222" stroke-width="0.146">0.2</text>
<text x="69.00" y="245.40" font-size="8.0" fill="#1a1a1a" stroke="#1a1a1a" stroke-width="0.195">PCoA1 (14.8%)</text>
<text transform="translate(1.50,233.00) rotate(19)" font-size="8.0" fill="#1a1a1a" stroke="#1a1a1a" stroke-width="0.195">PCoA2 (5.7%)</text>
<text transform="translate(17.20,230.50) rotate(19)" font-size="6.3" fill="#222" stroke="#222" stroke-width="0.136">0.2</text>
<text transform="translate(29.20,232.60) rotate(19)" font-size="6.3" fill="#222" stroke="#222" stroke-width="0.136">0</text>
<text transform="translate(32.20,237.60) rotate(19)" font-size="6.3" fill="#222" stroke="#222" stroke-width="0.136">−0.2</text>
<circle cx="135.40" cy="156.90" r="1.50" fill="#e4412e"/>
<text x="139.70" y="159.10" font-size="6.4" fill="#1a1a1a" stroke="#1a1a1a" stroke-width="0.140">Soil</text>
<circle cx="135.40" cy="162.70" r="1.50" fill="#7f9c46"/>
<text x="139.70" y="164.90" font-size="6.4" fill="#1a1a1a" stroke="#1a1a1a" stroke-width="0.140">Cattle feces</text>
<circle cx="135.40" cy="169.00" r="1.50" fill="#5b86be"/>
<text x="139.70" y="171.20" font-size="6.4" fill="#1a1a1a" stroke="#1a1a1a" stroke-width="0.140">Chicken feces</text>
<circle cx="135.40" cy="175.10" r="1.50" fill="#7b3a22"/>
<text x="139.70" y="177.30" font-size="6.4" fill="#1a1a1a" stroke="#1a1a1a" stroke-width="0.140">Swine feces</text>
<circle cx="135.40" cy="181.10" r="1.50" fill="#b9cbc6"/>
<text x="139.70" y="183.30" font-size="6.4" fill="#1a1a1a" stroke="#1a1a1a" stroke-width="0.140">Human feces</text>
<circle cx="135.40" cy="187.10" r="1.50" fill="#c8d6b9"/>
<text x="139.70" y="189.30" font-size="6.4" fill="#1a1a1a" stroke="#1a1a1a" stroke-width="0.140">Vegetable</text>
<circle cx="135.40" cy="193.10" r="1.50" fill="#4b7497"/>
<text x="139.70" y="195.30" font-size="6.4" fill="#1a1a1a" stroke="#1a1a1a" stroke-width="0.140">WWTP influent</text>
<circle cx="135.40" cy="199.00" r="1.50" fill="#c7852c"/>
<text x="139.70" y="201.20" font-size="6.4" fill="#1a1a1a" stroke="#1a1a1a" stroke-width="0.140">WWTP sewage</text>
<circle cx="135.40" cy="204.60" r="1.50" fill="#6b4a22"/>
<text x="139.70" y="206.80" font-size="6.4" fill="#1a1a1a" stroke="#1a1a1a" stroke-width="0.140">Landfill</text>
<circle cx="135.40" cy="209.90" r="1.50" fill="#5a82b8"/>
<text x="139.70" y="212.10" font-size="6.4" fill="#1a1a1a" stroke="#1a1a1a" stroke-width="0.140">Marine water</text>
<circle cx="135.40" cy="215.30" r="1.50" fill="#8fa34a"/>
<text x="139.70" y="217.50" font-size="6.4" fill="#1a1a1a" stroke="#1a1a1a" stroke-width="0.140">Natural sediment</text>
<circle cx="135.40" cy="220.60" r="1.50" fill="#8ea6c8"/>
<text x="139.70" y="222.80" font-size="6.4" fill="#1a1a1a" stroke="#1a1a1a" stroke-width="0.140">Natural water</text>
<text x="175.00" y="138.80" font-size="8.5" font-weight="bold" fill="#111" stroke="#111" stroke-width="0.214">d</text>
<text x="203.00" y="138.80" font-size="8.0" fill="#1a1a1a" stroke="#1a1a1a" stroke-width="0.195">High risk ARGs (Rank I)</text>
<line x1="206.90" y1="148.70" x2="279.50" y2="149.90" stroke="#555" stroke-width="0.7"/>
<line x1="279.50" y1="149.90" x2="313.30" y2="144.50" stroke="#555" stroke-width="0.7"/>
<line x1="206.90" y1="226.60" x2="279.50" y2="224.60" stroke="#555" stroke-width="0.7"/>
<line x1="279.50" y1="224.60" x2="313.30" y2="231.40" stroke="#555" stroke-width="0.7"/>
<line x1="279.50" y1="149.90" x2="279.50" y2="224.60" stroke="#555" stroke-width="0.7"/>
<path d="M245.3 191.8h0M233.9 209.0h0M246.4 195.9h0M260.6 191.2h0M237.8 188.6h0M247.3 199.0h0M260.7 188.2h0M244.1 181.3h0M248.7 209.4h0M253.7 189.8h0M266.4 195.8h0M262.1 205.0h0M233.6 192.8h0M245.6 202.1h0M247.2 193.3h0M224.2 188.5h0M241.2 184.3h0M250.2 190.0h0M250.6 199.5h0M253.2 192.5h0M252.2 183.4h0M243.7 187.8h0M270.9 182.3h0M243.8 196.5h0M242.5 197.4h0M234.5 200.1h0M250.7 174.9h0M231.3 182.2h0M245.1 189.4h0M252.1 197.2h0M255.3 195.9h0M238.4 180.5h0M233.7 195.1h0M236.5 182.6h0M237.7 195.3h0M232.3 190.6h0M256.7 198.7h0M227.7 191.9h0M241.3 211.7h0M245.2 181.0h0" stroke="#b9cbc6" stroke-width="0.9" stroke-linecap="round" fill="none"/>
<path d="M244.6 166.1h0M223.0 173.6h0M243.3 170.0h0M245.1 165.5h0M230.9 172.6h0M248.0 164.7h0M232.6 169.1h0M233.9 168.2h0M228.6 174.4h0M234.6 169.1h0M229.2 168.2h0M238.3 168.3h0M225.5 168.4h0M246.5 171.4h0M233.4 169.1h0M223.5 172.5h0M239.0 168.9h0M221.0 174.4h0M240.5 168.3h0M242.9 169.8h0M251.7 171.8h0M248.2 171.5h0M233.6 167.5h0M244.6 164.7h0M236.0 168.5h0M221.2 172.9h0M231.5 171.6h0M231.9 169.9h0M227.1 168.4h0M233.3 169.6h0M238.8 161.7h0M238.1 170.2h0M228.1 173.3h0M225.6 172.3h0M219.6 173.9h0M225.4 176.4h0M227.4 173.9h0M221.0 176.6h0M230.0 172.9h0M239.2 170.8h0M232.9 170.7h0M248.3 167.9h0M240.9 165.7h0M227.7 171.8h0M237.7 174.3h0M228.4 171.1h0M221.2 174.8h0M233.4 170.7h0M225.2 172.6h0M250.5 168.7h0M238.9 168.7h0M235.3 163.1h0M240.2 168.8h0M230.6 171.0h0M227.0 172.3h0M232.6 167.2h0M242.5 163.8h0M228.2 172.1h0M231.0 174.5h0M225.5 166.5h0M225.6 172.9h0M248.6 165.0h0M248.1 170.0h0M238.9 166.0h0M250.1 168.1h0M224.6 171.1h0M223.4 174.9h0M222.0 172.7h0M246.4 166.4h0M242.1 169.6h0M222.8 172.2h0M246.4 167.9h0M223.2 173.8h0M228.9 171.3h0M244.1 170.7h0M240.8 172.9h0M244.5 168.8h0M221.1 175.0h0M237.9 164.7h0M234.3 165.8h0M244.7 170.5h0M236.3 165.2h0M231.8 170.8h0M249.7 175.7h0M223.9 173.2h0M250.3 172.9h0M245.3 165.0h0M250.9 173.0h0M229.0 165.8h0M249.2 174.6h0M236.2 166.8h0M246.3 170.1h0M232.1 171.1h0M248.1 168.3h0M247.6 173.6h0M241.2 170.5h0M228.1 175.3h0M236.5 166.5h0M246.7 169.0h0M232.1 166.0h0M222.3 177.5h0M228.7 171.9h0M240.6 166.5h0M237.2 167.0h0M235.3 171.9h0M235.6 169.5h0M245.5 169.3h0M238.1 169.1h0M244.0 166.1h0M219.7 175.1h0M250.1 175.5h0M237.8 168.2h0M252.5 170.0h0M221.1 180.9h0M225.4 167.8h0M243.9 164.8h0M248.0 170.4h0M236.2 166.8h0M221.5 175.4h0M246.8 168.6h0M241.4 166.1h0M240.9 170.2h0M222.4 173.7h0M244.1 170.5h0M237.6 167.6h0M228.6 171.3h0M237.2 170.9h0M226.7 174.5h0M250.0 169.7h0M226.3 167.5h0M222.2 173.1h0M228.3 174.0h0M230.1 172.0h0M244.3 165.5h0M220.9 176.7h0M243.7 168.4h0M238.6 171.3h0M226.7 174.7h0M236.5 165.4h0M219.1 178.8h0M243.7 170.9h0M225.0 173.4h0M234.4 170.1h0M223.5 169.2h0M232.7 169.9h0M222.5 171.4h0M227.2 173.7h0M216.4 179.5h0M238.3 164.6h0M230.4 165.9h0" stroke="#c7852c" stroke-width="0.9" stroke-linecap="round" fill="none"/>
<path d="M268.9 190.1h0M264.1 208.0h0M252.6 189.2h0M262.9 196.9h0M263.0 196.1h0M255.0 193.3h0M267.9 188.8h0M260.9 195.0h0M267.5 191.2h0M270.0 196.9h0M263.7 193.8h0M258.3 188.1h0M266.6 195.0h0M267.0 199.6h0M257.0 195.8h0M258.2 184.2h0M267.9 195.7h0M262.7 202.3h0M255.5 201.9h0M259.2 197.2h0M262.6 190.2h0M253.6 201.3h0M259.6 197.4h0M259.4 196.5h0M261.0 194.7h0M267.0 204.8h0M256.3 191.7h0M264.4 193.1h0M261.7 199.7h0M262.1 189.1h0" stroke="#7f9c46" stroke-width="0.9" stroke-linecap="round" fill="none"/>
<path d="M247.0 178.9h0M250.7 194.1h0M246.7 186.0h0M255.7 180.9h0M248.8 182.2h0M255.6 185.9h0M253.3 189.8h0M249.4 181.6h0M261.4 184.9h0M248.9 177.5h0M250.7 181.9h0M240.4 200.2h0M256.9 193.0h0M251.8 195.9h0M250.0 192.3h0M241.2 186.4h0M248.6 164.6h0M239.2 181.6h0M268.2 174.3h0M233.2 197.0h0M241.1 195.0h0M249.6 206.5h0M249.9 198.7h0M248.5 190.6h0M250.2 189.6h0M262.8 205.9h0M250.3 187.9h0M251.7 200.1h0M256.5 190.9h0M235.8 213.2h0M263.2 195.0h0M253.0 203.6h0M265.0 191.2h0M252.9 188.3h0M267.6 186.6h0M246.3 200.7h0M255.7 190.2h0M257.7 193.2h0M250.0 193.8h0M255.3 192.5h0M254.5 191.9h0M255.0 181.0h0M265.4 200.5h0M253.0 196.3h0M266.5 195.2h0M238.8 194.3h0M232.4 188.6h0M263.2 179.6h0M236.4 186.9h0M253.7 209.5h0" stroke="#5a82b8" stroke-width="0.9" stroke-linecap="round" fill="none"/>
<path d="M219.2 186.6h0M216.6 189.0h0M215.0 182.4h0M224.4 193.0h0M220.6 187.9h0M221.6 188.2h0M220.4 189.8h0M218.6 186.4h0M221.6 186.7h0M225.8 195.1h0M217.4 190.5h0M222.4 190.4h0M213.3 188.4h0M216.9 187.6h0M228.1 192.3h0M211.9 189.8h0M223.4 187.3h0M218.3 186.1h0M219.8 194.1h0M230.7 192.1h0M219.3 194.9h0M217.4 192.3h0M215.5 201.0h0M214.7 190.8h0M226.1 195.5h0M225.9 195.3h0M218.7 192.0h0M222.6 191.3h0M222.7 189.3h0M214.8 193.6h0M219.5 196.0h0M227.4 190.2h0M226.3 193.3h0M220.5 182.7h0M216.6 187.5h0M215.8 183.4h0M210.7 187.1h0M220.3 193.2h0M211.9 180.5h0M228.1 191.6h0M218.1 193.1h0M213.5 186.7h0M222.4 192.1h0M222.6 188.7h0M225.5 185.5h0M219.1 189.1h0M208.9 180.5h0M216.9 192.0h0M224.0 197.6h0M212.8 185.0h0M210.4 181.5h0M212.7 186.6h0M214.6 188.9h0M225.0 190.0h0M216.5 188.4h0M217.6 187.8h0M215.4 188.5h0M216.0 190.0h0M219.3 193.5h0M221.1 191.9h0M218.1 187.0h0M221.2 186.5h0M220.4 196.3h0M215.4 190.7h0M221.4 190.0h0M223.5 188.8h0M212.9 189.3h0M220.7 191.0h0M222.7 186.0h0M214.7 195.0h0M217.2 192.8h0M220.5 182.0h0M216.0 199.4h0M219.4 192.4h0M212.6 186.6h0M213.5 186.2h0M219.1 186.2h0M212.2 189.3h0M221.2 187.9h0M215.3 191.5h0M217.9 193.6h0M221.6 188.9h0M223.2 183.2h0M214.2 187.9h0M222.8 193.8h0M221.0 186.6h0M218.2 196.5h0M221.8 194.4h0M219.1 184.4h0M216.8 193.7h0M215.0 193.0h0M220.8 182.8h0M218.9 187.1h0M217.7 194.7h0M212.1 180.5h0M217.0 189.0h0M219.8 190.0h0M214.5 186.9h0M228.3 194.2h0M222.4 191.8h0M219.6 183.3h0M220.8 199.9h0M210.4 188.8h0M212.6 189.8h0M220.0 189.1h0M212.9 184.9h0M224.6 189.9h0M218.3 191.1h0M215.9 187.3h0M211.6 195.0h0M219.8 191.9h0M215.9 184.0h0M221.9 188.2h0M218.7 184.9h0M228.8 192.0h0M220.0 193.1h0M213.4 188.1h0M212.6 183.7h0M222.4 195.0h0M220.6 186.0h0M218.1 191.9h0M216.7 187.1h0M219.4 192.6h0M215.7 181.9h0M216.0 187.6h0M217.5 189.8h0M223.6 190.6h0M220.3 187.0h0M218.1 191.1h0M213.2 191.2h0M214.6 186.6h0M221.0 192.2h0M218.9 186.6h0M227.3 191.5h0M218.7 189.3h0M219.1 188.1h0M215.9 184.0h0M213.3 190.1h0M226.1 192.2h0M219.2 188.3h0M216.8 196.0h0M219.3 191.4h0M223.2 179.0h0M221.5 189.8h0M218.9 189.6h0M221.5 192.4h0M226.0 189.8h0M220.4 193.3h0M215.9 187.4h0M221.3 190.8h0M218.1 189.9h0M230.7 191.3h0M213.7 188.2h0M210.3 183.8h0M209.7 191.0h0M222.1 189.3h0M208.4 180.9h0M213.7 199.2h0M211.6 186.7h0M222.3 192.5h0M216.8 186.2h0M223.0 189.7h0M211.2 183.8h0M215.8 193.9h0M217.6 181.8h0M216.8 191.8h0M214.2 185.4h0M212.6 188.0h0M218.6 186.8h0M219.1 191.2h0M215.4 187.7h0M221.3 188.8h0M211.1 188.8h0M218.1 190.5h0M219.3 195.5h0M212.0 194.8h0M220.7 192.6h0M214.4 187.8h0M217.9 190.6h0M210.9 186.3h0M209.5 194.5h0M215.4 185.3h0M216.0 190.6h0M222.8 193.0h0M210.5 184.8h0M219.5 189.8h0M222.1 188.1h0M217.0 180.4h0M218.0 191.3h0M219.2 185.9h0M218.3 188.9h0M214.2 185.4h0M219.3 191.8h0M227.3 188.1h0M217.0 191.8h0M216.2 191.4h0M209.8 193.0h0M222.8 190.8h0M212.5 185.4h0M214.8 193.4h0M216.1 189.2h0M221.2 188.4h0M215.5 179.1h0M222.2 196.1h0M219.2 185.6h0M220.7 188.6h0M209.2 184.7h0M213.1 190.6h0M211.3 187.2h0M217.8 182.4h0M218.7 186.3h0M213.8 181.6h0M218.4 186.5h0M217.7 188.5h0M225.0 190.1h0M218.7 194.5h0M216.2 193.0h0M220.6 181.9h0M225.2 190.5h0M213.1 186.1h0M219.2 190.1h0M228.0 185.1h0M219.9 187.2h0M216.4 186.4h0M214.9 194.2h0M219.2 189.0h0M219.8 183.2h0M217.7 186.6h0M214.0 192.9h0M219.3 191.6h0M215.7 188.4h0M218.3 191.3h0M219.0 191.0h0M214.9 189.7h0M220.3 191.5h0M217.1 189.4h0M218.1 190.0h0M218.3 186.9h0M216.1 188.6h0M213.4 177.4h0M218.0 187.2h0M219.4 191.6h0M219.9 188.4h0M219.1 182.3h0M220.9 186.1h0M214.8 189.6h0M215.5 184.2h0M217.1 184.4h0M221.9 185.6h0M217.9 193.0h0M219.6 198.3h0M223.0 191.6h0M212.8 189.5h0M224.0 194.4h0M221.0 192.2h0M217.8 190.2h0M220.1 189.5h0M224.2 187.4h0M224.1 188.5h0M213.7 186.1h0M214.6 186.6h0M221.2 194.7h0M221.9 179.5h0M223.7 187.7h0M220.2 194.5h0M223.3 197.4h0M218.7 185.1h0M214.2 195.2h0M216.8 189.1h0M216.1 184.6h0M225.2 196.5h0M219.2 191.8h0M215.1 187.3h0M216.0 192.0h0M224.1 188.5h0M210.6 189.6h0M227.7 188.0h0M226.7 192.8h0M219.7 183.1h0M217.5 182.8h0M221.3 198.9h0M219.4 186.4h0M215.6 187.5h0M219.1 194.8h0M218.9 189.5h0M213.8 183.7h0M219.4 188.8h0M217.6 190.6h0M225.6 187.6h0M221.5 193.7h0M216.1 183.0h0M212.8 187.7h0M218.9 190.5h0M221.5 194.0h0M224.4 197.5h0M218.3 189.6h0M214.4 182.9h0M218.3 184.6h0M224.5 187.9h0M226.0 188.6h0M217.8 193.0h0M220.3 195.1h0M214.6 190.6h0M216.6 190.2h0M212.2 183.5h0M217.1 190.3h0M213.7 183.7h0M210.3 184.0h0M225.8 188.9h0M209.7 180.6h0M213.4 185.4h0M219.6 192.8h0M216.1 190.6h0M218.1 191.4h0M223.2 193.6h0M210.9 189.3h0M216.8 179.3h0M220.4 188.6h0M212.8 179.4h0M220.7 190.8h0M221.4 190.3h0M227.4 189.2h0M218.8 189.4h0M225.7 196.4h0M215.9 192.8h0M215.4 191.3h0M211.3 179.5h0M222.9 192.1h0M216.7 181.5h0M215.9 185.8h0M221.8 190.6h0M209.4 182.9h0M213.2 184.4h0M212.8 191.6h0M223.6 189.8h0M215.0 184.0h0M218.3 197.7h0M222.8 192.3h0M223.8 188.3h0M216.1 190.0h0M213.2 192.1h0M215.8 183.0h0M222.7 189.2h0M217.1 194.0h0M225.0 188.4h0M223.9 184.9h0M225.0 191.9h0M218.7 195.1h0M220.4 182.5h0M220.1 193.1h0M223.2 196.9h0M216.8 183.5h0M211.3 184.7h0M215.7 188.8h0M226.1 189.5h0M212.6 187.2h0M219.4 192.1h0M224.9 193.1h0M219.9 186.6h0M220.2 193.6h0M216.9 195.1h0M218.6 192.1h0M211.0 191.0h0M218.0 186.9h0M219.5 190.3h0M215.2 182.8h0M220.4 192.5h0M219.4 188.3h0M217.5 181.2h0M216.2 185.3h0M217.8 179.7h0M212.5 185.0h0M210.0 180.7h0M225.2 190.2h0M216.1 188.4h0M213.7 187.8h0M216.2 184.1h0M218.7 191.7h0M227.0 187.8h0M227.4 190.4h0M224.9 193.7h0M228.9 196.3h0M225.3 202.8h0M231.3 196.0h0M234.8 197.6h0M234.1 197.8h0M225.3 196.5h0M232.2 196.2h0M233.0 195.6h0M223.5 192.3h0M222.8 187.9h0M236.1 196.5h0M232.7 188.0h0M230.7 191.3h0M230.3 196.1h0M232.9 190.0h0M232.8 197.2h0M228.8 188.8h0M221.6 186.5h0M220.0 196.3h0M219.9 190.0h0M228.5 191.1h0M229.3 197.9h0M224.8 195.7h0M231.9 193.0h0M231.6 192.9h0M227.9 196.8h0M226.2 192.5h0M229.6 197.3h0M222.4 197.6h0M228.1 194.0h0M233.4 189.5h0M223.2 188.7h0M227.9 195.1h0M220.6 195.1h0M221.8 194.1h0M236.6 197.7h0M227.3 197.0h0M230.7 183.9h0M223.7 196.2h0M229.8 189.1h0M229.3 194.9h0M226.8 193.3h0M235.8 196.3h0M231.2 186.5h0M225.6 196.5h0M228.4 192.5h0M223.1 194.6h0M226.7 186.9h0M238.7 192.6h0M219.1 187.4h0M224.5 191.4h0M223.4 192.8h0M233.8 189.1h0M232.2 196.5h0M222.2 187.6h0M230.6 197.2h0M230.7 195.7h0M224.3 195.9h0M222.5 195.6h0M231.2 196.1h0M233.2 195.8h0M232.0 194.0h0M234.9 193.2h0M234.0 190.7h0M222.2 194.2h0M227.1 191.4h0M223.8 196.6h0M229.3 196.9h0M225.5 194.8h0M222.9 190.7h0M230.9 196.5h0M227.9 198.1h0M224.0 198.8h0M226.7 192.8h0M223.1 198.8h0M223.0 198.9h0M233.6 186.0h0M266.8 189.6h0M261.3 196.0h0M262.4 188.1h0M264.4 193.9h0M253.5 192.4h0M263.7 195.9h0M263.0 185.3h0M258.6 186.3h0M259.1 189.6h0M262.2 180.6h0M265.4 185.5h0M260.0 195.6h0M264.2 189.0h0M258.3 194.9h0M264.9 177.6h0M260.5 194.8h0M266.8 185.3h0M263.1 187.3h0M250.3 191.0h0M269.2 182.1h0M262.5 192.8h0M263.2 193.3h0M262.2 184.3h0M258.6 185.4h0M255.5 177.6h0M262.5 179.6h0M262.7 185.3h0M261.2 189.8h0M259.7 178.6h0M260.6 184.6h0M268.6 193.1h0M255.3 173.4h0M255.8 189.8h0M252.8 192.2h0M260.4 193.8h0M263.1 179.4h0M259.9 187.3h0M267.7 184.0h0M259.0 186.8h0M258.1 189.5h0M263.8 192.1h0M257.6 194.0h0M276.1 195.8h0M262.4 185.2h0M254.2 189.2h0M272.2 189.7h0M263.9 185.5h0M256.2 202.5h0M260.2 197.2h0M262.1 185.4h0M257.6 186.9h0M262.9 183.5h0M261.5 184.6h0M257.6 181.0h0M275.2 176.9h0M265.4 176.3h0M257.2 192.5h0M254.7 191.3h0M269.3 184.5h0M265.8 193.1h0M251.5 183.0h0M259.8 192.3h0M259.7 177.0h0M255.2 186.4h0M262.3 189.0h0M256.3 189.4h0M261.3 179.0h0M255.5 201.2h0M264.9 183.4h0M264.8 180.9h0M270.5 190.0h0M250.6 183.3h0M260.7 186.8h0M256.0 192.8h0M262.7 196.2h0M263.0 196.3h0M269.8 186.8h0M263.4 192.6h0M264.3 185.4h0M273.7 194.4h0M264.5 177.6h0M256.5 184.8h0M256.3 175.9h0M265.1 191.0h0M259.1 185.9h0M267.6 192.3h0M271.1 184.7h0M260.1 191.8h0M271.3 185.0h0M260.3 184.4h0M267.7 194.5h0M257.0 193.6h0M265.9 195.1h0M259.6 185.7h0M264.6 189.8h0M257.1 191.4h0M265.1 184.5h0M264.1 194.1h0M262.1 186.7h0M256.9 185.7h0M258.5 179.2h0M266.8 189.4h0M263.7 187.5h0M268.9 174.2h0M269.8 182.9h0M257.5 180.6h0M257.7 185.1h0M265.9 180.4h0M266.0 182.6h0M262.0 196.0h0M262.4 208.6h0M262.5 210.2h0M264.1 215.5h0M266.6 218.6h0M267.2 216.1h0M263.3 211.3h0M262.8 210.6h0M263.1 213.5h0M263.2 212.2h0M263.3 215.0h0M266.0 219.5h0M262.6 211.8h0M267.9 222.9h0M262.1 210.6h0M266.2 218.1h0M263.4 215.6h0M268.3 218.0h0M264.1 212.3h0M267.5 223.5h0M265.7 220.7h0M262.5 208.2h0M262.2 211.1h0M266.5 221.8h0M262.7 211.7h0M267.5 220.5h0M267.2 216.9h0M265.4 219.2h0M269.2 224.8h0M265.7 212.6h0M261.6 210.0h0M265.3 215.9h0M263.4 208.0h0M264.2 215.0h0M265.2 213.5h0M263.7 212.5h0M267.6 221.6h0M265.7 212.4h0M267.4 222.5h0M267.1 221.9h0M267.7 223.9h0" stroke="#4b7497" stroke-width="0.9" stroke-linecap="round" fill="none"/>
<path d="M265.2 176.7h0M265.9 188.3h0M266.7 184.2h0M254.2 177.1h0M251.7 165.8h0M265.8 161.2h0M266.0 177.6h0M266.0 192.3h0M262.7 173.4h0M265.8 172.4h0M263.1 180.6h0M267.9 169.9h0M263.9 195.3h0M262.3 195.0h0M267.2 170.4h0M265.4 184.5h0M259.8 178.3h0M254.7 191.0h0M265.3 179.5h0M266.9 193.4h0M262.5 180.4h0M265.8 180.8h0M271.0 191.5h0M264.0 178.3h0M253.5 169.7h0M272.8 183.9h0M268.6 168.2h0M257.3 186.0h0M268.1 172.0h0M256.0 170.6h0M263.5 164.6h0M270.6 175.3h0M264.6 187.7h0M262.6 180.9h0M261.1 194.9h0M268.2 181.4h0M260.8 179.9h0M252.8 173.7h0M260.6 190.2h0M265.0 174.3h0M256.5 183.7h0M264.8 187.6h0M263.2 183.7h0M263.3 195.0h0M263.0 173.5h0M267.1 188.2h0M261.6 190.6h0M265.6 176.4h0M259.1 191.9h0M267.3 173.6h0M257.7 193.7h0M275.4 193.7h0M262.7 178.3h0M266.9 193.8h0M264.9 180.3h0M256.5 169.0h0M257.8 164.7h0M265.0 178.5h0M271.2 191.6h0M263.2 196.1h0M267.3 180.5h0M263.3 176.1h0M260.7 180.0h0M261.3 177.5h0M262.1 181.4h0M269.2 181.6h0M261.3 184.9h0M264.1 173.0h0M261.8 179.7h0M259.7 186.1h0M264.6 177.4h0M268.3 185.6h0M263.3 183.1h0M267.0 187.6h0M259.8 182.5h0M262.6 178.6h0M261.6 188.8h0M263.4 200.3h0M260.4 187.0h0M268.2 180.0h0M263.5 189.5h0M271.5 183.1h0M262.3 183.4h0M266.4 179.3h0M267.1 186.1h0M263.4 174.1h0M266.5 165.8h0M258.6 166.1h0M261.4 178.8h0M261.5 175.4h0M266.5 167.5h0M256.1 181.1h0M268.6 185.8h0M257.6 165.3h0M265.7 184.0h0M263.4 171.0h0M251.6 183.3h0M271.2 190.1h0M265.6 185.4h0M262.2 178.7h0M263.4 174.8h0M264.7 172.0h0M262.7 193.9h0M269.9 176.9h0M267.0 186.8h0M267.5 185.8h0M261.9 189.5h0M268.0 173.7h0M263.4 178.7h0M258.4 180.2h0M261.6 165.4h0M272.0 184.7h0M262.4 182.5h0M258.9 173.4h0M270.9 180.4h0M255.3 180.9h0M267.2 176.8h0M260.3 189.8h0M267.2 173.1h0M261.0 177.4h0M262.2 170.9h0M262.2 172.7h0M266.4 183.5h0M260.8 177.9h0M260.9 187.0h0M265.3 186.4h0M253.6 182.9h0M262.6 177.5h0M256.6 187.3h0M270.1 183.4h0M262.3 175.3h0M266.9 182.8h0M259.9 189.5h0M265.4 183.8h0M262.8 178.9h0M259.4 175.8h0M260.6 186.7h0M258.7 190.6h0M268.0 177.8h0M259.5 166.9h0M266.9 187.5h0M270.4 185.6h0M264.9 179.2h0M257.5 183.9h0M261.5 180.0h0M259.6 183.5h0M255.4 169.1h0M267.9 187.0h0M258.7 181.3h0M264.7 189.1h0M268.0 190.1h0M260.5 194.5h0M263.1 186.1h0M265.8 192.9h0M267.9 170.1h0M256.6 177.8h0M259.5 187.0h0M269.9 193.0h0M258.4 183.3h0M267.3 187.8h0M267.3 202.3h0M266.8 185.3h0M265.7 184.2h0M261.3 180.4h0M258.9 172.2h0M263.4 174.5h0M260.3 175.1h0M257.9 159.2h0M266.0 192.0h0M264.0 176.0h0M268.1 185.4h0M256.8 178.3h0M263.3 174.5h0M265.5 170.9h0M263.1 186.4h0M254.5 182.4h0M266.9 175.9h0M257.8 177.7h0M263.0 179.4h0M261.6 172.0h0M254.8 172.7h0M267.2 187.9h0M266.2 180.4h0M260.3 176.1h0M263.7 170.8h0M264.6 184.6h0M260.2 186.6h0M266.2 165.3h0M261.2 179.3h0M252.5 182.0h0" stroke="#5b86be" stroke-width="0.9" stroke-linecap="round" fill="none"/>
<path d="M271.8 173.8h0M274.5 164.8h0M272.3 172.6h0M264.5 196.9h0M279.5 150.9h0M264.3 196.3h0M274.5 166.4h0M269.6 179.5h0M266.4 191.2h0M266.1 192.5h0M265.3 192.5h0M265.3 192.9h0M266.6 189.5h0M270.1 180.1h0M267.5 186.6h0M266.7 191.8h0M270.4 181.5h0M272.6 169.4h0M277.6 155.2h0M267.8 187.5h0M266.1 191.7h0M275.3 165.8h0M272.5 174.3h0M274.3 164.9h0M272.9 170.9h0M267.9 187.2h0M271.5 176.3h0M276.4 162.0h0M266.5 191.9h0M278.2 155.5h0M276.1 160.0h0M277.4 156.8h0M278.9 151.8h0M276.2 160.6h0M278.1 155.0h0M276.9 157.8h0M271.2 177.7h0M275.6 161.1h0M269.8 180.8h0M275.3 162.1h0M277.8 154.6h0M279.5 150.6h0M270.1 179.1h0M276.0 161.1h0M276.7 160.0h0M274.6 164.8h0M268.5 186.9h0M268.3 182.9h0M266.6 191.7h0M270.6 177.4h0M263.9 196.8h0M266.8 188.8h0M270.1 175.8h0M273.5 165.4h0M265.9 193.4h0M271.5 175.3h0M275.4 164.3h0M265.1 192.1h0M271.2 177.4h0M273.3 171.6h0M269.0 186.5h0M268.3 188.1h0M265.7 191.6h0M277.1 157.5h0M274.1 164.5h0M272.3 171.6h0M270.8 176.3h0M267.1 191.1h0M278.6 152.1h0M270.4 177.6h0M264.9 196.3h0M275.6 161.8h0M277.6 156.3h0M276.3 162.3h0M268.4 185.7h0M278.2 153.8h0M267.5 186.5h0M265.7 195.3h0M264.8 195.2h0M271.9 173.9h0M271.9 174.6h0M275.3 162.8h0M265.3 196.0h0M268.4 184.9h0M268.3 184.5h0M275.6 165.1h0M276.5 162.1h0M275.5 163.0h0M265.7 192.6h0M273.5 168.4h0M276.6 158.7h0M279.1 150.8h0M270.7 178.5h0M268.5 185.0h0M274.2 169.9h0M272.3 173.9h0M278.0 155.6h0M266.0 191.7h0M275.5 161.4h0M274.3 166.0h0M267.5 186.8h0M274.7 165.1h0M278.8 155.8h0M265.7 193.4h0M270.1 177.6h0M277.2 157.4h0M272.2 175.7h0M271.7 177.1h0M275.1 162.1h0M273.8 166.8h0M275.4 165.2h0M270.6 178.7h0M279.0 151.0h0M267.0 191.1h0M269.7 181.7h0M274.6 166.7h0M265.9 194.0h0M274.7 162.3h0M272.1 171.6h0M271.8 174.7h0M279.5 151.0h0M270.9 176.8h0M264.9 196.0h0M264.6 193.2h0M276.4 158.4h0M277.4 158.4h0M278.0 157.4h0M275.5 164.7h0M268.1 186.4h0M269.1 183.3h0M274.9 163.9h0M278.6 152.0h0M265.2 190.8h0M264.4 196.3h0M267.2 192.2h0M279.6 152.8h0M274.2 167.8h0M269.2 182.4h0M267.4 188.6h0M274.5 165.9h0M266.2 190.3h0M279.3 151.2h0M266.5 190.9h0M272.1 173.8h0M273.5 167.2h0M265.6 193.7h0M273.5 170.0h0M277.7 154.5h0M273.5 169.4h0M266.7 189.3h0M271.0 177.2h0M276.7 161.1h0M275.1 163.4h0M274.4 164.6h0M277.5 156.5h0M265.1 196.0h0M275.1 165.9h0M276.9 162.2h0M266.6 191.5h0M272.2 171.4h0M271.7 175.7h0M274.5 168.4h0M268.7 182.7h0M272.8 172.5h0M272.3 172.0h0M275.0 162.6h0M273.6 167.7h0M274.7 166.0h0M270.3 181.3h0M278.1 156.5h0M258.9 206.9h0M260.3 207.7h0M259.5 201.4h0M260.1 209.3h0M259.9 208.1h0M260.1 207.1h0M260.3 202.6h0M254.6 204.2h0M260.3 207.2h0M258.5 204.3h0M256.9 205.6h0M259.8 207.4h0M258.8 208.3h0M257.6 207.5h0M257.4 208.2h0M261.1 204.0h0M260.2 203.7h0M262.9 209.3h0M259.3 206.4h0M259.0 204.5h0M256.8 204.6h0M261.2 207.1h0M261.5 208.7h0M260.2 203.9h0M257.0 204.0h0M254.5 200.5h0M259.2 208.7h0M263.7 207.5h0M261.1 207.0h0M257.2 207.0h0M259.0 206.9h0M255.2 203.5h0M261.1 205.8h0M259.1 207.5h0M262.2 209.7h0M259.4 204.4h0M261.1 204.8h0M256.5 202.9h0M259.0 203.9h0M257.4 207.2h0M256.7 202.0h0M259.2 207.1h0M258.0 203.0h0M264.2 206.4h0M264.7 205.9h0M261.8 203.8h0M262.6 208.0h0M259.7 204.6h0M262.5 209.9h0M259.3 206.2h0M257.8 206.8h0M258.6 206.7h0M255.1 205.3h0M261.3 206.9h0M262.5 205.2h0M261.7 206.9h0M259.4 206.9h0M262.1 202.8h0M259.4 205.6h0M260.9 206.4h0M258.3 206.0h0M261.0 204.9h0M259.6 205.7h0M258.0 205.4h0M263.4 206.2h0M260.5 207.4h0M261.8 205.9h0M256.7 206.6h0M255.0 204.9h0M261.3 207.9h0M259.4 205.4h0M258.2 207.4h0M255.8 201.9h0M258.1 205.0h0M260.3 205.5h0M259.4 204.6h0M261.5 208.4h0M255.7 207.0h0M259.9 206.2h0M261.0 207.4h0M259.6 206.9h0M255.5 205.4h0M259.5 203.4h0M258.1 206.6h0M258.3 203.2h0M258.7 204.3h0M259.4 208.5h0M263.5 207.2h0M260.2 203.9h0M260.7 207.4h0M257.9 206.9h0M257.9 205.6h0M259.8 206.1h0M259.9 207.0h0M258.0 205.8h0M260.7 208.5h0M257.4 204.2h0M258.3 202.5h0M260.1 210.3h0M258.0 204.6h0M258.3 205.3h0M257.4 209.4h0M257.1 206.5h0M261.2 206.8h0M262.2 203.0h0M253.1 205.1h0M260.0 205.7h0M259.7 204.2h0M257.1 203.3h0M259.2 207.1h0M263.2 206.5h0M255.7 206.6h0M258.4 203.2h0M260.6 202.0h0M256.5 208.9h0M258.1 206.4h0M261.9 203.9h0M259.5 208.4h0M261.0 209.5h0M264.4 212.1h0M260.6 204.8h0M261.0 204.8h0M255.4 201.2h0M259.2 205.6h0M258.0 207.8h0M258.9 203.9h0M259.1 205.6h0M260.4 206.0h0M261.1 205.4h0M258.9 206.9h0M257.5 205.6h0M259.5 208.1h0M254.0 206.8h0M258.4 205.6h0M262.1 207.9h0M256.2 204.0h0M260.7 205.6h0M259.9 207.9h0M263.3 205.6h0M255.8 202.9h0M258.2 207.6h0M259.7 208.7h0M259.6 202.8h0M260.0 204.5h0M259.8 202.3h0M260.8 203.9h0M258.3 207.4h0M258.7 203.5h0M262.2 206.0h0M261.2 206.2h0M255.4 204.0h0M260.0 205.6h0M262.6 203.1h0M257.6 206.6h0M261.5 208.4h0M257.2 205.8h0M260.2 210.1h0M263.7 208.3h0M260.5 207.9h0M258.9 206.3h0M259.9 206.3h0M260.6 206.2h0M258.0 207.8h0M261.1 204.7h0M260.4 204.2h0M259.8 204.4h0M257.9 206.2h0M257.3 206.8h0M262.5 206.3h0M257.6 206.1h0M268.2 221.7h0M270.0 225.6h0M261.5 208.6h0M264.0 213.5h0M263.7 213.3h0M262.5 211.5h0M265.4 216.8h0M269.4 227.3h0M261.3 208.2h0M262.8 211.4h0M269.5 226.8h0M270.4 227.3h0M261.2 208.0h0M268.2 223.5h0M268.8 223.6h0M263.9 215.5h0M266.3 219.3h0M266.7 218.3h0M263.8 214.0h0M269.3 226.8h0M269.5 227.5h0M261.6 207.2h0M264.9 217.2h0M266.9 220.2h0M267.0 219.2h0M265.7 217.0h0M264.4 215.7h0M266.7 219.7h0M269.6 226.5h0M260.9 207.3h0M261.9 209.3h0M260.8 207.7h0M269.6 225.3h0M269.9 226.6h0M264.5 212.7h0M268.7 225.8h0M268.3 223.2h0M260.4 207.7h0M262.1 209.3h0M262.1 209.4h0M269.9 227.0h0M268.6 224.8h0M262.4 210.7h0M263.7 212.3h0M268.3 223.9h0M260.7 208.9h0M261.0 208.5h0M262.7 212.8h0M263.2 211.9h0M266.3 219.3h0M264.4 215.7h0M266.2 217.2h0M266.1 219.6h0M269.6 226.2h0M265.6 218.1h0M267.8 222.7h0M269.7 227.4h0M268.0 222.9h0M268.4 224.4h0M266.1 219.3h0M259.6 181.1h0M252.5 174.6h0M268.9 181.0h0M269.9 185.1h0M262.1 195.6h0M266.1 183.4h0M274.3 177.0h0M258.6 186.8h0M265.1 168.2h0M263.5 184.1h0M260.1 188.6h0M252.6 190.8h0M271.3 208.6h0M257.5 195.9h0M260.5 170.6h0M265.1 178.6h0M261.7 178.2h0M268.0 184.8h0M267.7 188.8h0M267.8 187.0h0M258.1 193.1h0M263.0 187.1h0M266.0 187.8h0M261.2 180.7h0M259.7 183.5h0M269.5 177.7h0M266.8 203.5h0M256.8 187.1h0M267.1 184.2h0M261.9 193.7h0M264.5 188.8h0M258.6 198.6h0M276.8 183.7h0M267.7 181.2h0M272.5 190.7h0M266.6 185.5h0M259.5 188.7h0M267.4 168.6h0M265.9 168.3h0M274.3 187.7h0M268.1 179.0h0M276.0 190.2h0M265.9 184.9h0M260.3 182.9h0M263.3 174.7h0M271.7 171.1h0M267.7 198.9h0M266.7 190.0h0M262.7 176.4h0M275.6 172.2h0M267.7 175.6h0M268.5 192.8h0M272.2 186.7h0M265.5 183.4h0M265.4 185.8h0M270.1 184.6h0M264.1 208.8h0M258.3 187.7h0M280.0 173.7h0M273.7 188.5h0M271.5 193.1h0M256.6 195.6h0M263.3 171.8h0M268.1 176.4h0M264.2 189.4h0M256.5 194.2h0M269.8 187.6h0M270.7 185.6h0M274.2 182.3h0M266.5 193.3h0M282.8 163.2h0M281.6 179.0h0M281.3 163.6h0M282.7 166.6h0M283.9 168.5h0M278.5 165.0h0M280.5 168.1h0M282.5 172.6h0M283.4 167.4h0M281.3 174.4h0M282.8 177.1h0M279.8 173.3h0M282.7 175.2h0M281.6 173.6h0M279.5 166.2h0" stroke="#e4412e" stroke-width="0.9" stroke-linecap="round" fill="none"/>
<line x1="206.90" y1="148.70" x2="231.00" y2="142.00" stroke="#444" stroke-width="0.7"/>
<line x1="231.00" y1="142.00" x2="313.30" y2="144.50" stroke="#444" stroke-width="0.7"/>
<line x1="206.90" y1="226.60" x2="231.00" y2="233.30" stroke="#444" stroke-width="0.7"/>
<line x1="231.00" y1="233.30" x2="313.30" y2="231.40" stroke="#444" stroke-width="0.7"/>
<line x1="206.90" y1="148.70" x2="206.90" y2="226.60" stroke="#444" stroke-width="0.7"/>
<line x1="231.00" y1="142.00" x2="231.00" y2="233.30" stroke="#444" stroke-width="0.7"/>
<line x1="313.30" y1="144.50" x2="313.30" y2="231.40" stroke="#444" stroke-width="0.7"/>
<line x1="205.00" y1="151.60" x2="207.00" y2="151.60" stroke="#333" stroke-width="0.6"/>
<text x="204.00" y="153.90" font-size="6.6" text-anchor="end" fill="#333" stroke="#333" stroke-width="0.146">0.4</text>
<line x1="205.00" y1="172.50" x2="207.00" y2="172.50" stroke="#333" stroke-width="0.6"/>
<text x="204.00" y="174.80" font-size="6.6" text-anchor="end" fill="#333" stroke="#333" stroke-width="0.146">0.2</text>
<line x1="205.00" y1="192.40" x2="207.00" y2="192.40" stroke="#333" stroke-width="0.6"/>
<text x="204.00" y="194.70" font-size="6.6" text-anchor="end" fill="#333" stroke="#333" stroke-width="0.146">0</text>
<line x1="205.00" y1="213.40" x2="207.00" y2="213.40" stroke="#333" stroke-width="0.6"/>
<text x="204.00" y="215.70" font-size="6.6" text-anchor="end" fill="#333" stroke="#333" stroke-width="0.146">−0.2</text>
<text transform="translate(191.30,180.60) rotate(-90)" font-size="7.7" text-anchor="middle" fill="#1a1a1a" stroke="#1a1a1a" stroke-width="0.184">PCoA3 (4.7%)</text>
<line x1="237.30" y1="233.70" x2="237.30" y2="235.40" stroke="#333" stroke-width="0.6"/>
<text x="237.30" y="240.20" font-size="6.6" text-anchor="middle" fill="#222" stroke="#222" stroke-width="0.146">−0.4</text>
<line x1="258.00" y1="232.80" x2="258.00" y2="234.50" stroke="#333" stroke-width="0.6"/>
<text x="258.00" y="239.30" font-size="6.6" text-anchor="middle" fill="#222" stroke="#222" stroke-width="0.146">−0.2</text>
<line x1="272.50" y1="232.10" x2="272.50" y2="233.80" stroke="#333" stroke-width="0.6"/>
<text x="272.50" y="238.60" font-size="6.6" text-anchor="middle" fill="#222" stroke="#222" stroke-width="0.146">0</text>
<line x1="293.40" y1="231.30" x2="293.40" y2="233.00" stroke="#333" stroke-width="0.6"/>
<text x="293.40" y="237.80" font-size="6.6" text-anchor="middle" fill="#222" stroke="#222" stroke-width="0.146">0.2</text>
<line x1="310.80" y1="230.80" x2="310.80" y2="232.50" stroke="#333" stroke-width="0.6"/>
<text x="310.80" y="237.30" font-size="6.6" text-anchor="middle" fill="#222" stroke="#222" stroke-width="0.146">0.4</text>
<text x="250.00" y="249.80" font-size="8.0" fill="#1a1a1a" stroke="#1a1a1a" stroke-width="0.195">PCoA1 (11.6%)</text>
<text transform="translate(185.00,235.00) rotate(19)" font-size="8.0" fill="#1a1a1a" stroke="#1a1a1a" stroke-width="0.195">PCoA2 (6.5%)</text>
<text transform="translate(200.40,231.20) rotate(19)" font-size="6.3" fill="#222" stroke="#222" stroke-width="0.136">0.2</text>
<text transform="translate(209.80,234.60) rotate(19)" font-size="6.3" fill="#222" stroke="#222" stroke-width="0.136">0</text>
<text transform="translate(213.60,237.80) rotate(19)" font-size="6.3" fill="#222" stroke="#222" stroke-width="0.136">−0.4</text>
<text x="2.00" y="261.60" font-size="8.5" font-weight="bold" fill="#111" stroke="#111" stroke-width="0.214">e</text>
<text x="34.80" y="261.30" font-size="8.4" fill="#1a1a1a" stroke="#1a1a1a" stroke-width="0.210">Total ARGs</text>
<path d="M39.6 296.8 L42.5 297.5 L45.4 298.3 L48.3 298.9 L51.2 299.6 L54.1 300.2 L57.0 300.7 L59.9 301.2 L62.8 301.7 L65.7 302.1 L68.7 302.5 L71.6 302.9 L74.5 303.2 L77.4 303.5 L80.3 303.7 L83.2 304.0 L86.1 304.1 L89.0 304.2 L91.9 304.3 L94.8 304.4 L97.7 304.4 L100.6 304.3 L103.5 304.2 L106.4 304.0 L109.3 303.8 L112.2 303.5 L115.1 303.1 L118.0 302.6 L120.9 302.0 L123.8 301.4 L126.8 300.8 L129.7 300.0 L132.6 299.2 L135.5 298.3 L138.4 297.3 L141.3 296.3 L144.2 295.2 L147.1 294.0 L150.0 292.8 L152.9 291.5 L155.8 290.1 L155.8 335.6 L152.9 335.2 L150.0 334.8 L147.1 334.4 L144.2 334.0 L141.3 333.7 L138.4 333.4 L135.5 333.1 L132.6 332.8 L129.7 332.6 L126.8 332.3 L123.8 332.1 L120.9 331.9 L118.0 331.8 L115.1 331.6 L112.2 331.5 L109.3 331.4 L106.4 331.3 L103.5 331.3 L100.6 331.2 L97.7 331.2 L94.8 331.2 L91.9 331.3 L89.0 331.4 L86.1 331.6 L83.2 331.9 L80.3 332.2 L77.4 332.5 L74.5 333.0 L71.6 333.4 L68.7 334.0 L65.7 334.6 L62.8 335.2 L59.9 335.9 L57.0 336.7 L54.1 337.5 L51.2 338.4 L48.3 339.3 L45.4 340.3 L42.5 341.4 L39.6 342.5Z" fill="#cccccc"/>
<line x1="39.60" y1="319.50" x2="155.80" y2="312.60" stroke="#8a8a8a" stroke-width="0.7" stroke-dasharray="14.3 14.3" stroke-dashoffset="6.7"/>
<circle cx="39.60" cy="305.40" r="1.35" fill="#111"/>
<circle cx="48.50" cy="301.10" r="1.35" fill="#111"/>
<circle cx="57.70" cy="333.00" r="1.35" fill="#111"/>
<circle cx="75.60" cy="300.80" r="1.35" fill="#111"/>
<circle cx="84.30" cy="324.10" r="1.35" fill="#111"/>
<circle cx="93.30" cy="330.70" r="1.35" fill="#111"/>
<circle cx="102.20" cy="331.80" r="1.35" fill="#111"/>
<circle cx="110.90" cy="339.70" r="1.35" fill="#111"/>
<circle cx="120.10" cy="299.00" r="1.35" fill="#111"/>
<circle cx="129.00" cy="342.70" r="1.35" fill="#111"/>
<circle cx="138.00" cy="319.50" r="1.35" fill="#111"/>
<circle cx="146.70" cy="315.40" r="1.35" fill="#111"/>
<circle cx="155.60" cy="267.90" r="1.35" fill="#111"/>
<circle cx="66.40" cy="318.50" r="1.00" fill="#555"/>
<rect x="34.20" y="264.10" width="127.30" height="81.90" fill="none" stroke="#222" stroke-width="0.9"/>
<line x1="32.40" y1="269.00" x2="34.20" y2="269.00" stroke="#333" stroke-width="0.6"/>
<text x="31.80" y="271.30" font-size="6.6" text-anchor="end" fill="#222" stroke="#222" stroke-width="0.146">0.21</text>
<line x1="32.40" y1="288.10" x2="34.20" y2="288.10" stroke="#333" stroke-width="0.6"/>
<text x="31.80" y="290.40" font-size="6.6" text-anchor="end" fill="#222" stroke="#222" stroke-width="0.146">0.18</text>
<line x1="32.40" y1="305.80" x2="34.20" y2="305.80" stroke="#333" stroke-width="0.6"/>
<text x="31.80" y="308.10" font-size="6.6" text-anchor="end" fill="#222" stroke="#222" stroke-width="0.146">0.15</text>
<line x1="32.40" y1="324.60" x2="34.20" y2="324.60" stroke="#333" stroke-width="0.6"/>
<text x="31.80" y="326.90" font-size="6.6" text-anchor="end" fill="#222" stroke="#222" stroke-width="0.146">0.12</text>
<line x1="32.40" y1="343.20" x2="34.20" y2="343.20" stroke="#333" stroke-width="0.6"/>
<text x="31.80" y="345.50" font-size="6.6" text-anchor="end" fill="#222" stroke="#222" stroke-width="0.146">0.09</text>
<line x1="58.30" y1="346.00" x2="58.30" y2="347.80" stroke="#333" stroke-width="0.6"/>
<text x="58.30" y="353.60" font-size="6.6" text-anchor="middle" fill="#222" stroke="#222" stroke-width="0.146">2010</text>
<line x1="84.61" y1="346.00" x2="84.61" y2="347.80" stroke="#333" stroke-width="0.6"/>
<text x="84.61" y="353.60" font-size="6.6" text-anchor="middle" fill="#222" stroke="#222" stroke-width="0.146">2013</text>
<line x1="110.92" y1="346.00" x2="110.92" y2="347.80" stroke="#333" stroke-width="0.6"/>
<text x="110.92" y="353.60" font-size="6.6" text-anchor="middle" fill="#222" stroke="#222" stroke-width="0.146">2016</text>
<line x1="137.23" y1="346.00" x2="137.23" y2="347.80" stroke="#333" stroke-width="0.6"/>
<text x="137.23" y="353.60" font-size="6.6" text-anchor="middle" fill="#222" stroke="#222" stroke-width="0.146">2019</text>
<text x="97.90" y="359.00" font-size="6.8" text-anchor="middle" fill="#222" stroke="#222" stroke-width="0.153">Year</text>
<text x="36.8" y="272.6" font-size="6.5" fill="#1a1a1a" stroke="#1a1a1a" stroke-width="0.2"><tspan font-style="italic">p</tspan> &gt; 0.05 r = 0.08</text>
<text transform="translate(8.80,305.00) rotate(-90)" font-size="7.9" text-anchor="middle" fill="#1a1a1a" stroke="#1a1a1a" stroke-width="0.191">ARGs copy number</text>
<text transform="translate(17.80,305.00) rotate(-90)" font-size="7.9" text-anchor="middle" fill="#1a1a1a" stroke="#1a1a1a" stroke-width="0.191">(copies / cell)</text>
<text x="174.30" y="261.40" font-size="8.5" font-weight="bold" fill="#111" stroke="#111" stroke-width="0.214">f</text>
<text x="195.00" y="261.30" font-size="8.2" fill="#1a1a1a" stroke="#1a1a1a" stroke-width="0.202">High risk ARGs (Rank I)</text>
<path d="M201 324.4 C240 305 280 289 319.2 269 L319.2 290.5 C280 304 240 325 201 343.8Z" fill="#cccccc"/>
<line x1="201.00" y1="333.70" x2="319.20" y2="279.10" stroke="#e8473d" stroke-width="0.9"/>
<circle cx="201.00" cy="323.90" r="1.60" fill="#111"/>
<circle cx="209.90" cy="322.70" r="1.60" fill="#111"/>
<circle cx="219.20" cy="323.40" r="1.60" fill="#111"/>
<circle cx="228.40" cy="319.70" r="1.60" fill="#111"/>
<circle cx="237.50" cy="317.40" r="1.60" fill="#111"/>
<circle cx="246.60" cy="322.00" r="1.60" fill="#111"/>
<circle cx="255.40" cy="316.00" r="1.60" fill="#111"/>
<circle cx="264.60" cy="323.00" r="1.60" fill="#111"/>
<circle cx="273.40" cy="309.90" r="1.60" fill="#111"/>
<circle cx="282.80" cy="294.20" r="1.60" fill="#111"/>
<circle cx="291.70" cy="289.30" r="1.60" fill="#111"/>
<circle cx="300.80" cy="279.10" r="1.60" fill="#111"/>
<circle cx="309.90" cy="268.30" r="1.60" fill="#111"/>
<circle cx="319.20" cy="280.00" r="1.60" fill="#111"/>
<rect x="195.20" y="264.80" width="130.80" height="82.90" fill="none" stroke="#222" stroke-width="0.9"/>
<line x1="193.40" y1="279.50" x2="195.20" y2="279.50" stroke="#333" stroke-width="0.6"/>
<text x="193.00" y="281.80" font-size="6.8" text-anchor="end" fill="#222" stroke="#222" stroke-width="0.153">5.0</text>
<line x1="193.40" y1="301.70" x2="195.20" y2="301.70" stroke="#333" stroke-width="0.6"/>
<text x="193.00" y="304.00" font-size="6.8" text-anchor="end" fill="#222" stroke="#222" stroke-width="0.153">2.5</text>
<line x1="193.40" y1="324.40" x2="195.20" y2="324.40" stroke="#333" stroke-width="0.6"/>
<text x="193.00" y="326.70" font-size="6.8" text-anchor="end" fill="#222" stroke="#222" stroke-width="0.153">0</text>
<line x1="193.40" y1="346.60" x2="195.20" y2="346.60" stroke="#333" stroke-width="0.6"/>
<line x1="218.50" y1="347.70" x2="218.50" y2="349.50" stroke="#333" stroke-width="0.6"/>
<text x="218.50" y="355.20" font-size="6.6" text-anchor="middle" fill="#222" stroke="#222" stroke-width="0.146">2010</text>
<line x1="247.70" y1="347.70" x2="247.70" y2="349.50" stroke="#333" stroke-width="0.6"/>
<text x="247.70" y="355.20" font-size="6.6" text-anchor="middle" fill="#222" stroke="#222" stroke-width="0.146">2013</text>
<line x1="274.60" y1="347.70" x2="274.60" y2="349.50" stroke="#333" stroke-width="0.6"/>
<text x="274.60" y="355.20" font-size="6.6" text-anchor="middle" fill="#222" stroke="#222" stroke-width="0.146">2016</text>
<line x1="301.00" y1="347.70" x2="301.00" y2="349.50" stroke="#333" stroke-width="0.6"/>
<text x="301.00" y="355.20" font-size="6.6" text-anchor="middle" fill="#222" stroke="#222" stroke-width="0.146">2019</text>
<text x="260.60" y="360.00" font-size="6.8" text-anchor="middle" fill="#222" stroke="#222" stroke-width="0.153">Year</text>
<text x="273.4" y="346.0" font-size="6.3" fill="#1a1a1a" stroke="#1a1a1a" stroke-width="0.2"><tspan font-style="italic">p</tspan>  &lt; 0.001 r = 0.89</text>
<text transform="translate(173.00,312.80) rotate(-90)" font-size="8.1" text-anchor="middle" fill="#1a1a1a" stroke="#1a1a1a" stroke-width="0.199">ARGs copy number</text>
<text transform="translate(182.20,310.00) rotate(-90)" font-size="8.1" text-anchor="middle" fill="#1a1a1a" stroke="#1a1a1a" stroke-width="0.199">(copies / 1000 cells)</text>
<rect x="195.30" y="264.30" width="62.30" height="39.40" fill="#ffffff" stroke="#222" stroke-width="0.9"/>
<path d="M197.7 290 C215 284 235 277 254.9 268.4 L254.9 278.4 C235 286 215 294 197.7 301.7Z" fill="#cccccc"/>
<line x1="197.70" y1="296.50" x2="254.90" y2="272.50" stroke="#e8473d" stroke-width="0.8"/>
<circle cx="198.30" cy="290.60" r="0.75" fill="#222"/>
<circle cx="202.30" cy="291.20" r="0.75" fill="#222"/>
<circle cx="206.80" cy="289.80" r="0.75" fill="#222"/>
<circle cx="211.10" cy="289.80" r="0.75" fill="#222"/>
<circle cx="215.40" cy="289.40" r="0.75" fill="#222"/>
<circle cx="220.10" cy="291.20" r="0.75" fill="#222"/>
<circle cx="224.30" cy="294.90" r="0.75" fill="#222"/>
<circle cx="228.60" cy="292.60" r="0.75" fill="#222"/>
<circle cx="233.30" cy="283.00" r="0.75" fill="#222"/>
<circle cx="237.40" cy="276.60" r="0.75" fill="#222"/>
<circle cx="241.80" cy="279.30" r="0.75" fill="#222"/>
<circle cx="246.50" cy="270.40" r="0.75" fill="#222"/>
<circle cx="250.60" cy="276.60" r="0.75" fill="#222"/>
<circle cx="255.10" cy="266.40" r="0.75" fill="#222"/>
<rect x="195.30" y="264.30" width="62.30" height="39.40" fill="none" stroke="#222" stroke-width="0.9"/>
<text x="197.1" y="271.0" font-size="6.4" fill="#1a1a1a" stroke="#1a1a1a" stroke-width="0.2"><tspan font-style="italic">p</tspan>&lt; 0.001 <tspan font-style="italic">r</tspan> = 0.83</text>
<text x="206.10" y="308.30" font-size="4.5" text-anchor="middle" fill="#333" stroke="#333" stroke-width="0.082">2010</text>
<text x="219.90" y="308.30" font-size="4.5" text-anchor="middle" fill="#333" stroke="#333" stroke-width="0.082">2013</text>
<text x="233.30" y="308.30" font-size="4.5" text-anchor="middle" fill="#333" stroke="#333" stroke-width="0.082">2016</text>
<text x="247.00" y="308.30" font-size="4.5" text-anchor="middle" fill="#333" stroke="#333" stroke-width="0.082">2019</text>
<text x="226.00" y="311.60" font-size="4.6" text-anchor="middle" fill="#333" stroke="#333" stroke-width="0.085">Year</text>
<text transform="translate(259.70,273.00) rotate(90)" font-size="2.9" text-anchor="middle" fill="#444" stroke="#444" stroke-width="0.043">600</text>
<line x1="257.60" y1="273.00" x2="258.80" y2="273.00" stroke="#555" stroke-width="0.4"/>
<text transform="translate(259.70,282.50) rotate(90)" font-size="2.9" text-anchor="middle" fill="#444" stroke="#444" stroke-width="0.043">400</text>
<line x1="257.60" y1="282.50" x2="258.80" y2="282.50" stroke="#555" stroke-width="0.4"/>
<text transform="translate(259.70,291.40) rotate(90)" font-size="2.9" text-anchor="middle" fill="#444" stroke="#444" stroke-width="0.043">200</text>
<line x1="257.60" y1="291.40" x2="258.80" y2="291.40" stroke="#555" stroke-width="0.4"/>
<text transform="translate(259.70,300.40) rotate(90)" font-size="2.9" text-anchor="middle" fill="#444" stroke="#444" stroke-width="0.043">0</text>
<line x1="257.60" y1="300.40" x2="258.80" y2="300.40" stroke="#555" stroke-width="0.4"/>
<text transform="translate(264.00,284.40) rotate(90)" font-size="4.3" text-anchor="middle" fill="#333" stroke="#333" stroke-width="0.077">frequency (%)</text>
<text transform="translate(269.60,284.40) rotate(90)" font-size="4.3" text-anchor="middle" fill="#333" stroke="#333" stroke-width="0.077">Occurrence</text>
<g class="pg"><text x="2.00" y="371.60" font-size="8.5" font-weight="bold" fill="#111" stroke="#111" stroke-width="0.075">g</text>
<linearGradient id="tg1" gradientUnits="userSpaceOnUse" x1="64.0" y1="387.6" x2="86.7" y2="386.6"><stop offset="0" stop-color="#b5453d" stop-opacity="0.15"/><stop offset="0.45" stop-color="#b5453d" stop-opacity="1"/></linearGradient><polygon points="64.0,387.7 64.8,387.8 65.6,387.8 66.4,387.8 67.2,387.8 68.0,387.8 68.8,387.8 69.6,387.8 70.4,387.8 71.2,387.8 72.0,387.8 72.8,387.9 73.6,387.9 74.4,387.9 75.2,387.9 76.0,387.9 76.8,387.9 77.7,387.9 78.5,387.9 79.3,387.9 80.1,387.9 80.9,387.9 81.8,387.9 82.6,387.9 83.4,387.9 84.3,387.9 85.1,387.9 85.9,387.9 86.8,387.9 86.6,385.3 85.8,385.4 85.0,385.5 84.1,385.6 83.3,385.6 82.5,385.7 81.7,385.8 80.8,385.9 80.0,386.0 79.2,386.0 78.4,386.1 77.6,386.2 76.8,386.3 76.0,386.3 75.1,386.4 74.3,386.5 73.5,386.6 72.7,386.7 71.9,386.7 71.1,386.8 70.3,386.9 69.5,387.0 68.7,387.0 67.9,387.1 67.1,387.2 66.4,387.2 65.6,387.3 64.8,387.4 64.0,387.5" fill="url(#tg1)"/>
<linearGradient id="tg2" gradientUnits="userSpaceOnUse" x1="62.2" y1="399.9" x2="85.8" y2="398.9"><stop offset="0" stop-color="#3b5b77" stop-opacity="0.15"/><stop offset="0.45" stop-color="#3b5b77" stop-opacity="1"/></linearGradient><polygon points="62.2,400.0 63.1,400.1 63.9,400.1 64.7,400.1 65.6,400.1 66.4,400.1 67.3,400.1 68.1,400.1 69.0,400.1 69.8,400.1 70.7,400.1 71.5,400.1 72.3,400.1 73.2,400.1 74.0,400.1 74.9,400.1 75.7,400.1 76.6,400.1 77.4,400.1 78.3,400.1 79.1,400.1 79.9,400.1 80.8,400.1 81.6,400.1 82.5,400.1 83.3,400.1 84.2,400.1 85.0,400.1 85.9,400.1 85.7,397.7 84.9,397.8 84.1,397.8 83.2,397.9 82.4,398.0 81.5,398.1 80.7,398.1 79.9,398.2 79.0,398.3 78.2,398.4 77.3,398.4 76.5,398.5 75.7,398.6 74.8,398.7 74.0,398.7 73.1,398.8 72.3,398.9 71.4,398.9 70.6,399.0 69.8,399.1 68.9,399.2 68.1,399.2 67.2,399.3 66.4,399.4 65.6,399.5 64.7,399.5 63.9,399.6 63.0,399.7 62.2,399.8" fill="url(#tg2)"/>
<text x="92.00" y="389.40" font-size="6.0" fill="#222" stroke="#222" stroke-width="0.045">Rank I ARGs</text>
<text x="92.00" y="401.20" font-size="6.0" fill="#222" stroke="#222" stroke-width="0.045">Total ARGs</text>
<polygon points="10.1,419.5 12.2,422.5 20.3,423.5 26.5,425.6 29.0,428.7 27.2,433.5 26.0,435.3 29.5,435.6 30.5,433.0 30.2,436.8 34.6,436.8 35.7,430.7 37.7,427.6 48.9,427.9 53.0,427.0 55.0,429.2 52.0,434.8 56.1,435.4 59.2,430.9 62.0,432.0 62.6,437.3 66.3,437.3 66.6,431.7 67.5,424.0 67.3,416.4 66.3,410.3 65.0,408.2 66.8,406.2 67.8,407.2 66.4,405.4 63.5,407.0 58.1,405.3 47.9,405.4 38.7,407.8 26.8,408.3 26.5,404.4 22.4,405.7 20.8,408.4 19.3,407.0 17.3,407.5 17.8,412.3 15.2,414.3 10.6,418.0" fill="#5a9794"/>
<text x="26.30" y="448.20" font-size="5.85" fill="#222" stroke="#222" stroke-width="0.043">Swine feces</text>
<polygon points="1.2,477.9 1.8,479.6 5.3,479.0 9.3,477.3 12.8,475.5 16.4,477.3 19.3,480.8 21.0,484.9 23.4,487.8 26.3,490.1 26.9,495.4 27.1,504.1 27.6,505.9 29.2,505.9 29.2,503.5 29.8,497.7 30.6,498.3 30.9,504.1 31.8,505.6 33.6,505.6 33.5,502.4 33.9,493.0 38.5,490.7 46.7,491.3 50.2,493.0 52.6,494.8 55.5,495.6 58.4,494.8 61.3,493.0 62.5,495.4 61.9,504.1 61.3,505.3 63.6,505.9 64.8,502.4 66.6,496.5 67.7,496.5 68.9,501.2 70.1,504.1 70.7,505.3 73.0,504.7 71.8,501.2 71.5,493.0 72.6,488.4 73.6,489.5 74.5,490.1 73.9,484.9 73.6,475.5 73.0,470.8 70.1,467.3 65.4,465.0 58.4,464.1 50.2,464.8 35.0,465.2 23.4,465.6 14.0,465.6 10.5,464.4 9.3,462.9 8.2,463.1 6.4,465.0 4.7,466.8 4.1,469.7 3.5,473.2 2.3,475.5" fill="#5a9794"/>
<text x="27.20" y="512.80" font-size="5.85" fill="#222" stroke="#222" stroke-width="0.043">Cattle feces</text>
<polygon points="29.9,531.0 31.4,529.6 32.9,529.0 34.4,529.8 35.9,530.3 35.9,532.1 37.3,534.4 45.5,542.9 49.9,542.9 50.0,537.5 51.0,533.5 53.0,531.0 56.6,530.2 61.0,531.2 59.8,532.6 63.8,535.6 62.5,537.0 64.7,541.0 65.5,544.0 62.5,546.2 63.3,548.4 59.6,549.9 58.8,552.1 56.6,553.6 53.6,557.3 48.4,559.6 47.7,564.7 50.7,566.4 46.5,566.6 42.5,568.6 40.0,567.6 44.0,565.6 44.7,561.0 41.0,558.1 35.1,552.1 32.1,546.2 31.4,540.0 29.6,537.6 29.9,535.2 28.4,534.4 29.9,533.2" fill="#5a9794"/>
<text x="27.00" y="574.60" font-size="5.85" fill="#222" stroke="#222" stroke-width="0.043">Chicken feces</text>
<ellipse cx="248.7" cy="380.6" rx="3.9" ry="4.6" fill="#5a9794"/>
<polygon points="246.6,384.5 246.7,386.3 243.0,387.6 239.5,389.0 237.9,391.5 237.0,398.0 236.3,404.0 235.8,412.1 236.2,416.0 237.4,418.8 239.4,419.9 239.2,416.5 239.9,413.4 240.1,406.0 240.6,401.0 241.7,399.0 242.0,404.0 241.9,410.5 241.6,418.5 241.0,430.1 242.0,443.0 239.3,450.8 239.5,452.6 244.2,453.0 246.0,444.3 247.3,430.1 248.0,420.0 249.4,420.0 250.1,430.1 251.4,444.3 253.2,453.0 258.0,452.6 258.1,450.8 255.4,443.0 256.4,430.1 255.8,418.5 255.5,410.5 255.4,404.0 255.7,399.0 256.8,401.0 257.3,406.0 257.5,413.4 258.2,416.5 258.0,419.9 260.0,418.8 261.2,416.0 261.6,412.1 261.1,404.0 260.4,398.0 259.5,391.5 257.9,389.0 254.4,387.6 250.7,386.3 250.8,384.5" fill="#5a9794"/>
<line x1="248.70" y1="386.00" x2="248.70" y2="396.50" stroke="#d98a80" stroke-width="0.8"/>
<path d="M244.6 397.5C245.2 396.8 247.2 396.2 248.5 396.2C249.8 396.2 251.9 396.7 252.4 397.4C252.9 398.1 252.3 399.9 251.5 400.6C250.7 401.3 248.7 401.5 247.5 401.4C246.3 401.3 245.1 400.8 244.6 400.2C244.1 399.6 243.9 398.2 244.6 397.5Z" fill="#e8968a"/>
<rect x="244.60" y="401.60" width="8.60" height="6.80" rx="1.6" fill="#eda090"/>
<rect x="248.00" y="407.80" width="1.60" height="2.20" fill="#eda090"/>
<text x="271.80" y="401.20" font-size="5.85" fill="#222" stroke="#222" stroke-width="0.043">Human feces</text>
<defs><linearGradient id="cropg" x1="0" x2="1" y1="0" y2="0"><stop offset="0" stop-color="#bfc9a3"/><stop offset="0.55" stop-color="#8fa86e"/><stop offset="1" stop-color="#6f8f56"/></linearGradient></defs>
<path d="M281.2 445.3C280.7 443.7 281.8 441.0 282.7 439.8C283.6 438.6 285.8 439.4 286.7 438.2C287.6 437.0 286.4 433.8 288.2 432.7C290.0 431.6 295.1 432.1 297.7 431.5C300.3 430.9 301.8 429.3 304.0 429.1C306.2 428.9 309.7 428.8 311.1 430.3C312.6 431.8 312.6 436.0 312.7 438.2C312.8 440.4 312.9 441.6 311.9 443.7C310.8 445.8 308.1 449.4 306.4 450.8C304.7 452.2 303.8 452.4 301.7 452.4C299.6 452.4 296.4 451.3 293.8 450.8C291.2 450.3 288.0 450.1 285.9 449.2C283.8 448.3 281.7 446.9 281.2 445.3Z" fill="url(#cropg)"/>
<polygon points="311.0,446.6 316.0,446.6 321.0,448.2 325.0,450.8 327.0,453.6 322.0,452.4 317.0,450.8 312.0,449.2" fill="#8aa66c"/>
<line x1="311.50" y1="447.80" x2="326.50" y2="453.40" stroke="#6f8f55" stroke-width="0.45"/>
<line x1="311.50" y1="447.80" x2="324.00" y2="451.20" stroke="#6f8f55" stroke-width="0.45"/>
<line x1="311.50" y1="447.80" x2="322.50" y2="453.60" stroke="#6f8f55" stroke-width="0.45"/>
<line x1="311.50" y1="447.80" x2="319.00" y2="449.40" stroke="#6f8f55" stroke-width="0.45"/>
<line x1="311.50" y1="447.80" x2="318.50" y2="452.00" stroke="#6f8f55" stroke-width="0.45"/>
<line x1="287.00" y1="440.00" x2="300.00" y2="441.50" stroke="#6f8d55" stroke-width="0.4"/>
<line x1="290.00" y1="445.00" x2="305.00" y2="446.00" stroke="#6f8d55" stroke-width="0.4"/>
<line x1="296.00" y1="436.00" x2="309.00" y2="437.00" stroke="#6f8d55" stroke-width="0.4"/>
<line x1="299.00" y1="442.00" x2="310.00" y2="444.00" stroke="#6f8d55" stroke-width="0.4"/>
<line x1="311.50" y1="431.50" x2="314.50" y2="428.00" stroke="#5d7a44" stroke-width="0.6"/>
<path d="M303.6 437.2C303.9 435.9 306.3 433.4 307.6 432.6C308.9 431.8 310.8 431.3 311.6 432.4C312.4 433.5 312.6 437.4 312.2 439.0C311.8 440.6 310.5 441.8 309.4 442.0C308.3 442.2 306.6 441.0 305.6 440.2C304.6 439.4 303.3 438.5 303.6 437.2Z" fill="#7a67a6"/>
<circle cx="309.50" cy="447.70" r="2.40" fill="#d3903a"/>
<text x="292.40" y="459.70" font-size="5.85" fill="#222" stroke="#222" stroke-width="0.043">Crop</text>
<defs><clipPath id="domec"><rect x="110" y="370" width="100" height="60"/></clipPath><clipPath id="domei"><path d="M121.4 430 L121.4 418.3 A38.2 38.2 0 0 1 197.8 418.3 L197.8 430Z"/></clipPath></defs>
<circle cx="159.6" cy="418.3" r="38.2" fill="#dedede" clip-path="url(#domec)"/>
<g clip-path="url(#domei)">
<path d="M118.0 430.0C104.2 426.7 117.0 414.6 118.0 410.0C119.0 405.4 121.8 404.4 124.0 402.5C126.2 400.6 128.6 398.8 131.2 398.4C133.8 398.0 136.5 399.0 139.5 400.3C142.5 401.6 146.1 405.6 149.1 406.1C152.1 406.6 154.7 404.0 157.5 403.5C160.3 403.0 163.1 402.5 165.9 403.0C168.7 403.5 171.5 405.7 174.3 406.3C177.2 406.9 180.4 406.5 183.0 406.6C185.6 406.7 187.5 406.8 189.8 407.0C192.1 407.2 194.7 407.7 196.6 407.9C198.5 408.1 200.3 404.3 201.0 408.0C201.7 411.7 214.8 426.3 201.0 430.0C187.2 433.7 131.8 433.3 118.0 430.0Z" fill="#857c7c"/>
<path d="M124.0 429.5C119.4 428.0 125.5 423.0 126.5 420.5C127.5 418.0 128.8 416.0 130.0 414.5C131.2 413.0 132.6 411.8 134.0 411.3C135.4 410.8 137.1 411.1 138.5 411.6C139.9 412.1 141.1 413.2 142.5 414.5C143.9 415.8 145.6 417.8 147.0 419.5C148.4 421.2 149.8 422.8 151.0 424.5C152.2 426.2 158.5 428.7 154.0 429.5C149.5 430.3 128.6 431.0 124.0 429.5Z" fill="#3d3636"/>
<path d="M155.0 409.0C154.8 408.2 157.3 407.1 158.7 406.4C160.1 405.7 161.3 404.2 163.5 404.6C165.7 405.1 170.8 408.0 171.9 409.1C173.0 410.2 172.0 410.7 170.0 411.0C168.0 411.3 162.5 411.3 160.0 411.0C157.5 410.7 155.2 409.8 155.0 409.0Z" fill="#3a3333"/>
<path d="M171.5 429.0C167.6 428.0 171.7 425.1 173.1 423.5C174.5 421.9 178.0 420.3 180.0 419.5C182.0 418.7 182.8 418.4 185.0 418.7C187.2 419.0 191.5 419.9 193.4 421.1C195.3 422.3 196.1 424.6 196.6 426.0C197.1 427.4 200.8 429.0 196.6 429.5C192.4 430.0 175.4 430.0 171.5 429.0Z" fill="#3a3535"/>
<rect x="154.50" y="410.90" width="21.60" height="12.00" fill="#e4e4e4"/>
<rect x="154.50" y="422.40" width="21.60" height="2.30" fill="#5a8ccc"/>
<rect x="177.30" y="406.10" width="11.30" height="17.40" fill="#5b8fd0"/>
<rect x="178.80" y="407.80" width="3.20" height="3.00" fill="#3d5f9a"/>
<rect x="183.30" y="407.80" width="3.00" height="3.00" fill="#3d5f9a"/>
<rect x="121.60" y="427.20" width="76.00" height="2.60" fill="#2a2525"/>
<path d="M142.8 425.3h0M139.4 416.5h0M141.8 404.4h0M131.6 417.3h0M141.1 420.1h0M144.5 402.5h0M123.2 426.5h0M136.6 412.4h0M129.0 419.5h0M129.6 425.4h0M124.9 423.2h0M152.7 407.6h0M147.0 423.3h0M138.6 424.3h0M150.8 413.6h0M130.6 403.3h0M141.7 423.3h0M125.5 411.2h0M131.0 416.4h0" stroke="#8fb0d8" stroke-width="0.6" stroke-linecap="square" fill="none" opacity="0.8"/>
<path d="M122.9 413.6h0M145.4 412.0h0M151.3 421.7h0M153.1 401.1h0M152.7 405.5h0M150.0 417.9h0M131.6 410.8h0M123.5 405.9h0M127.7 403.1h0M139.1 412.0h0M125.4 412.7h0M123.9 412.4h0M136.5 428.0h0M131.3 411.9h0M152.6 410.2h0M126.5 427.5h0M145.1 401.7h0M140.8 417.8h0M153.6 427.5h0M143.2 402.9h0M142.6 411.0h0M134.0 412.7h0M134.3 424.1h0M137.4 416.1h0M151.9 422.1h0M134.5 424.0h0M148.0 402.8h0M123.6 423.7h0M144.6 412.8h0M141.5 412.2h0M145.8 424.7h0" stroke="#d8cf7a" stroke-width="0.6" stroke-linecap="square" fill="none" opacity="0.8"/>
<path d="M151.9 408.1h0M122.6 422.3h0M145.9 422.5h0M128.7 414.8h0M124.9 419.5h0M145.7 410.3h0M144.0 409.6h0M133.6 422.2h0M144.2 418.9h0M133.6 420.0h0M148.7 408.2h0M146.8 409.8h0M136.8 423.1h0M138.5 426.3h0M142.0 421.9h0M123.7 404.6h0M132.9 416.7h0M141.1 408.0h0M137.9 412.2h0M152.2 409.3h0M137.7 423.8h0M122.5 404.4h0M139.1 410.1h0M145.4 401.7h0M144.2 425.0h0M144.8 404.6h0M137.7 410.5h0M151.3 404.7h0M129.5 423.5h0M186.9 425.0h0M177.8 426.8h0M196.2 420.4h0M187.4 425.8h0M195.8 423.1h0M196.2 422.6h0M188.4 426.5h0M184.3 424.8h0M182.8 426.1h0M193.2 425.9h0M195.4 422.6h0M182.1 426.9h0M176.7 427.0h0M179.4 425.3h0M195.7 425.6h0M177.1 425.4h0M186.4 427.2h0M189.5 426.9h0M192.6 420.2h0M188.6 427.5h0M187.0 425.0h0M194.7 428.0h0M193.2 422.2h0M187.3 426.2h0M192.8 427.7h0M181.8 426.2h0" stroke="#bdbdbd" stroke-width="0.6" stroke-linecap="square" fill="none" opacity="0.8"/>
<path d="M141.9 421.0h0M133.9 424.4h0M146.4 402.9h0M131.3 427.0h0M152.1 419.6h0M131.9 423.1h0M144.3 406.0h0M152.4 410.7h0M134.0 423.7h0M125.8 407.6h0M133.0 410.6h0M130.0 413.5h0M151.4 410.2h0M145.1 409.4h0M127.2 402.3h0M153.3 418.2h0M132.7 406.6h0M152.4 418.0h0M153.2 413.2h0M125.6 423.2h0M152.7 417.9h0M149.8 405.9h0M130.7 422.1h0M140.6 401.3h0M133.1 418.4h0M133.2 423.8h0M153.2 426.8h0M148.8 426.3h0M131.1 403.1h0M127.5 422.1h0M153.0 414.0h0M123.1 413.6h0M133.2 426.7h0M149.7 419.6h0M134.0 402.0h0M131.6 409.0h0M148.2 412.3h0M127.0 411.3h0M152.6 427.1h0M134.2 409.8h0M139.3 409.8h0M137.8 413.9h0M126.6 401.6h0M131.4 417.4h0M133.6 421.1h0M126.2 401.1h0M136.6 425.7h0M128.1 412.6h0M141.0 419.6h0M149.5 423.7h0M131.7 401.1h0M140.6 418.5h0M151.1 404.9h0M139.2 412.5h0M143.2 401.7h0M153.3 428.0h0M124.2 406.8h0M122.3 403.5h0M126.8 418.0h0M131.3 426.4h0M141.9 408.1h0M194.1 423.4h0M179.8 427.0h0M194.1 423.8h0M181.0 427.6h0M191.7 420.2h0M193.2 420.7h0M183.4 425.3h0M195.5 425.5h0M183.9 427.0h0M189.6 426.3h0M179.9 425.2h0M194.7 423.6h0M176.0 426.1h0M179.2 425.1h0M194.3 426.9h0M179.2 425.4h0M176.7 427.6h0M190.4 425.2h0M193.8 420.8h0M189.8 424.7h0M190.3 421.1h0M181.9 427.1h0M195.8 425.0h0M191.3 421.8h0M177.3 427.2h0M179.6 424.6h0M194.9 423.7h0M181.4 425.9h0M179.8 426.3h0M179.9 425.3h0M189.1 423.3h0M186.2 426.5h0M195.2 422.1h0M178.9 426.2h0" stroke="#5a5252" stroke-width="0.6" stroke-linecap="square" fill="none" opacity="0.8"/>
</g>
<text x="150.90" y="393.30" font-size="5.6" fill="#222" stroke="#222" stroke-width="0.040">Landfill</text>
<linearGradient id="tg3" gradientUnits="userSpaceOnUse" x1="153.4" y1="433.1" x2="153.4" y2="452.0"><stop offset="0" stop-color="#b5453d" stop-opacity="0.15"/><stop offset="0.45" stop-color="#b5453d" stop-opacity="1"/></linearGradient><polygon points="153.1,433.1 153.0,433.7 153.0,434.4 153.0,435.0 153.0,435.7 152.9,436.3 152.9,437.0 152.9,437.6 152.9,438.3 152.8,438.9 152.8,439.6 152.8,440.3 152.7,440.9 152.7,441.6 152.7,442.3 152.7,443.0 152.7,443.6 152.6,444.3 152.6,445.0 152.6,445.7 152.6,446.4 152.5,447.1 152.5,447.8 152.5,448.5 152.5,449.2 152.4,449.9 152.4,450.6 152.4,451.3 152.3,452.0 154.5,452.0 154.4,451.3 154.4,450.6 154.4,449.9 154.3,449.2 154.3,448.5 154.3,447.8 154.3,447.1 154.3,446.4 154.2,445.7 154.2,445.0 154.2,444.3 154.2,443.6 154.1,443.0 154.1,442.3 154.1,441.6 154.0,440.9 154.0,440.3 154.0,439.6 154.0,438.9 154.0,438.3 153.9,437.6 153.9,437.0 153.9,436.3 153.8,435.7 153.8,435.0 153.8,434.4 153.8,433.7 153.8,433.1" fill="url(#tg3)"/>
<linearGradient id="tg4" gradientUnits="userSpaceOnUse" x1="166.4" y1="434.1" x2="166.7" y2="453.5"><stop offset="0" stop-color="#3b5b77" stop-opacity="0.15"/><stop offset="0.45" stop-color="#3b5b77" stop-opacity="1"/></linearGradient><polygon points="166.1,434.1 166.0,434.7 166.0,435.4 166.0,436.0 166.0,436.7 165.9,437.3 165.9,438.0 165.9,438.7 165.9,439.3 165.9,440.0 165.8,440.7 165.8,441.3 165.8,442.0 165.8,442.7 165.8,443.4 165.7,444.1 165.7,444.8 165.7,445.5 165.7,446.2 165.7,446.9 165.6,447.6 165.6,448.4 165.6,449.1 165.6,449.8 165.6,450.6 165.5,451.3 165.5,452.0 165.5,452.8 165.5,453.5 167.9,453.5 167.9,452.7 167.8,452.0 167.8,451.2 167.7,450.5 167.7,449.8 167.6,449.1 167.6,448.3 167.6,447.6 167.5,446.9 167.5,446.2 167.4,445.5 167.4,444.8 167.3,444.1 167.3,443.4 167.3,442.7 167.2,442.0 167.2,441.3 167.1,440.7 167.1,440.0 167.1,439.3 167.0,438.6 167.0,438.0 166.9,437.3 166.9,436.7 166.9,436.0 166.8,435.4 166.8,434.7 166.7,434.1" fill="url(#tg4)"/>
<text x="133.70" y="445.30" font-size="5.75" fill="#c0524b" stroke="#c0524b" stroke-width="0.042">25.2%</text>
<text x="168.90" y="445.30" font-size="5.75" fill="#506f89" stroke="#506f89" stroke-width="0.042">77.5%</text>
<polygon points="115.1,473.9 160.4,487.8 160.4,512.6 115.1,498.7" fill="#93594f"/>
<polygon points="115.1,488.0 120.0,489.8 125.0,490.6 130.0,490.0 135.0,490.4 140.0,492.4 145.0,494.2 150.0,495.4 155.0,498.2 160.4,501.0 160.4,512.6 115.1,498.7" fill="#a6766c"/>
<polygon points="160.4,487.8 202.7,473.9 202.7,499.5 160.4,512.6" fill="#74463f"/>
<polygon points="160.4,500.5 166.0,498.4 172.0,497.6 178.0,495.0 184.0,493.4 190.0,491.6 196.0,490.6 202.7,489.0 202.7,499.5 160.4,512.6" fill="#8a5b53"/>
<polygon points="115.1,473.9 160.4,487.8 202.7,473.9 202.7,475.7 160.4,489.8 115.1,475.7" fill="#6e302b"/>
<polygon points="115.1,473.9 158.2,462.2 202.7,473.9 160.4,487.8" fill="#90aa5d"/>
<line x1="137.00" y1="468.00" x2="181.00" y2="481.50" stroke="#a3b878" stroke-width="0.7"/>
<line x1="180.50" y1="468.00" x2="137.50" y2="481.00" stroke="#a3b878" stroke-width="0.7"/>
<line x1="128.50" y1="456.50" x2="128.50" y2="474.00" stroke="#c49240" stroke-width="0.5"/>
<ellipse cx="127.95" cy="453.40" rx="0.75" ry="0.95" fill="#cf9a45"/>
<ellipse cx="129.05" cy="453.40" rx="0.75" ry="0.95" fill="#cf9a45"/>
<ellipse cx="127.95" cy="454.85" rx="0.75" ry="0.95" fill="#cf9a45"/>
<ellipse cx="129.05" cy="454.85" rx="0.75" ry="0.95" fill="#cf9a45"/>
<ellipse cx="127.95" cy="456.30" rx="0.75" ry="0.95" fill="#cf9a45"/>
<ellipse cx="129.05" cy="456.30" rx="0.75" ry="0.95" fill="#cf9a45"/>
<ellipse cx="127.95" cy="457.75" rx="0.75" ry="0.95" fill="#cf9a45"/>
<ellipse cx="129.05" cy="457.75" rx="0.75" ry="0.95" fill="#cf9a45"/>
<ellipse cx="127.95" cy="459.20" rx="0.75" ry="0.95" fill="#cf9a45"/>
<ellipse cx="129.05" cy="459.20" rx="0.75" ry="0.95" fill="#cf9a45"/>
<line x1="128.50" y1="451.30" x2="128.50" y2="453.00" stroke="#cf9a45" stroke-width="0.5"/>
<line x1="133.80" y1="459.00" x2="133.80" y2="475.50" stroke="#c49240" stroke-width="0.5"/>
<ellipse cx="133.25" cy="455.90" rx="0.75" ry="0.95" fill="#cf9a45"/>
<ellipse cx="134.35" cy="455.90" rx="0.75" ry="0.95" fill="#cf9a45"/>
<ellipse cx="133.25" cy="457.35" rx="0.75" ry="0.95" fill="#cf9a45"/>
<ellipse cx="134.35" cy="457.35" rx="0.75" ry="0.95" fill="#cf9a45"/>
<ellipse cx="133.25" cy="458.80" rx="0.75" ry="0.95" fill="#cf9a45"/>
<ellipse cx="134.35" cy="458.80" rx="0.75" ry="0.95" fill="#cf9a45"/>
<ellipse cx="133.25" cy="460.25" rx="0.75" ry="0.95" fill="#cf9a45"/>
<ellipse cx="134.35" cy="460.25" rx="0.75" ry="0.95" fill="#cf9a45"/>
<ellipse cx="133.25" cy="461.70" rx="0.75" ry="0.95" fill="#cf9a45"/>
<ellipse cx="134.35" cy="461.70" rx="0.75" ry="0.95" fill="#cf9a45"/>
<line x1="133.80" y1="453.80" x2="133.80" y2="455.50" stroke="#cf9a45" stroke-width="0.5"/>
<line x1="138.50" y1="455.00" x2="138.50" y2="475.50" stroke="#c49240" stroke-width="0.5"/>
<ellipse cx="137.95" cy="451.90" rx="0.75" ry="0.95" fill="#cf9a45"/>
<ellipse cx="139.05" cy="451.90" rx="0.75" ry="0.95" fill="#cf9a45"/>
<ellipse cx="137.95" cy="453.35" rx="0.75" ry="0.95" fill="#cf9a45"/>
<ellipse cx="139.05" cy="453.35" rx="0.75" ry="0.95" fill="#cf9a45"/>
<ellipse cx="137.95" cy="454.80" rx="0.75" ry="0.95" fill="#cf9a45"/>
<ellipse cx="139.05" cy="454.80" rx="0.75" ry="0.95" fill="#cf9a45"/>
<ellipse cx="137.95" cy="456.25" rx="0.75" ry="0.95" fill="#cf9a45"/>
<ellipse cx="139.05" cy="456.25" rx="0.75" ry="0.95" fill="#cf9a45"/>
<ellipse cx="137.95" cy="457.70" rx="0.75" ry="0.95" fill="#cf9a45"/>
<ellipse cx="139.05" cy="457.70" rx="0.75" ry="0.95" fill="#cf9a45"/>
<line x1="138.50" y1="449.80" x2="138.50" y2="451.50" stroke="#cf9a45" stroke-width="0.5"/>
<line x1="141.50" y1="460.00" x2="141.50" y2="477.00" stroke="#c49240" stroke-width="0.5"/>
<ellipse cx="140.95" cy="456.90" rx="0.75" ry="0.95" fill="#cf9a45"/>
<ellipse cx="142.05" cy="456.90" rx="0.75" ry="0.95" fill="#cf9a45"/>
<ellipse cx="140.95" cy="458.35" rx="0.75" ry="0.95" fill="#cf9a45"/>
<ellipse cx="142.05" cy="458.35" rx="0.75" ry="0.95" fill="#cf9a45"/>
<ellipse cx="140.95" cy="459.80" rx="0.75" ry="0.95" fill="#cf9a45"/>
<ellipse cx="142.05" cy="459.80" rx="0.75" ry="0.95" fill="#cf9a45"/>
<ellipse cx="140.95" cy="461.25" rx="0.75" ry="0.95" fill="#cf9a45"/>
<ellipse cx="142.05" cy="461.25" rx="0.75" ry="0.95" fill="#cf9a45"/>
<ellipse cx="140.95" cy="462.70" rx="0.75" ry="0.95" fill="#cf9a45"/>
<ellipse cx="142.05" cy="462.70" rx="0.75" ry="0.95" fill="#cf9a45"/>
<line x1="141.50" y1="454.80" x2="141.50" y2="456.50" stroke="#cf9a45" stroke-width="0.5"/>
<line x1="143.50" y1="454.50" x2="143.50" y2="477.00" stroke="#c49240" stroke-width="0.5"/>
<ellipse cx="142.95" cy="451.40" rx="0.75" ry="0.95" fill="#cf9a45"/>
<ellipse cx="144.05" cy="451.40" rx="0.75" ry="0.95" fill="#cf9a45"/>
<ellipse cx="142.95" cy="452.85" rx="0.75" ry="0.95" fill="#cf9a45"/>
<ellipse cx="144.05" cy="452.85" rx="0.75" ry="0.95" fill="#cf9a45"/>
<ellipse cx="142.95" cy="454.30" rx="0.75" ry="0.95" fill="#cf9a45"/>
<ellipse cx="144.05" cy="454.30" rx="0.75" ry="0.95" fill="#cf9a45"/>
<ellipse cx="142.95" cy="455.75" rx="0.75" ry="0.95" fill="#cf9a45"/>
<ellipse cx="144.05" cy="455.75" rx="0.75" ry="0.95" fill="#cf9a45"/>
<ellipse cx="142.95" cy="457.20" rx="0.75" ry="0.95" fill="#cf9a45"/>
<ellipse cx="144.05" cy="457.20" rx="0.75" ry="0.95" fill="#cf9a45"/>
<line x1="143.50" y1="449.30" x2="143.50" y2="451.00" stroke="#cf9a45" stroke-width="0.5"/>
<line x1="145.80" y1="456.00" x2="145.80" y2="477.50" stroke="#c49240" stroke-width="0.5"/>
<ellipse cx="145.25" cy="452.90" rx="0.75" ry="0.95" fill="#cf9a45"/>
<ellipse cx="146.35" cy="452.90" rx="0.75" ry="0.95" fill="#cf9a45"/>
<ellipse cx="145.25" cy="454.35" rx="0.75" ry="0.95" fill="#cf9a45"/>
<ellipse cx="146.35" cy="454.35" rx="0.75" ry="0.95" fill="#cf9a45"/>
<ellipse cx="145.25" cy="455.80" rx="0.75" ry="0.95" fill="#cf9a45"/>
<ellipse cx="146.35" cy="455.80" rx="0.75" ry="0.95" fill="#cf9a45"/>
<ellipse cx="145.25" cy="457.25" rx="0.75" ry="0.95" fill="#cf9a45"/>
<ellipse cx="146.35" cy="457.25" rx="0.75" ry="0.95" fill="#cf9a45"/>
<ellipse cx="145.25" cy="458.70" rx="0.75" ry="0.95" fill="#cf9a45"/>
<ellipse cx="146.35" cy="458.70" rx="0.75" ry="0.95" fill="#cf9a45"/>
<line x1="145.80" y1="450.80" x2="145.80" y2="452.50" stroke="#cf9a45" stroke-width="0.5"/>
<line x1="148.50" y1="459.00" x2="148.50" y2="478.00" stroke="#c49240" stroke-width="0.5"/>
<ellipse cx="147.95" cy="455.90" rx="0.75" ry="0.95" fill="#cf9a45"/>
<ellipse cx="149.05" cy="455.90" rx="0.75" ry="0.95" fill="#cf9a45"/>
<ellipse cx="147.95" cy="457.35" rx="0.75" ry="0.95" fill="#cf9a45"/>
<ellipse cx="149.05" cy="457.35" rx="0.75" ry="0.95" fill="#cf9a45"/>
<ellipse cx="147.95" cy="458.80" rx="0.75" ry="0.95" fill="#cf9a45"/>
<ellipse cx="149.05" cy="458.80" rx="0.75" ry="0.95" fill="#cf9a45"/>
<ellipse cx="147.95" cy="460.25" rx="0.75" ry="0.95" fill="#cf9a45"/>
<ellipse cx="149.05" cy="460.25" rx="0.75" ry="0.95" fill="#cf9a45"/>
<ellipse cx="147.95" cy="461.70" rx="0.75" ry="0.95" fill="#cf9a45"/>
<ellipse cx="149.05" cy="461.70" rx="0.75" ry="0.95" fill="#cf9a45"/>
<line x1="148.50" y1="453.80" x2="148.50" y2="455.50" stroke="#cf9a45" stroke-width="0.5"/>
<line x1="151.80" y1="462.00" x2="151.80" y2="478.00" stroke="#c49240" stroke-width="0.5"/>
<ellipse cx="151.25" cy="458.90" rx="0.75" ry="0.95" fill="#cf9a45"/>
<ellipse cx="152.35" cy="458.90" rx="0.75" ry="0.95" fill="#cf9a45"/>
<ellipse cx="151.25" cy="460.35" rx="0.75" ry="0.95" fill="#cf9a45"/>
<ellipse cx="152.35" cy="460.35" rx="0.75" ry="0.95" fill="#cf9a45"/>
<ellipse cx="151.25" cy="461.80" rx="0.75" ry="0.95" fill="#cf9a45"/>
<ellipse cx="152.35" cy="461.80" rx="0.75" ry="0.95" fill="#cf9a45"/>
<ellipse cx="151.25" cy="463.25" rx="0.75" ry="0.95" fill="#cf9a45"/>
<ellipse cx="152.35" cy="463.25" rx="0.75" ry="0.95" fill="#cf9a45"/>
<ellipse cx="151.25" cy="464.70" rx="0.75" ry="0.95" fill="#cf9a45"/>
<ellipse cx="152.35" cy="464.70" rx="0.75" ry="0.95" fill="#cf9a45"/>
<line x1="151.80" y1="456.80" x2="151.80" y2="458.50" stroke="#cf9a45" stroke-width="0.5"/>
<line x1="136.00" y1="464.00" x2="136.00" y2="476.00" stroke="#c49240" stroke-width="0.5"/>
<ellipse cx="135.45" cy="460.90" rx="0.75" ry="0.95" fill="#cf9a45"/>
<ellipse cx="136.55" cy="460.90" rx="0.75" ry="0.95" fill="#cf9a45"/>
<ellipse cx="135.45" cy="462.35" rx="0.75" ry="0.95" fill="#cf9a45"/>
<ellipse cx="136.55" cy="462.35" rx="0.75" ry="0.95" fill="#cf9a45"/>
<ellipse cx="135.45" cy="463.80" rx="0.75" ry="0.95" fill="#cf9a45"/>
<ellipse cx="136.55" cy="463.80" rx="0.75" ry="0.95" fill="#cf9a45"/>
<ellipse cx="135.45" cy="465.25" rx="0.75" ry="0.95" fill="#cf9a45"/>
<ellipse cx="136.55" cy="465.25" rx="0.75" ry="0.95" fill="#cf9a45"/>
<ellipse cx="135.45" cy="466.70" rx="0.75" ry="0.95" fill="#cf9a45"/>
<ellipse cx="136.55" cy="466.70" rx="0.75" ry="0.95" fill="#cf9a45"/>
<line x1="136.00" y1="458.80" x2="136.00" y2="460.50" stroke="#cf9a45" stroke-width="0.5"/>
<line x1="146.50" y1="464.00" x2="146.50" y2="478.00" stroke="#c49240" stroke-width="0.5"/>
<ellipse cx="145.95" cy="460.90" rx="0.75" ry="0.95" fill="#cf9a45"/>
<ellipse cx="147.05" cy="460.90" rx="0.75" ry="0.95" fill="#cf9a45"/>
<ellipse cx="145.95" cy="462.35" rx="0.75" ry="0.95" fill="#cf9a45"/>
<ellipse cx="147.05" cy="462.35" rx="0.75" ry="0.95" fill="#cf9a45"/>
<ellipse cx="145.95" cy="463.80" rx="0.75" ry="0.95" fill="#cf9a45"/>
<ellipse cx="147.05" cy="463.80" rx="0.75" ry="0.95" fill="#cf9a45"/>
<ellipse cx="145.95" cy="465.25" rx="0.75" ry="0.95" fill="#cf9a45"/>
<ellipse cx="147.05" cy="465.25" rx="0.75" ry="0.95" fill="#cf9a45"/>
<ellipse cx="145.95" cy="466.70" rx="0.75" ry="0.95" fill="#cf9a45"/>
<ellipse cx="147.05" cy="466.70" rx="0.75" ry="0.95" fill="#cf9a45"/>
<line x1="146.50" y1="458.80" x2="146.50" y2="460.50" stroke="#cf9a45" stroke-width="0.5"/>
<line x1="162.50" y1="469.75" x2="162.50" y2="475.20" stroke="#3e6a67" stroke-width="0.6"/>
<line x1="167.50" y1="468.50" x2="167.50" y2="475.20" stroke="#3e6a67" stroke-width="0.6"/>
<line x1="173.50" y1="468.75" x2="173.50" y2="476.20" stroke="#3e6a67" stroke-width="0.6"/>
<line x1="179.50" y1="468.00" x2="179.50" y2="475.70" stroke="#3e6a67" stroke-width="0.6"/>
<line x1="185.50" y1="467.75" x2="185.50" y2="475.20" stroke="#3e6a67" stroke-width="0.6"/>
<line x1="190.50" y1="468.00" x2="190.50" y2="474.70" stroke="#3e6a67" stroke-width="0.6"/>
<line x1="195.00" y1="469.00" x2="195.00" y2="474.20" stroke="#3e6a67" stroke-width="0.6"/>
<line x1="170.50" y1="471.00" x2="170.50" y2="476.20" stroke="#3e6a67" stroke-width="0.6"/>
<line x1="183.50" y1="470.00" x2="183.50" y2="475.20" stroke="#3e6a67" stroke-width="0.6"/>
<line x1="177.00" y1="469.50" x2="177.00" y2="475.20" stroke="#3e6a67" stroke-width="0.6"/>
<circle cx="179.23" cy="449.83" r="1.17" fill="#47736f"/>
<circle cx="185.28" cy="450.50" r="1.33" fill="#4e7e7b"/>
<circle cx="185.63" cy="450.71" r="1.08" fill="#4e7e7b"/>
<circle cx="180.03" cy="450.76" r="1.53" fill="#4e7e7b"/>
<circle cx="179.69" cy="450.90" r="1.43" fill="#47736f"/>
<circle cx="178.93" cy="451.18" r="1.29" fill="#4e7e7b"/>
<circle cx="179.09" cy="451.97" r="1.60" fill="#4e7e7b"/>
<circle cx="179.09" cy="452.34" r="1.38" fill="#4e7e7b"/>
<circle cx="173.98" cy="452.98" r="1.20" fill="#4e7e7b"/>
<circle cx="174.07" cy="452.99" r="1.60" fill="#47736f"/>
<circle cx="190.74" cy="453.36" r="1.16" fill="#4e7e7b"/>
<circle cx="190.39" cy="453.38" r="1.35" fill="#4e7e7b"/>
<circle cx="173.71" cy="453.82" r="1.41" fill="#4e7e7b"/>
<circle cx="172.61" cy="454.03" r="1.20" fill="#4e7e7b"/>
<circle cx="184.48" cy="454.12" r="1.69" fill="#47736f"/>
<circle cx="186.62" cy="454.19" r="1.50" fill="#4e7e7b"/>
<circle cx="186.41" cy="454.20" r="1.64" fill="#4e7e7b"/>
<circle cx="186.06" cy="454.45" r="1.49" fill="#4e7e7b"/>
<circle cx="190.16" cy="454.54" r="1.45" fill="#4e7e7b"/>
<circle cx="184.29" cy="454.73" r="1.67" fill="#4e7e7b"/>
<circle cx="167.22" cy="454.88" r="1.57" fill="#47736f"/>
<circle cx="191.34" cy="455.15" r="1.43" fill="#47736f"/>
<circle cx="172.72" cy="455.28" r="1.43" fill="#4e7e7b"/>
<circle cx="166.73" cy="455.41" r="1.16" fill="#4e7e7b"/>
<circle cx="177.99" cy="455.48" r="1.59" fill="#4e7e7b"/>
<circle cx="180.58" cy="455.76" r="1.41" fill="#4e7e7b"/>
<circle cx="180.93" cy="455.89" r="1.50" fill="#4e7e7b"/>
<circle cx="191.22" cy="455.90" r="1.35" fill="#4e7e7b"/>
<circle cx="178.49" cy="456.11" r="1.83" fill="#4e7e7b"/>
<circle cx="179.10" cy="456.21" r="1.83" fill="#4e7e7b"/>
<circle cx="178.43" cy="456.27" r="1.55" fill="#4e7e7b"/>
<circle cx="184.08" cy="456.31" r="1.37" fill="#4e7e7b"/>
<circle cx="173.17" cy="456.68" r="1.56" fill="#4e7e7b"/>
<circle cx="189.83" cy="456.82" r="1.64" fill="#4e7e7b"/>
<circle cx="191.36" cy="456.85" r="1.72" fill="#4e7e7b"/>
<circle cx="180.01" cy="457.31" r="1.76" fill="#47736f"/>
<circle cx="190.30" cy="457.56" r="1.64" fill="#47736f"/>
<circle cx="190.31" cy="457.77" r="1.52" fill="#4e7e7b"/>
<circle cx="176.72" cy="457.81" r="1.13" fill="#47736f"/>
<circle cx="185.62" cy="457.81" r="1.75" fill="#4e7e7b"/>
<circle cx="184.76" cy="457.83" r="1.75" fill="#4e7e7b"/>
<circle cx="174.80" cy="458.04" r="1.54" fill="#47736f"/>
<circle cx="172.01" cy="458.12" r="1.59" fill="#4e7e7b"/>
<circle cx="168.76" cy="458.26" r="1.60" fill="#4e7e7b"/>
<circle cx="194.82" cy="458.27" r="1.18" fill="#4e7e7b"/>
<circle cx="178.12" cy="458.34" r="1.75" fill="#4e7e7b"/>
<circle cx="195.14" cy="458.50" r="1.27" fill="#4e7e7b"/>
<circle cx="168.27" cy="458.66" r="1.36" fill="#4e7e7b"/>
<circle cx="161.96" cy="458.68" r="1.41" fill="#4e7e7b"/>
<circle cx="176.47" cy="458.70" r="1.25" fill="#47736f"/>
<circle cx="177.39" cy="458.80" r="1.38" fill="#4e7e7b"/>
<circle cx="172.87" cy="458.86" r="1.93" fill="#4e7e7b"/>
<circle cx="167.26" cy="458.88" r="1.46" fill="#4e7e7b"/>
<circle cx="183.30" cy="459.13" r="1.09" fill="#47736f"/>
<circle cx="166.31" cy="459.15" r="1.42" fill="#4e7e7b"/>
<circle cx="177.07" cy="459.31" r="1.20" fill="#47736f"/>
<circle cx="177.62" cy="459.39" r="1.55" fill="#4e7e7b"/>
<circle cx="167.48" cy="459.43" r="1.52" fill="#4e7e7b"/>
<circle cx="194.66" cy="459.60" r="1.44" fill="#4e7e7b"/>
<circle cx="194.99" cy="459.63" r="1.22" fill="#4e7e7b"/>
<circle cx="191.58" cy="459.66" r="1.70" fill="#4e7e7b"/>
<circle cx="172.49" cy="459.67" r="1.51" fill="#47736f"/>
<circle cx="179.23" cy="459.68" r="1.85" fill="#47736f"/>
<circle cx="194.60" cy="459.77" r="1.44" fill="#4e7e7b"/>
<circle cx="176.80" cy="459.98" r="1.39" fill="#47736f"/>
<circle cx="188.81" cy="460.01" r="1.81" fill="#4e7e7b"/>
<circle cx="194.86" cy="460.05" r="1.56" fill="#4e7e7b"/>
<circle cx="189.39" cy="460.20" r="1.76" fill="#4e7e7b"/>
<circle cx="172.53" cy="460.23" r="1.86" fill="#47736f"/>
<circle cx="186.30" cy="460.26" r="1.90" fill="#4e7e7b"/>
<circle cx="162.45" cy="460.28" r="1.60" fill="#4e7e7b"/>
<circle cx="163.32" cy="460.32" r="1.42" fill="#4e7e7b"/>
<circle cx="173.57" cy="460.38" r="1.72" fill="#4e7e7b"/>
<circle cx="176.52" cy="460.38" r="1.64" fill="#4e7e7b"/>
<circle cx="194.32" cy="460.40" r="1.56" fill="#4e7e7b"/>
<circle cx="186.30" cy="460.53" r="1.68" fill="#4e7e7b"/>
<circle cx="195.20" cy="460.55" r="1.64" fill="#4e7e7b"/>
<circle cx="170.50" cy="460.78" r="1.51" fill="#47736f"/>
<circle cx="184.32" cy="460.79" r="1.31" fill="#4e7e7b"/>
<circle cx="162.90" cy="460.90" r="1.55" fill="#4e7e7b"/>
<circle cx="175.88" cy="460.93" r="1.76" fill="#4e7e7b"/>
<circle cx="185.08" cy="460.97" r="1.95" fill="#4e7e7b"/>
<circle cx="188.78" cy="460.99" r="1.95" fill="#4e7e7b"/>
<circle cx="173.47" cy="461.00" r="1.91" fill="#4e7e7b"/>
<circle cx="190.09" cy="461.03" r="1.85" fill="#4e7e7b"/>
<circle cx="183.20" cy="461.05" r="1.53" fill="#4e7e7b"/>
<circle cx="170.18" cy="461.11" r="1.14" fill="#4e7e7b"/>
<circle cx="161.77" cy="461.11" r="1.43" fill="#4e7e7b"/>
<circle cx="178.21" cy="461.14" r="2.02" fill="#4e7e7b"/>
<circle cx="161.47" cy="461.20" r="1.69" fill="#47736f"/>
<circle cx="195.36" cy="461.22" r="1.55" fill="#4e7e7b"/>
<circle cx="186.80" cy="461.24" r="1.99" fill="#4e7e7b"/>
<circle cx="195.00" cy="461.27" r="1.64" fill="#4e7e7b"/>
<circle cx="166.19" cy="461.32" r="1.96" fill="#4e7e7b"/>
<circle cx="182.44" cy="461.35" r="1.25" fill="#47736f"/>
<circle cx="194.18" cy="461.37" r="1.39" fill="#47736f"/>
<circle cx="173.71" cy="461.39" r="2.05" fill="#4e7e7b"/>
<circle cx="163.47" cy="461.39" r="1.72" fill="#4e7e7b"/>
<circle cx="195.34" cy="461.40" r="1.46" fill="#4e7e7b"/>
<circle cx="176.59" cy="461.43" r="1.61" fill="#4e7e7b"/>
<circle cx="194.28" cy="461.44" r="1.57" fill="#4e7e7b"/>
<circle cx="189.60" cy="461.45" r="1.83" fill="#4e7e7b"/>
<circle cx="195.16" cy="461.45" r="1.59" fill="#4e7e7b"/>
<circle cx="161.84" cy="461.81" r="1.33" fill="#4e7e7b"/>
<circle cx="163.19" cy="461.84" r="1.42" fill="#47736f"/>
<circle cx="161.27" cy="461.86" r="1.50" fill="#47736f"/>
<circle cx="167.02" cy="461.97" r="1.69" fill="#47736f"/>
<circle cx="176.80" cy="462.00" r="1.82" fill="#47736f"/>
<circle cx="186.10" cy="462.07" r="1.91" fill="#4e7e7b"/>
<circle cx="186.77" cy="462.08" r="1.99" fill="#4e7e7b"/>
<circle cx="176.34" cy="462.49" r="1.84" fill="#4e7e7b"/>
<circle cx="170.11" cy="462.52" r="1.27" fill="#47736f"/>
<circle cx="170.16" cy="462.71" r="1.57" fill="#4e7e7b"/>
<circle cx="190.82" cy="462.77" r="2.15" fill="#4e7e7b"/>
<circle cx="182.72" cy="462.83" r="1.53" fill="#4e7e7b"/>
<circle cx="191.79" cy="462.84" r="2.02" fill="#4e7e7b"/>
<circle cx="191.33" cy="463.01" r="2.10" fill="#47736f"/>
<circle cx="171.42" cy="463.01" r="1.47" fill="#4e7e7b"/>
<circle cx="169.42" cy="463.18" r="1.38" fill="#47736f"/>
<circle cx="176.80" cy="463.21" r="1.85" fill="#47736f"/>
<circle cx="177.91" cy="463.27" r="2.03" fill="#47736f"/>
<circle cx="171.24" cy="463.30" r="2.01" fill="#4e7e7b"/>
<circle cx="166.47" cy="463.31" r="1.85" fill="#4e7e7b"/>
<circle cx="182.41" cy="463.34" r="1.57" fill="#47736f"/>
<circle cx="183.34" cy="463.35" r="1.73" fill="#47736f"/>
<circle cx="168.12" cy="463.44" r="2.08" fill="#4e7e7b"/>
<circle cx="175.70" cy="463.47" r="1.74" fill="#4e7e7b"/>
<circle cx="161.44" cy="463.51" r="1.86" fill="#47736f"/>
<circle cx="167.18" cy="463.55" r="1.96" fill="#47736f"/>
<circle cx="180.48" cy="463.56" r="1.87" fill="#4e7e7b"/>
<circle cx="170.87" cy="463.56" r="1.53" fill="#4e7e7b"/>
<circle cx="176.90" cy="463.65" r="2.01" fill="#47736f"/>
<circle cx="194.06" cy="463.69" r="1.93" fill="#4e7e7b"/>
<circle cx="164.05" cy="463.71" r="1.66" fill="#4e7e7b"/>
<circle cx="182.59" cy="463.93" r="1.44" fill="#4e7e7b"/>
<circle cx="185.64" cy="463.96" r="1.81" fill="#47736f"/>
<circle cx="162.06" cy="463.99" r="1.72" fill="#47736f"/>
<circle cx="170.75" cy="464.16" r="1.78" fill="#4e7e7b"/>
<circle cx="179.29" cy="464.25" r="1.84" fill="#47736f"/>
<circle cx="165.81" cy="464.30" r="1.98" fill="#47736f"/>
<circle cx="173.63" cy="464.52" r="2.03" fill="#4e7e7b"/>
<circle cx="168.32" cy="464.68" r="2.19" fill="#4e7e7b"/>
<circle cx="183.12" cy="464.68" r="1.86" fill="#4e7e7b"/>
<circle cx="171.34" cy="464.69" r="1.78" fill="#47736f"/>
<circle cx="173.75" cy="464.69" r="1.78" fill="#4e7e7b"/>
<circle cx="175.41" cy="464.70" r="2.15" fill="#4e7e7b"/>
<circle cx="169.61" cy="464.71" r="1.75" fill="#47736f"/>
<circle cx="172.24" cy="464.71" r="2.11" fill="#4e7e7b"/>
<circle cx="187.81" cy="464.72" r="2.08" fill="#4e7e7b"/>
<circle cx="194.22" cy="464.76" r="1.98" fill="#4e7e7b"/>
<circle cx="161.50" cy="464.79" r="1.95" fill="#47736f"/>
<circle cx="192.89" cy="464.83" r="1.97" fill="#4e7e7b"/>
<circle cx="161.12" cy="465.00" r="2.05" fill="#4e7e7b"/>
<circle cx="181.37" cy="465.03" r="2.09" fill="#47736f"/>
<circle cx="184.55" cy="465.06" r="1.97" fill="#47736f"/>
<circle cx="175.93" cy="465.06" r="1.94" fill="#4e7e7b"/>
<circle cx="189.88" cy="465.10" r="1.92" fill="#47736f"/>
<circle cx="184.47" cy="465.13" r="1.56" fill="#4e7e7b"/>
<circle cx="171.63" cy="465.25" r="1.67" fill="#47736f"/>
<circle cx="165.22" cy="465.30" r="1.88" fill="#47736f"/>
<circle cx="176.43" cy="465.31" r="1.94" fill="#4e7e7b"/>
<circle cx="191.76" cy="465.36" r="2.14" fill="#4e7e7b"/>
<circle cx="174.39" cy="465.43" r="2.23" fill="#4e7e7b"/>
<circle cx="183.79" cy="465.47" r="1.88" fill="#4e7e7b"/>
<circle cx="191.98" cy="465.51" r="2.29" fill="#4e7e7b"/>
<circle cx="182.26" cy="465.55" r="2.35" fill="#4e7e7b"/>
<circle cx="163.44" cy="465.59" r="1.73" fill="#4e7e7b"/>
<circle cx="194.83" cy="465.60" r="1.91" fill="#4e7e7b"/>
<circle cx="161.90" cy="465.61" r="1.86" fill="#4e7e7b"/>
<circle cx="182.07" cy="465.84" r="2.31" fill="#4e7e7b"/>
<circle cx="190.41" cy="465.91" r="1.87" fill="#4e7e7b"/>
<circle cx="170.82" cy="465.92" r="2.06" fill="#4e7e7b"/>
<circle cx="189.79" cy="465.95" r="1.91" fill="#47736f"/>
<circle cx="160.80" cy="465.97" r="2.05" fill="#4e7e7b"/>
<circle cx="178.90" cy="465.99" r="1.83" fill="#4e7e7b"/>
<circle cx="177.58" cy="466.02" r="1.73" fill="#4e7e7b"/>
<circle cx="194.57" cy="466.02" r="1.87" fill="#4e7e7b"/>
<circle cx="194.58" cy="466.15" r="1.80" fill="#47736f"/>
<circle cx="184.94" cy="466.18" r="2.05" fill="#47736f"/>
<circle cx="193.45" cy="466.21" r="2.08" fill="#4e7e7b"/>
<circle cx="162.73" cy="466.23" r="1.98" fill="#47736f"/>
<circle cx="176.88" cy="466.27" r="2.10" fill="#4e7e7b"/>
<circle cx="174.94" cy="466.27" r="2.07" fill="#4e7e7b"/>
<circle cx="183.68" cy="466.28" r="2.40" fill="#4e7e7b"/>
<circle cx="160.61" cy="466.31" r="1.84" fill="#4e7e7b"/>
<circle cx="174.74" cy="466.32" r="2.08" fill="#4e7e7b"/>
<circle cx="168.91" cy="466.32" r="2.08" fill="#4e7e7b"/>
<circle cx="182.82" cy="466.40" r="1.94" fill="#4e7e7b"/>
<circle cx="179.19" cy="466.42" r="1.99" fill="#4e7e7b"/>
<circle cx="168.93" cy="466.43" r="2.04" fill="#4e7e7b"/>
<circle cx="194.32" cy="466.49" r="1.85" fill="#4e7e7b"/>
<circle cx="187.05" cy="466.54" r="2.30" fill="#47736f"/>
<circle cx="169.80" cy="466.56" r="1.73" fill="#4e7e7b"/>
<circle cx="176.14" cy="466.59" r="2.05" fill="#4e7e7b"/>
<circle cx="178.69" cy="466.62" r="1.98" fill="#4e7e7b"/>
<circle cx="186.63" cy="466.64" r="2.03" fill="#4e7e7b"/>
<circle cx="188.47" cy="466.67" r="2.12" fill="#4e7e7b"/>
<circle cx="165.15" cy="466.74" r="2.00" fill="#47736f"/>
<circle cx="169.05" cy="466.75" r="2.31" fill="#4e7e7b"/>
<circle cx="189.75" cy="466.84" r="1.95" fill="#4e7e7b"/>
<circle cx="182.05" cy="466.88" r="2.06" fill="#4e7e7b"/>
<circle cx="166.48" cy="466.90" r="2.14" fill="#4e7e7b"/>
<circle cx="182.67" cy="466.91" r="2.04" fill="#4e7e7b"/>
<circle cx="182.50" cy="466.92" r="1.82" fill="#4e7e7b"/>
<circle cx="178.77" cy="466.96" r="2.24" fill="#4e7e7b"/>
<circle cx="190.58" cy="467.00" r="1.98" fill="#4e7e7b"/>
<circle cx="181.77" cy="467.03" r="1.95" fill="#4e7e7b"/>
<circle cx="175.76" cy="467.07" r="1.94" fill="#4e7e7b"/>
<circle cx="188.33" cy="467.16" r="2.35" fill="#4e7e7b"/>
<circle cx="195.48" cy="467.20" r="2.03" fill="#4e7e7b"/>
<circle cx="169.98" cy="467.21" r="1.72" fill="#47736f"/>
<circle cx="183.19" cy="467.21" r="2.04" fill="#4e7e7b"/>
<circle cx="177.17" cy="467.25" r="2.17" fill="#4e7e7b"/>
<circle cx="165.67" cy="467.25" r="1.93" fill="#47736f"/>
<circle cx="175.14" cy="467.40" r="2.22" fill="#47736f"/>
<circle cx="180.83" cy="467.56" r="2.07" fill="#4e7e7b"/>
<circle cx="194.37" cy="467.63" r="2.00" fill="#4e7e7b"/>
<circle cx="175.42" cy="467.67" r="2.13" fill="#47736f"/>
<circle cx="183.57" cy="467.68" r="2.24" fill="#47736f"/>
<circle cx="195.08" cy="467.81" r="2.18" fill="#4e7e7b"/>
<circle cx="162.87" cy="467.86" r="2.17" fill="#4e7e7b"/>
<circle cx="170.03" cy="468.22" r="2.11" fill="#47736f"/>
<circle cx="170.26" cy="468.28" r="1.83" fill="#4e7e7b"/>
<circle cx="166.97" cy="468.31" r="2.46" fill="#4e7e7b"/>
<circle cx="169.82" cy="468.31" r="2.03" fill="#4e7e7b"/>
<circle cx="162.56" cy="468.32" r="2.10" fill="#47736f"/>
<circle cx="168.02" cy="468.35" r="2.41" fill="#4e7e7b"/>
<circle cx="171.67" cy="468.45" r="2.07" fill="#4e7e7b"/>
<circle cx="185.39" cy="468.54" r="2.27" fill="#4e7e7b"/>
<circle cx="185.30" cy="468.55" r="2.20" fill="#4e7e7b"/>
<circle cx="171.05" cy="468.57" r="1.98" fill="#4e7e7b"/>
<circle cx="170.41" cy="468.58" r="1.91" fill="#4e7e7b"/>
<circle cx="184.07" cy="468.58" r="2.20" fill="#4e7e7b"/>
<circle cx="168.93" cy="468.63" r="2.23" fill="#47736f"/>
<circle cx="181.83" cy="468.67" r="2.13" fill="#4e7e7b"/>
<circle cx="194.44" cy="468.71" r="2.32" fill="#4e7e7b"/>
<circle cx="182.35" cy="468.81" r="2.24" fill="#4e7e7b"/>
<circle cx="185.99" cy="468.86" r="2.11" fill="#4e7e7b"/>
<circle cx="186.02" cy="468.97" r="1.99" fill="#47736f"/>
<circle cx="175.16" cy="469.01" r="2.20" fill="#4e7e7b"/>
<circle cx="170.63" cy="469.02" r="1.97" fill="#4e7e7b"/>
<circle cx="181.57" cy="469.08" r="2.05" fill="#4e7e7b"/>
<circle cx="176.78" cy="469.11" r="2.28" fill="#4e7e7b"/>
<circle cx="194.48" cy="469.17" r="2.29" fill="#4e7e7b"/>
<circle cx="170.87" cy="469.36" r="1.90" fill="#4e7e7b"/>
<circle cx="171.52" cy="469.41" r="2.08" fill="#47736f"/>
<circle cx="179.65" cy="469.45" r="2.18" fill="#4e7e7b"/>
<circle cx="161.70" cy="469.52" r="2.24" fill="#4e7e7b"/>
<circle cx="179.21" cy="469.77" r="2.44" fill="#47736f"/>
<circle cx="174.56" cy="469.92" r="2.48" fill="#47736f"/>
<circle cx="182.67" cy="469.93" r="2.26" fill="#4e7e7b"/>
<circle cx="164.61" cy="469.93" r="2.35" fill="#47736f"/>
<circle cx="162.48" cy="470.17" r="2.24" fill="#4e7e7b"/>
<circle cx="163.80" cy="470.22" r="2.44" fill="#4e7e7b"/>
<circle cx="169.69" cy="470.29" r="2.23" fill="#4e7e7b"/>
<circle cx="172.26" cy="470.51" r="1.99" fill="#47736f"/>
<circle cx="168.31" cy="470.83" r="2.42" fill="#4e7e7b"/>
<circle cx="172.52" cy="471.19" r="2.09" fill="#4e7e7b"/>
<circle cx="168.71" cy="471.30" r="2.18" fill="#4e7e7b"/>
<circle cx="169.56" cy="471.49" r="2.19" fill="#47736f"/>
<path d="M91.8 570.2C92.7 569.5 95.6 568.2 98.0 567.6C100.4 567.0 104.1 567.4 106.0 566.8C107.9 566.2 108.2 564.5 109.5 563.8C110.8 563.1 112.7 562.5 114.0 562.6C115.3 562.7 116.5 563.9 117.5 564.5C118.5 565.1 118.9 565.6 120.0 566.4C121.1 567.1 123.8 568.0 124.1 569.0C124.4 570.0 124.3 571.8 122.0 572.6C119.7 573.4 114.0 573.8 110.0 573.9C106.0 574.0 100.9 573.7 98.0 573.4C95.1 573.1 93.5 572.5 92.5 572.0C91.5 571.5 90.9 570.9 91.8 570.2Z" fill="#9ec6c3"/>
<linearGradient id="tg5" gradientUnits="userSpaceOnUse" x1="115.5" y1="563.5" x2="127.5" y2="561.5"><stop offset="0" stop-color="#9ec6c3" stop-opacity="0.15"/><stop offset="0.45" stop-color="#9ec6c3" stop-opacity="1"/></linearGradient><polygon points="115.8,563.9 116.1,563.7 116.4,563.5 116.7,563.4 117.1,563.2 117.4,563.1 117.8,562.9 118.1,562.8 118.5,562.7 118.9,562.6 119.3,562.5 119.6,562.4 120.0,562.3 120.4,562.2 120.9,562.1 121.3,562.1 121.7,562.0 122.1,562.0 122.6,562.0 123.0,562.0 123.5,562.0 123.9,562.0 124.4,562.0 124.9,562.0 125.4,562.1 125.9,562.1 126.4,562.2 126.9,562.2 127.4,562.3 127.6,560.7 127.1,560.6 126.5,560.6 126.0,560.6 125.5,560.5 124.9,560.5 124.4,560.5 123.9,560.5 123.4,560.5 123.0,560.6 122.5,560.6 122.0,560.7 121.5,560.7 121.1,560.8 120.6,560.9 120.2,560.9 119.8,561.0 119.3,561.2 118.9,561.3 118.5,561.4 118.1,561.6 117.7,561.7 117.3,561.9 117.0,562.1 116.6,562.2 116.2,562.4 115.9,562.6 115.6,562.9 115.2,563.1" fill="url(#tg5)"/>
<text x="87.30" y="581.20" font-size="5.85" fill="#222" stroke="#222" stroke-width="0.043">WWTP water</text>
<path d="M174.5 569.5C168.4 567.2 175.0 559.8 175.5 556.0C176.0 552.2 176.6 549.4 177.5 547.0C178.4 544.6 179.6 542.8 181.0 541.5C182.4 540.2 184.2 539.4 186.0 539.0C187.8 538.6 189.8 538.7 191.5 539.2C193.2 539.7 194.8 540.6 196.5 542.0C198.2 543.4 199.9 545.4 201.5 547.5C203.1 549.6 204.6 552.2 206.0 554.5C207.4 556.8 208.7 559.2 209.8 561.5C210.9 563.8 212.4 567.0 212.8 568.4C213.2 569.8 218.4 569.4 212.0 569.6C205.6 569.8 180.6 571.8 174.5 569.5Z" fill="#8b5b50"/>
<polygon points="144.0,547.1 176.0,547.1 176.0,560.0 144.0,560.0" fill="#3e6c69"/>
<rect x="161.10" y="537.20" width="13.30" height="10.50" fill="#3e6c69"/>
<polygon points="161.1,537.2 163.2,535.6 176.4,535.6 174.4,537.2" fill="#80b5b0"/>
<polygon points="144.0,558.5 176.0,558.5 180.5,576.5 137.3,577.5" fill="#62a09b"/>
<ellipse cx="150.2" cy="560.6" rx="4.8" ry="1.8" fill="#e3e3e3"/>
<ellipse cx="150.2" cy="559.3" rx="4.8" ry="1.40" fill="#a5cbc8"/>
<ellipse cx="170.1" cy="560.4" rx="4.3" ry="1.9" fill="#e3e3e3"/>
<ellipse cx="170.1" cy="559.1" rx="4.3" ry="1.48" fill="#a5cbc8"/>
<ellipse cx="150.2" cy="571.4" rx="7.8" ry="3.4" fill="#e3e3e3"/>
<ellipse cx="150.2" cy="570.1" rx="7.8" ry="2.65" fill="#a5cbc8"/>
<ellipse cx="166.8" cy="572.0" rx="8.3" ry="3.5" fill="#e3e3e3"/>
<ellipse cx="166.8" cy="570.7" rx="8.3" ry="2.73" fill="#a5cbc8"/>
<line x1="155.00" y1="560.00" x2="166.00" y2="559.00" stroke="#a9cdca" stroke-width="1.0"/>
<line x1="153.00" y1="567.50" x2="166.00" y2="561.00" stroke="#a9cdca" stroke-width="1.0"/>
<polygon points="137.3,560.4 145.2,547.1 145.2,565.0 137.3,578.5" fill="#6fa9a4"/>
<polygon points="126.9,560.4 137.3,560.4 145.2,547.1 134.8,547.1" fill="#80b5b0"/>
<rect x="126.90" y="560.40" width="10.40" height="19.90" fill="#3e6c69"/>
<polygon points="175.3,551.0 180.0,558.5 180.0,576.5 175.3,576.5" fill="#6fa9a4"/>
<polygon points="175.3,551.0 180.6,551.0 185.7,558.5 180.0,558.5" fill="#80b5b0"/>
<rect x="180.00" y="558.50" width="5.70" height="18.00" fill="#3e6c69"/>
<rect x="137.30" y="575.80" width="43.00" height="2.60" fill="#3a6663"/>
<rect x="185.70" y="567.20" width="8.60" height="3.80" fill="#7db2ad"/>
<text x="189.90" y="580.30" font-size="5.85" fill="#222" stroke="#222" stroke-width="0.043">Sewage</text>
<polygon points="239.8,482.1 252.5,485.1 265.2,488.1 275.8,489.3 282.2,490.1 282.2,506.9 275.8,505.4 265.2,502.7 252.5,497.3 239.8,491.5" fill="#6e9fb2"/>
<polygon points="282.2,490.1 295.6,486.2 308.9,483.0 326.7,480.6 326.7,495.2 308.9,498.3 295.6,502.2 282.2,506.9" fill="#5b8fa4"/>
<polygon points="239.8,482.1 258.7,477.6 277.7,473.7 293.9,471.5 310.3,475.8 326.7,480.6 308.9,483.0 295.6,486.2 282.2,490.1 275.8,489.3 265.2,488.1 252.5,485.1" fill="#93b4c2"/>
<text x="267.30" y="498.10" font-size="5.85" fill="#222" stroke="#222" stroke-width="0.043">Marine water</text>
<polygon points="240.6,521.1 253.9,524.8 267.3,528.5 278.4,530.3 285.1,531.4 285.1,546.0 278.4,544.4 267.3,541.6 253.9,535.9 240.6,529.9" fill="#6db0a8"/>
<polygon points="285.1,531.4 297.8,527.3 310.5,523.8 327.4,521.1 327.4,532.1 310.5,536.1 297.8,540.6 285.1,546.0" fill="#519e95"/>
<polygon points="240.6,521.1 258.7,517.0 276.9,513.5 292.4,511.6 309.9,516.1 327.4,521.1 310.5,523.8 297.8,527.3 285.1,531.4 278.4,530.3 267.3,528.5 253.9,524.8" fill="#92c3bd"/>
<text x="267.30" y="537.80" font-size="5.85" fill="#222" stroke="#222" stroke-width="0.043">Natural water</text>
<polygon points="244.2,562.7 257.3,566.2 270.5,569.6 281.4,571.2 288.0,572.2 288.0,587.6 281.4,586.2 270.5,583.8 257.3,578.6 244.2,573.0" fill="#8f7b76"/>
<polygon points="288.0,572.2 300.7,568.4 313.4,565.1 330.4,562.7 330.4,574.4 313.4,578.1 300.7,582.4 288.0,587.6" fill="#6f8580"/>
<polygon points="244.2,562.7 262.1,558.6 280.0,555.1 295.3,553.3 312.9,557.7 330.4,562.7 313.4,565.1 300.7,568.4 288.0,572.2 281.4,571.2 270.5,569.6 257.3,566.2" fill="#a08985"/>
<polygon points="244.2,562.7 256.0,559.2 268.0,556.2 280.0,554.0 291.5,553.4 284.0,558.5 276.0,563.0 270.5,566.2 267.0,568.4 255.0,566.0" fill="#8dbdb7"/>
<polygon points="244.2,562.7 255.0,566.0 267.0,568.4 262.0,572.5 256.0,576.2 244.2,573.0" fill="#6aa9a2"/>
<text x="268.40" y="578.30" font-size="5.85" fill="#222" stroke="#222" stroke-width="0.043">Natural sediment</text>
<line x1="270.00" y1="476.00" x2="290.00" y2="475.00" stroke="#ffffff" stroke-width="0.5" opacity="0.45"/>
<line x1="282.00" y1="479.00" x2="300.00" y2="478.50" stroke="#ffffff" stroke-width="0.5" opacity="0.45"/>
<line x1="262.00" y1="516.00" x2="280.00" y2="515.50" stroke="#ffffff" stroke-width="0.5" opacity="0.45"/>
<line x1="285.00" y1="518.00" x2="300.00" y2="517.00" stroke="#ffffff" stroke-width="0.5" opacity="0.45"/>
<line x1="290.00" y1="559.00" x2="305.00" y2="558.50" stroke="#ffffff" stroke-width="0.5" opacity="0.45"/>
<line x1="300.00" y1="562.00" x2="315.00" y2="561.50" stroke="#ffffff" stroke-width="0.5" opacity="0.45"/>
<linearGradient id="tg6" gradientUnits="userSpaceOnUse" x1="76.3" y1="435.3" x2="115.2" y2="449.6"><stop offset="0" stop-color="#b5453d" stop-opacity="0.15"/><stop offset="0.45" stop-color="#b5453d" stop-opacity="1"/></linearGradient><polygon points="76.3,435.4 78.2,435.1 80.1,434.8 81.9,434.6 83.7,434.5 85.4,434.4 87.1,434.4 88.7,434.5 90.3,434.7 91.9,434.9 93.4,435.1 94.9,435.5 96.3,435.9 97.7,436.4 99.0,436.9 100.3,437.5 101.6,438.2 102.8,438.9 103.9,439.7 105.0,440.5 106.1,441.4 107.1,442.4 108.1,443.4 109.1,444.5 110.0,445.6 110.9,446.8 111.7,448.1 112.5,449.4 113.2,450.8 117.2,448.4 116.1,447.0 115.1,445.6 114.0,444.3 112.9,443.1 111.7,442.0 110.5,440.9 109.3,439.9 108.0,439.0 106.7,438.2 105.4,437.4 104.0,436.7 102.6,436.1 101.2,435.5 99.7,435.0 98.2,434.6 96.7,434.3 95.2,434.0 93.6,433.8 92.0,433.6 90.4,433.5 88.8,433.5 87.1,433.6 85.4,433.7 83.6,433.9 81.8,434.1 80.0,434.4 78.2,434.8 76.3,435.2" fill="url(#tg6)"/>
<linearGradient id="tg7" gradientUnits="userSpaceOnUse" x1="71.2" y1="440.4" x2="99.3" y2="455.8"><stop offset="0" stop-color="#3b5b77" stop-opacity="0.15"/><stop offset="0.45" stop-color="#3b5b77" stop-opacity="1"/></linearGradient><polygon points="71.2,440.5 72.7,440.5 74.1,440.5 75.5,440.5 76.8,440.6 78.2,440.8 79.4,441.0 80.7,441.3 81.9,441.6 83.0,441.9 84.1,442.3 85.2,442.7 86.3,443.2 87.2,443.8 88.2,444.3 89.1,444.9 90.0,445.6 90.8,446.3 91.6,447.0 92.4,447.8 93.1,448.6 93.7,449.5 94.4,450.4 95.0,451.3 95.5,452.3 96.1,453.3 96.6,454.4 97.0,455.5 97.5,456.6 101.1,455.0 100.5,453.8 99.8,452.6 99.1,451.5 98.3,450.5 97.5,449.5 96.7,448.5 95.9,447.6 95.0,446.8 94.1,446.0 93.1,445.2 92.2,444.5 91.1,443.9 90.1,443.3 89.1,442.8 88.0,442.3 86.8,441.9 85.7,441.5 84.5,441.1 83.3,440.8 82.1,440.6 80.8,440.4 79.5,440.3 78.2,440.2 76.9,440.1 75.5,440.1 74.1,440.1 72.7,440.2 71.2,440.3" fill="url(#tg7)"/>
<linearGradient id="tg8" gradientUnits="userSpaceOnUse" x1="77.1" y1="476.8" x2="102.5" y2="475.0"><stop offset="0" stop-color="#b5453d" stop-opacity="0.15"/><stop offset="0.45" stop-color="#b5453d" stop-opacity="1"/></linearGradient><polygon points="77.1,476.9 78.0,476.9 78.9,476.9 79.9,476.9 80.8,476.8 81.7,476.8 82.6,476.8 83.5,476.8 84.5,476.8 85.4,476.7 86.3,476.7 87.2,476.7 88.1,476.7 89.0,476.7 89.9,476.7 90.9,476.6 91.8,476.6 92.7,476.6 93.6,476.6 94.5,476.5 95.4,476.5 96.3,476.5 97.2,476.5 98.1,476.4 99.0,476.4 99.9,476.4 100.8,476.4 101.7,476.3 102.6,476.3 102.4,473.7 101.5,473.8 100.6,474.0 99.7,474.1 98.8,474.2 97.9,474.4 97.0,474.5 96.1,474.6 95.3,474.8 94.4,474.9 93.5,475.0 92.6,475.1 91.7,475.2 90.8,475.3 89.9,475.4 89.0,475.6 88.0,475.7 87.1,475.8 86.2,475.9 85.3,476.0 84.4,476.1 83.5,476.1 82.6,476.2 81.7,476.3 80.8,476.4 79.8,476.5 78.9,476.5 78.0,476.6 77.1,476.7" fill="url(#tg8)"/>
<linearGradient id="tg9" gradientUnits="userSpaceOnUse" x1="78.0" y1="488.2" x2="105.1" y2="487.3"><stop offset="0" stop-color="#3b5b77" stop-opacity="0.15"/><stop offset="0.45" stop-color="#3b5b77" stop-opacity="1"/></linearGradient><polygon points="78.0,488.3 79.0,488.3 80.0,488.3 81.0,488.3 82.0,488.3 83.0,488.3 84.0,488.3 85.0,488.3 85.9,488.3 86.9,488.3 87.9,488.3 88.9,488.3 89.8,488.3 90.8,488.3 91.8,488.3 92.8,488.4 93.7,488.4 94.7,488.4 95.7,488.4 96.6,488.4 97.6,488.4 98.5,488.4 99.5,488.4 100.4,488.4 101.4,488.4 102.3,488.4 103.3,488.4 104.2,488.4 105.2,488.4 105.0,486.2 104.1,486.3 103.2,486.4 102.2,486.5 101.3,486.5 100.4,486.6 99.4,486.7 98.5,486.8 97.5,486.9 96.6,486.9 95.6,487.0 94.6,487.1 93.7,487.2 92.7,487.2 91.8,487.3 90.8,487.4 89.8,487.4 88.8,487.5 87.9,487.6 86.9,487.6 85.9,487.7 84.9,487.7 84.0,487.8 83.0,487.9 82.0,487.9 81.0,488.0 80.0,488.0 79.0,488.0 78.0,488.1" fill="url(#tg9)"/>
<linearGradient id="tg10" gradientUnits="userSpaceOnUse" x1="79.7" y1="530.5" x2="107.3" y2="502.9"><stop offset="0" stop-color="#b5453d" stop-opacity="0.15"/><stop offset="0.45" stop-color="#b5453d" stop-opacity="1"/></linearGradient><polygon points="79.8,530.5 80.3,529.1 80.9,527.6 81.5,526.3 82.2,524.9 82.9,523.6 83.6,522.4 84.3,521.2 85.1,520.0 86.0,518.9 86.9,517.8 87.8,516.7 88.7,515.7 89.7,514.8 90.7,513.9 91.7,513.0 92.8,512.2 93.9,511.4 95.0,510.6 96.2,509.9 97.4,509.2 98.6,508.6 99.8,508.0 101.1,507.5 102.5,507.0 103.8,506.5 105.2,506.0 106.6,505.6 108.0,505.3 106.6,500.5 105.0,501.1 103.6,501.8 102.1,502.5 100.7,503.2 99.4,504.0 98.1,504.8 96.8,505.6 95.6,506.4 94.4,507.3 93.3,508.3 92.2,509.2 91.1,510.2 90.1,511.3 89.1,512.3 88.2,513.4 87.3,514.5 86.5,515.7 85.7,516.9 84.9,518.1 84.1,519.4 83.5,520.6 82.8,521.9 82.2,523.3 81.6,524.7 81.0,526.1 80.5,527.5 80.0,529.0 79.6,530.5" fill="url(#tg10)"/>
<linearGradient id="tg11" gradientUnits="userSpaceOnUse" x1="80.4" y1="541.6" x2="104.7" y2="520.0"><stop offset="0" stop-color="#3b5b77" stop-opacity="0.15"/><stop offset="0.45" stop-color="#3b5b77" stop-opacity="1"/></linearGradient><polygon points="80.4,541.7 81.7,541.4 82.9,541.1 84.1,540.7 85.3,540.3 86.5,539.8 87.6,539.4 88.7,538.9 89.8,538.4 90.9,537.8 91.9,537.2 93.0,536.6 93.9,535.9 94.9,535.2 95.9,534.5 96.8,533.7 97.7,532.9 98.5,532.1 99.4,531.2 100.2,530.3 101.0,529.4 101.8,528.4 102.5,527.4 103.2,526.4 103.9,525.3 104.6,524.2 105.2,523.1 105.8,521.9 106.4,520.7 103.0,519.3 102.6,520.5 102.2,521.7 101.8,522.8 101.3,523.9 100.8,525.0 100.2,526.0 99.6,527.0 99.0,528.0 98.4,528.9 97.8,529.9 97.1,530.8 96.3,531.6 95.6,532.5 94.8,533.3 94.0,534.1 93.1,534.8 92.2,535.6 91.3,536.3 90.4,536.9 89.4,537.6 88.4,538.2 87.3,538.7 86.2,539.3 85.1,539.8 84.0,540.3 82.8,540.7 81.6,541.1 80.4,541.5" fill="url(#tg11)"/>
<linearGradient id="tg12" gradientUnits="userSpaceOnUse" x1="111.9" y1="556.8" x2="130.3" y2="509.5"><stop offset="0" stop-color="#3b5b77" stop-opacity="0.15"/><stop offset="0.45" stop-color="#3b5b77" stop-opacity="1"/></linearGradient><polygon points="112.0,556.9 113.4,555.6 114.7,554.3 116.0,552.9 117.3,551.5 118.5,550.1 119.7,548.7 120.8,547.2 121.9,545.7 122.9,544.2 123.9,542.7 124.8,541.1 125.7,539.5 126.5,537.8 127.3,536.2 128.0,534.4 128.7,532.7 129.3,530.9 129.9,529.1 130.4,527.3 130.9,525.4 131.3,523.5 131.6,521.6 131.9,519.7 132.2,517.7 132.4,515.6 132.6,513.6 132.7,511.5 132.7,509.4 127.9,509.6 128.1,511.6 128.2,513.6 128.2,515.5 128.2,517.4 128.2,519.3 128.1,521.2 127.9,523.0 127.7,524.9 127.5,526.7 127.1,528.5 126.8,530.2 126.3,532.0 125.9,533.7 125.3,535.4 124.7,537.1 124.1,538.7 123.4,540.4 122.6,542.0 121.8,543.6 120.9,545.1 120.0,546.7 119.0,548.2 117.9,549.7 116.8,551.1 115.7,552.6 114.4,554.0 113.2,555.4 111.8,556.7" fill="url(#tg12)"/>
<linearGradient id="tg13" gradientUnits="userSpaceOnUse" x1="122.4" y1="552.2" x2="141.5" y2="516.0"><stop offset="0" stop-color="#b5453d" stop-opacity="0.15"/><stop offset="0.45" stop-color="#b5453d" stop-opacity="1"/></linearGradient><polygon points="122.5,552.3 123.9,551.3 125.2,550.3 126.5,549.3 127.7,548.3 128.9,547.2 130.1,546.2 131.2,545.1 132.3,543.9 133.3,542.8 134.2,541.6 135.2,540.4 136.0,539.2 136.9,537.9 137.7,536.7 138.4,535.4 139.1,534.0 139.7,532.7 140.3,531.3 140.9,529.9 141.4,528.4 141.8,527.0 142.2,525.5 142.5,524.0 142.8,522.4 143.1,520.8 143.3,519.2 143.4,517.6 143.5,516.0 139.5,516.0 139.6,517.6 139.6,519.1 139.6,520.6 139.5,522.0 139.4,523.5 139.3,524.9 139.0,526.3 138.8,527.8 138.5,529.1 138.1,530.5 137.7,531.9 137.2,533.2 136.7,534.5 136.1,535.8 135.5,537.1 134.8,538.4 134.0,539.6 133.2,540.9 132.4,542.1 131.5,543.3 130.5,544.5 129.5,545.6 128.5,546.8 127.4,547.9 126.2,549.0 125.0,550.0 123.7,551.1 122.3,552.1" fill="url(#tg13)"/>
<linearGradient id="tg14" gradientUnits="userSpaceOnUse" x1="179.5" y1="539.9" x2="172.8" y2="514.2"><stop offset="0" stop-color="#b5453d" stop-opacity="0.15"/><stop offset="0.45" stop-color="#b5453d" stop-opacity="1"/></linearGradient><polygon points="179.6,539.9 179.7,538.6 179.8,537.3 179.8,536.0 179.9,534.7 179.9,533.5 179.9,532.3 179.9,531.2 179.8,530.0 179.7,528.9 179.7,527.9 179.6,526.8 179.4,525.8 179.3,524.8 179.1,523.8 178.9,522.9 178.7,522.0 178.4,521.1 178.2,520.2 177.9,519.3 177.6,518.5 177.2,517.7 176.8,517.0 176.4,516.2 176.0,515.5 175.6,514.8 175.1,514.1 174.5,513.5 174.0,512.9 171.6,515.5 172.1,515.9 172.6,516.4 173.1,516.8 173.6,517.3 174.1,517.8 174.6,518.4 175.0,519.0 175.4,519.6 175.8,520.3 176.2,521.0 176.6,521.8 176.9,522.5 177.2,523.4 177.5,524.2 177.8,525.1 178.1,526.1 178.3,527.0 178.5,528.0 178.7,529.1 178.9,530.1 179.1,531.2 179.2,532.4 179.3,533.5 179.3,534.8 179.4,536.0 179.4,537.3 179.4,538.6 179.4,539.9" fill="url(#tg14)"/>
<linearGradient id="tg15" gradientUnits="userSpaceOnUse" x1="193.7" y1="535.1" x2="181.4" y2="514.2"><stop offset="0" stop-color="#3b5b77" stop-opacity="0.15"/><stop offset="0.45" stop-color="#3b5b77" stop-opacity="1"/></linearGradient><polygon points="193.8,535.1 193.8,534.0 193.8,533.0 193.7,531.9 193.7,530.9 193.5,530.0 193.4,529.0 193.2,528.0 193.1,527.1 192.8,526.2 192.6,525.3 192.3,524.4 192.0,523.6 191.6,522.7 191.2,521.9 190.8,521.1 190.3,520.3 189.9,519.6 189.3,518.8 188.8,518.1 188.2,517.4 187.6,516.7 186.9,516.1 186.2,515.4 185.5,514.8 184.7,514.2 183.9,513.6 183.1,513.1 182.2,512.6 180.6,515.8 181.4,516.2 182.2,516.5 183.0,516.9 183.8,517.3 184.5,517.7 185.2,518.2 185.9,518.6 186.5,519.1 187.1,519.7 187.7,520.2 188.3,520.8 188.8,521.4 189.3,522.1 189.8,522.7 190.3,523.4 190.7,524.2 191.1,524.9 191.5,525.7 191.9,526.5 192.2,527.4 192.5,528.2 192.7,529.1 193.0,530.1 193.1,531.0 193.3,532.0 193.4,533.0 193.5,534.0 193.6,535.1" fill="url(#tg15)"/>
<linearGradient id="tg16" gradientUnits="userSpaceOnUse" x1="235.5" y1="429.9" x2="203.8" y2="456.1"><stop offset="0" stop-color="#3b5b77" stop-opacity="0.15"/><stop offset="0.45" stop-color="#3b5b77" stop-opacity="1"/></linearGradient><polygon points="235.5,429.8 234.0,430.0 232.5,430.3 231.1,430.6 229.7,431.0 228.3,431.4 226.9,431.9 225.6,432.4 224.2,432.9 222.9,433.6 221.6,434.2 220.3,434.9 219.1,435.7 217.9,436.5 216.7,437.4 215.5,438.4 214.3,439.3 213.2,440.4 212.1,441.5 211.0,442.6 209.9,443.8 208.8,445.1 207.8,446.4 206.8,447.7 205.8,449.2 204.9,450.6 204.0,452.1 203.1,453.7 202.2,455.3 205.4,456.9 206.1,455.3 206.9,453.7 207.6,452.2 208.4,450.7 209.2,449.3 210.0,447.9 210.9,446.6 211.8,445.3 212.7,444.1 213.6,442.9 214.6,441.8 215.6,440.7 216.6,439.7 217.7,438.7 218.8,437.7 219.9,436.8 221.0,436.0 222.2,435.2 223.4,434.4 224.6,433.8 225.9,433.1 227.2,432.5 228.5,432.0 229.8,431.5 231.2,431.0 232.6,430.6 234.1,430.3 235.5,430.0" fill="url(#tg16)"/>
<linearGradient id="tg17" gradientUnits="userSpaceOnUse" x1="236.6" y1="429.9" x2="211.4" y2="461.6"><stop offset="0" stop-color="#b5453d" stop-opacity="0.15"/><stop offset="0.45" stop-color="#b5453d" stop-opacity="1"/></linearGradient><polygon points="236.5,429.9 236.4,431.5 236.3,433.1 236.1,434.6 235.8,436.1 235.5,437.6 235.1,439.0 234.6,440.3 234.1,441.7 233.5,442.9 232.8,444.2 232.1,445.4 231.3,446.5 230.5,447.6 229.6,448.7 228.6,449.7 227.6,450.7 226.5,451.7 225.4,452.6 224.2,453.4 222.9,454.3 221.6,455.1 220.2,455.8 218.8,456.6 217.3,457.2 215.7,457.9 214.1,458.5 212.4,459.1 210.7,459.6 212.1,463.6 213.9,462.8 215.6,462.0 217.3,461.2 218.9,460.4 220.4,459.5 221.8,458.5 223.2,457.6 224.6,456.6 225.8,455.5 227.0,454.5 228.1,453.4 229.1,452.2 230.1,451.1 231.0,449.9 231.9,448.6 232.6,447.4 233.3,446.1 234.0,444.7 234.5,443.4 235.0,442.0 235.5,440.6 235.8,439.2 236.1,437.7 236.4,436.2 236.5,434.7 236.7,433.1 236.7,431.5 236.7,429.9" fill="url(#tg17)"/>
<linearGradient id="tg18" gradientUnits="userSpaceOnUse" x1="211.4" y1="483.5" x2="270.5" y2="453.3"><stop offset="0" stop-color="#3b5b77" stop-opacity="0.15"/><stop offset="0.45" stop-color="#3b5b77" stop-opacity="1"/></linearGradient><polygon points="211.5,483.6 212.4,482.3 213.4,481.1 214.6,479.9 215.8,478.7 217.0,477.5 218.4,476.3 219.9,475.2 221.4,474.1 223.1,472.9 224.8,471.9 226.6,470.8 228.5,469.7 230.5,468.7 232.6,467.7 234.8,466.7 237.0,465.7 239.4,464.7 241.8,463.7 244.3,462.8 246.9,461.9 249.6,461.0 252.4,460.1 255.3,459.2 258.2,458.3 261.3,457.5 264.4,456.7 267.6,455.8 271.0,455.0 270.0,451.6 266.7,452.5 263.5,453.5 260.4,454.5 257.3,455.5 254.4,456.5 251.5,457.5 248.8,458.6 246.1,459.6 243.5,460.7 241.0,461.8 238.6,462.9 236.2,464.0 234.0,465.1 231.9,466.2 229.8,467.4 227.8,468.5 226.0,469.7 224.2,470.9 222.5,472.1 220.9,473.3 219.4,474.5 218.0,475.8 216.6,477.0 215.4,478.3 214.2,479.6 213.2,480.8 212.2,482.1 211.3,483.4" fill="url(#tg18)"/>
<linearGradient id="tg19" gradientUnits="userSpaceOnUse" x1="218.0" y1="481.3" x2="282.6" y2="453.9"><stop offset="0" stop-color="#b5453d" stop-opacity="0.15"/><stop offset="0.45" stop-color="#b5453d" stop-opacity="1"/></linearGradient><polygon points="218.0,481.4 221.1,481.2 224.1,481.0 227.1,480.7 230.0,480.4 232.9,480.0 235.7,479.5 238.5,479.1 241.2,478.5 243.8,477.9 246.4,477.3 249.0,476.6 251.5,475.8 253.9,475.0 256.3,474.1 258.7,473.2 261.0,472.2 263.2,471.1 265.4,470.0 267.6,468.8 269.7,467.6 271.7,466.3 273.7,465.0 275.6,463.6 277.5,462.1 279.4,460.6 281.2,459.0 282.9,457.3 284.6,455.6 280.6,452.2 279.2,453.9 277.8,455.6 276.3,457.3 274.7,458.9 273.1,460.4 271.3,461.9 269.6,463.4 267.8,464.7 265.9,466.1 263.9,467.4 261.9,468.6 259.8,469.8 257.7,470.9 255.5,472.0 253.2,473.0 250.9,474.0 248.5,474.9 246.0,475.8 243.5,476.6 240.9,477.3 238.2,478.0 235.5,478.6 232.8,479.2 229.9,479.7 227.0,480.2 224.1,480.6 221.1,480.9 218.0,481.2" fill="url(#tg19)"/>
<linearGradient id="tg20" gradientUnits="userSpaceOnUse" x1="206.0" y1="489.0" x2="236.6" y2="487.9"><stop offset="0" stop-color="#3b5b77" stop-opacity="0.15"/><stop offset="0.45" stop-color="#3b5b77" stop-opacity="1"/></linearGradient><polygon points="206.0,489.1 207.1,489.1 208.2,489.1 209.2,489.1 210.3,489.1 211.4,489.0 212.5,489.0 213.5,489.0 214.6,489.0 215.7,489.0 216.8,489.0 217.9,489.0 219.0,489.0 220.1,489.0 221.2,489.0 222.3,489.0 223.4,489.0 224.5,489.0 225.6,489.0 226.7,489.0 227.8,489.0 228.9,489.0 230.0,489.0 231.1,489.0 232.2,489.0 233.3,489.0 234.4,489.0 235.5,489.0 236.6,489.0 236.6,486.8 235.4,486.9 234.3,487.0 233.2,487.1 232.1,487.1 231.0,487.2 229.9,487.3 228.8,487.4 227.7,487.5 226.6,487.6 225.5,487.6 224.4,487.7 223.3,487.8 222.2,487.9 221.1,488.0 220.0,488.0 219.0,488.1 217.9,488.2 216.8,488.2 215.7,488.3 214.6,488.4 213.5,488.5 212.4,488.5 211.4,488.6 210.3,488.7 209.2,488.7 208.1,488.8 207.1,488.8 206.0,488.9" fill="url(#tg20)"/>
<linearGradient id="tg21" gradientUnits="userSpaceOnUse" x1="208.1" y1="497.7" x2="242.1" y2="497.1"><stop offset="0" stop-color="#b5453d" stop-opacity="0.15"/><stop offset="0.45" stop-color="#b5453d" stop-opacity="1"/></linearGradient><polygon points="208.1,497.8 209.3,497.8 210.5,497.8 211.7,497.8 212.9,497.8 214.1,497.8 215.4,497.8 216.6,497.8 217.8,497.8 219.0,497.8 220.2,497.8 221.4,497.8 222.6,497.9 223.8,497.9 225.1,497.9 226.3,497.9 227.5,497.9 228.7,497.9 229.9,497.9 231.1,497.9 232.4,498.0 233.6,498.0 234.8,498.0 236.0,498.0 237.2,498.0 238.5,498.0 239.7,498.1 240.9,498.1 242.1,498.1 242.1,496.1 240.9,496.2 239.6,496.2 238.4,496.3 237.2,496.3 236.0,496.4 234.8,496.5 233.5,496.5 232.3,496.6 231.1,496.6 229.9,496.7 228.7,496.8 227.5,496.8 226.3,496.9 225.0,496.9 223.8,497.0 222.6,497.0 221.4,497.1 220.2,497.1 219.0,497.2 217.8,497.2 216.6,497.3 215.3,497.3 214.1,497.4 212.9,497.4 211.7,497.5 210.5,497.5 209.3,497.5 208.1,497.6" fill="url(#tg21)"/>
<linearGradient id="tg22" gradientUnits="userSpaceOnUse" x1="204.9" y1="503.0" x2="242.1" y2="517.2"><stop offset="0" stop-color="#3b5b77" stop-opacity="0.15"/><stop offset="0.45" stop-color="#3b5b77" stop-opacity="1"/></linearGradient><polygon points="204.9,503.1 206.5,503.1 208.2,503.0 209.7,503.1 211.3,503.2 212.8,503.3 214.4,503.5 215.8,503.7 217.3,504.0 218.7,504.3 220.1,504.6 221.5,505.0 222.9,505.5 224.2,506.0 225.5,506.5 226.7,507.1 228.0,507.7 229.2,508.4 230.4,509.1 231.6,509.8 232.7,510.6 233.8,511.4 234.9,512.3 235.9,513.2 237.0,514.1 238.0,515.1 239.0,516.2 239.9,517.2 240.8,518.3 243.4,516.1 242.3,515.0 241.1,513.9 240.0,512.9 238.8,512.0 237.6,511.1 236.4,510.2 235.2,509.4 233.9,508.7 232.7,508.0 231.4,507.3 230.1,506.7 228.7,506.1 227.4,505.6 226.0,505.1 224.6,504.6 223.2,504.3 221.8,503.9 220.4,503.6 218.9,503.3 217.4,503.1 215.9,502.9 214.4,502.8 212.9,502.7 211.3,502.7 209.7,502.7 208.2,502.7 206.5,502.8 204.9,502.9" fill="url(#tg22)"/>
<linearGradient id="tg23" gradientUnits="userSpaceOnUse" x1="203.8" y1="508.5" x2="234.4" y2="524.9"><stop offset="0" stop-color="#b5453d" stop-opacity="0.15"/><stop offset="0.45" stop-color="#b5453d" stop-opacity="1"/></linearGradient><polygon points="203.7,508.5 204.1,509.6 204.6,510.7 205.2,511.8 205.8,512.8 206.4,513.7 207.1,514.7 207.8,515.6 208.6,516.4 209.4,517.3 210.3,518.1 211.2,518.8 212.2,519.6 213.2,520.3 214.2,520.9 215.4,521.5 216.5,522.1 217.8,522.7 219.0,523.2 220.3,523.7 221.7,524.1 223.1,524.5 224.6,524.9 226.1,525.2 227.6,525.5 229.2,525.8 230.9,526.0 232.6,526.2 234.3,526.3 234.5,523.5 232.8,523.5 231.1,523.4 229.5,523.3 228.0,523.2 226.4,523.0 225.0,522.8 223.6,522.6 222.2,522.3 220.9,522.0 219.6,521.6 218.3,521.2 217.1,520.8 216.0,520.3 214.9,519.8 213.8,519.2 212.8,518.6 211.8,518.0 210.8,517.4 209.9,516.6 209.1,515.9 208.3,515.1 207.5,514.3 206.8,513.4 206.1,512.5 205.5,511.6 204.9,510.6 204.4,509.5 203.9,508.5" fill="url(#tg23)"/>
<linearGradient id="tg24" gradientUnits="userSpaceOnUse" x1="195.0" y1="514.0" x2="249.7" y2="557.7"><stop offset="0" stop-color="#3b5b77" stop-opacity="0.15"/><stop offset="0.45" stop-color="#3b5b77" stop-opacity="1"/></linearGradient><polygon points="195.0,514.1 197.9,514.8 200.8,515.6 203.6,516.4 206.3,517.3 209.0,518.3 211.5,519.4 214.0,520.5 216.4,521.6 218.7,522.9 221.0,524.2 223.1,525.6 225.2,527.0 227.2,528.5 229.2,530.1 231.0,531.7 232.8,533.4 234.5,535.1 236.1,536.9 237.6,538.8 239.1,540.7 240.5,542.7 241.8,544.7 243.0,546.9 244.2,549.0 245.2,551.3 246.2,553.5 247.2,555.9 248.0,558.3 251.4,557.1 250.4,554.6 249.2,552.2 248.0,549.9 246.8,547.6 245.5,545.4 244.0,543.3 242.6,541.2 241.0,539.2 239.4,537.3 237.7,535.5 235.9,533.7 234.1,532.0 232.2,530.4 230.2,528.8 228.1,527.3 226.0,525.9 223.8,524.5 221.5,523.2 219.2,522.0 216.8,520.8 214.3,519.7 211.8,518.7 209.2,517.7 206.5,516.9 203.7,516.0 200.9,515.2 198.0,514.5 195.0,513.9" fill="url(#tg24)"/>
<linearGradient id="tg25" gradientUnits="userSpaceOnUse" x1="195.0" y1="518.3" x2="237.7" y2="563.2"><stop offset="0" stop-color="#b5453d" stop-opacity="0.15"/><stop offset="0.45" stop-color="#b5453d" stop-opacity="1"/></linearGradient><polygon points="195.0,518.4 197.1,519.3 199.3,520.3 201.3,521.3 203.3,522.3 205.3,523.5 207.2,524.6 209.0,525.9 210.8,527.2 212.6,528.5 214.3,529.9 215.9,531.4 217.5,532.9 219.0,534.4 220.5,536.0 221.9,537.7 223.3,539.4 224.6,541.1 225.9,543.0 227.1,544.8 228.3,546.7 229.4,548.7 230.4,550.7 231.4,552.8 232.4,554.9 233.3,557.1 234.2,559.3 235.0,561.6 235.7,563.9 239.7,562.5 238.7,560.1 237.7,557.8 236.6,555.6 235.5,553.4 234.4,551.3 233.2,549.2 231.9,547.2 230.6,545.2 229.3,543.3 227.9,541.5 226.4,539.7 225.0,538.0 223.4,536.3 221.8,534.7 220.2,533.2 218.6,531.7 216.8,530.3 215.1,528.9 213.3,527.6 211.4,526.3 209.5,525.1 207.6,524.0 205.6,522.9 203.6,521.8 201.5,520.8 199.4,519.9 197.2,519.0 195.0,518.2" fill="url(#tg25)"/>
<text x="81.00" y="431.30" font-size="5.75" fill="#c0524b" stroke="#c0524b" stroke-width="0.042">53.9%</text>
<text x="76.90" y="454.80" font-size="5.75" fill="#506f89" stroke="#506f89" stroke-width="0.042">19.0%</text>
<text x="83.20" y="473.30" font-size="5.75" fill="#c0524b" stroke="#c0524b" stroke-width="0.042">34.2%</text>
<text x="84.00" y="494.70" font-size="5.75" fill="#506f89" stroke="#506f89" stroke-width="0.042">16.4%</text>
<text x="67.20" y="516.00" font-size="5.75" fill="#c0524b" stroke="#c0524b" stroke-width="0.042">68.3%</text>
<text x="69.90" y="537.70" font-size="5.75" fill="#506f89" stroke="#506f89" stroke-width="0.042">33.7%</text>
<text x="108.60" y="537.70" font-size="5.75" fill="#506f89" stroke="#506f89" stroke-width="0.042">75.7%</text>
<text x="136.90" y="543.00" font-size="5.75" fill="#c0524b" stroke="#c0524b" stroke-width="0.042">59.1%</text>
<text x="162.40" y="531.50" font-size="5.75" fill="#c0524b" stroke="#c0524b" stroke-width="0.042">53.3%</text>
<text x="195.60" y="535.30" font-size="5.75" fill="#506f89" stroke="#506f89" stroke-width="0.042">68.9%</text>
<text x="210.60" y="555.20" font-size="5.75" fill="#c0524b" stroke="#c0524b" stroke-width="0.042">49.3%</text>
<text x="192.90" y="441.30" font-size="5.75" fill="#506f89" stroke="#506f89" stroke-width="0.042">34.1%</text>
<text x="213.40" y="447.90" font-size="5.75" fill="#c0524b" stroke="#c0524b" stroke-width="0.042">75.4%</text>
<text x="233.30" y="472.00" font-size="5.75" fill="#506f89" stroke="#506f89" stroke-width="0.042">91.9%</text>
<text x="274.90" y="469.20" font-size="5.75" fill="#c0524b" stroke="#c0524b" stroke-width="0.042">49.1%</text>
<text x="209.20" y="496.10" font-size="5.75" fill="#506f89" stroke="#506f89" stroke-width="0.042">71.1%</text>
<text x="237.70" y="505.10" font-size="5.75" fill="#c0524b" stroke="#c0524b" stroke-width="0.042">44.4%</text>
<text x="212.50" y="514.90" font-size="5.75" fill="#506f89" stroke="#506f89" stroke-width="0.042">77.6%</text>
<text x="228.90" y="534.20" font-size="5.75" fill="#c0524b" stroke="#c0524b" stroke-width="0.042">48.0%</text>
<text x="239.90" y="546.00" font-size="5.75" fill="#506f89" stroke="#506f89" stroke-width="0.042">95.6%</text></g>
</svg>
</body></html>
